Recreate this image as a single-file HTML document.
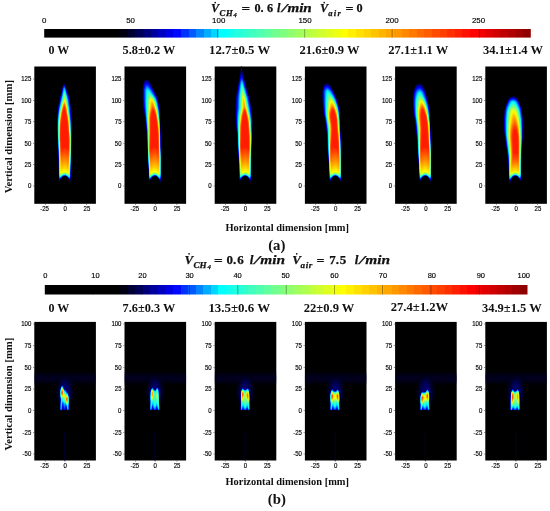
<!DOCTYPE html>
<html><head><meta charset="utf-8"><title>Flame figure</title>
<style>
html,body{margin:0;padding:0;background:#fff;}
body{width:550px;height:511px;overflow:hidden;}
svg{display:block;}
.tk{font-family:"Liberation Sans",sans-serif;fill:#000;stroke:#000;stroke-width:0.15px;}
.lb{font-family:"Liberation Serif",serif;font-weight:bold;fill:#111;}
.ti{font-family:"Liberation Serif",serif;font-weight:bold;font-style:italic;fill:#111;stroke:#111;stroke-width:0.25px;}
.tb{font-family:"Liberation Serif",serif;font-weight:bold;fill:#111;stroke:#111;stroke-width:0.25px;}
.cp{font-family:"Liberation Serif",serif;font-weight:bold;fill:#111;}
</style></head><body>
<svg width="550" height="511" viewBox="0 0 550 511">
<defs><filter id="bl" x="-5%" y="-5%" width="110%" height="110%"><feGaussianBlur stdDeviation="0.35"/></filter><filter id="bl2" x="-10%" y="-10%" width="120%" height="120%"><feGaussianBlur stdDeviation="0.3"/></filter>
<linearGradient id="cb" x1="0" x2="1" y1="0" y2="0"><stop offset="0.0000" stop-color="#000000"/><stop offset="0.0156" stop-color="#000000"/><stop offset="0.0156" stop-color="#000000"/><stop offset="0.0312" stop-color="#000000"/><stop offset="0.0312" stop-color="#000000"/><stop offset="0.0469" stop-color="#000000"/><stop offset="0.0469" stop-color="#000000"/><stop offset="0.0625" stop-color="#000000"/><stop offset="0.0625" stop-color="#000000"/><stop offset="0.0781" stop-color="#000000"/><stop offset="0.0781" stop-color="#000000"/><stop offset="0.0938" stop-color="#000000"/><stop offset="0.0938" stop-color="#000000"/><stop offset="0.1094" stop-color="#000000"/><stop offset="0.1094" stop-color="#000000"/><stop offset="0.1250" stop-color="#000000"/><stop offset="0.1250" stop-color="#000000"/><stop offset="0.1406" stop-color="#000000"/><stop offset="0.1406" stop-color="#000000"/><stop offset="0.1562" stop-color="#000000"/><stop offset="0.1562" stop-color="#000012"/><stop offset="0.1719" stop-color="#000012"/><stop offset="0.1719" stop-color="#000035"/><stop offset="0.1875" stop-color="#000035"/><stop offset="0.1875" stop-color="#000058"/><stop offset="0.2031" stop-color="#000058"/><stop offset="0.2031" stop-color="#00007b"/><stop offset="0.2188" stop-color="#00007b"/><stop offset="0.2188" stop-color="#00009e"/><stop offset="0.2344" stop-color="#00009e"/><stop offset="0.2344" stop-color="#0000c1"/><stop offset="0.2500" stop-color="#0000c1"/><stop offset="0.2500" stop-color="#0000e4"/><stop offset="0.2656" stop-color="#0000e4"/><stop offset="0.2656" stop-color="#0009ff"/><stop offset="0.2812" stop-color="#0009ff"/><stop offset="0.2812" stop-color="#0032ff"/><stop offset="0.2969" stop-color="#0032ff"/><stop offset="0.2969" stop-color="#005bff"/><stop offset="0.3125" stop-color="#005bff"/><stop offset="0.3125" stop-color="#0084ff"/><stop offset="0.3281" stop-color="#0084ff"/><stop offset="0.3281" stop-color="#00adff"/><stop offset="0.3438" stop-color="#00adff"/><stop offset="0.3438" stop-color="#00d6ff"/><stop offset="0.3594" stop-color="#00d6ff"/><stop offset="0.3594" stop-color="#00ffff"/><stop offset="0.3750" stop-color="#00ffff"/><stop offset="0.3750" stop-color="#10ffef"/><stop offset="0.3906" stop-color="#10ffef"/><stop offset="0.3906" stop-color="#20ffdf"/><stop offset="0.4062" stop-color="#20ffdf"/><stop offset="0.4062" stop-color="#30ffcf"/><stop offset="0.4219" stop-color="#30ffcf"/><stop offset="0.4219" stop-color="#40ffbf"/><stop offset="0.4375" stop-color="#40ffbf"/><stop offset="0.4375" stop-color="#50ffaf"/><stop offset="0.4531" stop-color="#50ffaf"/><stop offset="0.4531" stop-color="#60ff9f"/><stop offset="0.4688" stop-color="#60ff9f"/><stop offset="0.4688" stop-color="#70ff8f"/><stop offset="0.4844" stop-color="#70ff8f"/><stop offset="0.4844" stop-color="#80ff7f"/><stop offset="0.5000" stop-color="#80ff7f"/><stop offset="0.5000" stop-color="#90ff6f"/><stop offset="0.5156" stop-color="#90ff6f"/><stop offset="0.5156" stop-color="#a0ff5f"/><stop offset="0.5312" stop-color="#a0ff5f"/><stop offset="0.5312" stop-color="#b0ff4f"/><stop offset="0.5469" stop-color="#b0ff4f"/><stop offset="0.5469" stop-color="#bfff40"/><stop offset="0.5625" stop-color="#bfff40"/><stop offset="0.5625" stop-color="#cfff30"/><stop offset="0.5781" stop-color="#cfff30"/><stop offset="0.5781" stop-color="#dfff20"/><stop offset="0.5938" stop-color="#dfff20"/><stop offset="0.5938" stop-color="#efff10"/><stop offset="0.6094" stop-color="#efff10"/><stop offset="0.6094" stop-color="#ffff00"/><stop offset="0.6250" stop-color="#ffff00"/><stop offset="0.6250" stop-color="#fff000"/><stop offset="0.6406" stop-color="#fff000"/><stop offset="0.6406" stop-color="#ffe100"/><stop offset="0.6562" stop-color="#ffe100"/><stop offset="0.6562" stop-color="#ffd200"/><stop offset="0.6719" stop-color="#ffd200"/><stop offset="0.6719" stop-color="#ffc300"/><stop offset="0.6875" stop-color="#ffc300"/><stop offset="0.6875" stop-color="#ffb400"/><stop offset="0.7031" stop-color="#ffb400"/><stop offset="0.7031" stop-color="#ffa600"/><stop offset="0.7188" stop-color="#ffa600"/><stop offset="0.7188" stop-color="#ff9700"/><stop offset="0.7344" stop-color="#ff9700"/><stop offset="0.7344" stop-color="#ff8800"/><stop offset="0.7500" stop-color="#ff8800"/><stop offset="0.7500" stop-color="#ff7900"/><stop offset="0.7656" stop-color="#ff7900"/><stop offset="0.7656" stop-color="#ff6a00"/><stop offset="0.7812" stop-color="#ff6a00"/><stop offset="0.7812" stop-color="#ff5b00"/><stop offset="0.7969" stop-color="#ff5b00"/><stop offset="0.7969" stop-color="#ff4c00"/><stop offset="0.8125" stop-color="#ff4c00"/><stop offset="0.8125" stop-color="#ff3e00"/><stop offset="0.8281" stop-color="#ff3e00"/><stop offset="0.8281" stop-color="#ff2f00"/><stop offset="0.8438" stop-color="#ff2f00"/><stop offset="0.8438" stop-color="#ff2000"/><stop offset="0.8594" stop-color="#ff2000"/><stop offset="0.8594" stop-color="#ff1100"/><stop offset="0.8750" stop-color="#ff1100"/><stop offset="0.8750" stop-color="#ff0200"/><stop offset="0.8906" stop-color="#ff0200"/><stop offset="0.8906" stop-color="#f10000"/><stop offset="0.9062" stop-color="#f10000"/><stop offset="0.9062" stop-color="#e10000"/><stop offset="0.9219" stop-color="#e10000"/><stop offset="0.9219" stop-color="#d00000"/><stop offset="0.9375" stop-color="#d00000"/><stop offset="0.9375" stop-color="#c00000"/><stop offset="0.9531" stop-color="#c00000"/><stop offset="0.9531" stop-color="#b00000"/><stop offset="0.9688" stop-color="#b00000"/><stop offset="0.9688" stop-color="#a00000"/><stop offset="0.9844" stop-color="#a00000"/><stop offset="0.9844" stop-color="#8f0000"/><stop offset="1.0000" stop-color="#8f0000"/></linearGradient></defs>
<text x="211.0" y="12.2" class="ti" font-size="12.20" text-anchor="start" >V</text>
<circle cx="215.2" cy="2.6" r="0.85" fill="#111"/>
<text x="219.6" y="15.6" class="ti" font-size="8.60" text-anchor="start" textLength="13.0" lengthAdjust="spacing">CH</text>
<text x="233.6" y="15.6" class="ti" font-size="8.60" text-anchor="start" ><tspan font-size="6.4" dy="1.3">4</tspan></text>
<text x="241.4" y="13.4" class="tb" font-size="12.20" text-anchor="start" textLength="8.6" lengthAdjust="spacingAndGlyphs">=</text>
<text x="254.4" y="12.2" class="tb" font-size="12.20" text-anchor="start" >0.</text>
<text x="266.9" y="12.2" class="tb" font-size="12.20" text-anchor="start" >6</text>
<text x="277.0" y="12.2" class="ti" font-size="12.20" text-anchor="start" >l</text>
<text x="281.7" y="12.2" class="ti" font-size="12.20" text-anchor="start" textLength="5.6" lengthAdjust="spacingAndGlyphs">/</text>
<text x="287.4" y="12.2" class="ti" font-size="12.20" text-anchor="start" textLength="24.4" lengthAdjust="spacingAndGlyphs">min</text>
<text x="320.0" y="12.2" class="ti" font-size="12.20" text-anchor="start" >V</text>
<circle cx="324.2" cy="2.6" r="0.85" fill="#111"/>
<text x="328.2" y="15.6" class="ti" font-size="8.60" text-anchor="start" textLength="12.6" lengthAdjust="spacing">air</text>
<text x="345.6" y="13.4" class="tb" font-size="12.20" text-anchor="start" textLength="8.0" lengthAdjust="spacingAndGlyphs">=</text>
<text x="356.6" y="12.2" class="tb" font-size="12.20" text-anchor="start" >0</text>
<text x="184.6" y="264.0" class="ti" font-size="13.00" text-anchor="start" >V</text>
<circle cx="189.1" cy="253.8" r="0.85" fill="#111"/>
<text x="193.4" y="267.6" class="ti" font-size="9.10" text-anchor="start" textLength="13.2" lengthAdjust="spacing">CH</text>
<text x="207.4" y="267.6" class="ti" font-size="9.10" text-anchor="start" ><tspan font-size="6.8" dy="1.4">4</tspan></text>
<text x="214.0" y="265.2" class="tb" font-size="13.00" text-anchor="start" textLength="8.8" lengthAdjust="spacingAndGlyphs">=</text>
<text x="226.6" y="264.0" class="tb" font-size="13.00" text-anchor="start" >0.</text>
<text x="237.3" y="264.0" class="tb" font-size="13.00" text-anchor="start" >6</text>
<text x="249.7" y="264.0" class="ti" font-size="13.00" text-anchor="start" >l</text>
<text x="254.2" y="264.0" class="ti" font-size="13.00" text-anchor="start" textLength="5.8" lengthAdjust="spacingAndGlyphs">/</text>
<text x="260.3" y="264.0" class="ti" font-size="13.00" text-anchor="start" textLength="24.8" lengthAdjust="spacingAndGlyphs">min</text>
<text x="292.2" y="264.0" class="ti" font-size="13.00" text-anchor="start" >V</text>
<circle cx="296.7" cy="253.8" r="0.85" fill="#111"/>
<text x="300.6" y="267.6" class="ti" font-size="9.10" text-anchor="start" textLength="11.6" lengthAdjust="spacing">air</text>
<text x="316.6" y="265.2" class="tb" font-size="13.00" text-anchor="start" textLength="8.0" lengthAdjust="spacingAndGlyphs">=</text>
<text x="329.2" y="264.0" class="tb" font-size="13.00" text-anchor="start" >7.</text>
<text x="339.8" y="264.0" class="tb" font-size="13.00" text-anchor="start" >5</text>
<text x="354.7" y="264.0" class="ti" font-size="13.00" text-anchor="start" >l</text>
<text x="359.2" y="264.0" class="ti" font-size="13.00" text-anchor="start" textLength="5.8" lengthAdjust="spacingAndGlyphs">/</text>
<text x="365.3" y="264.0" class="ti" font-size="13.00" text-anchor="start" textLength="24.8" lengthAdjust="spacingAndGlyphs">min</text>
<rect x="44.2" y="29.0" width="486.6" height="8.6" fill="url(#cb)"/>
<text x="44.3" y="23.4" class="tk" font-size="7.90" text-anchor="middle" >0</text>
<text x="130.6" y="23.4" class="tk" font-size="7.90" text-anchor="middle" >50</text>
<rect x="129.90" y="29.0" width="0.6" height="8.6" fill="#000" fill-opacity="0.55"/>
<text x="218.7" y="23.4" class="tk" font-size="7.90" text-anchor="middle" >100</text>
<rect x="217.20" y="29.0" width="0.6" height="8.6" fill="#000" fill-opacity="0.55"/>
<text x="305.0" y="23.4" class="tk" font-size="7.90" text-anchor="middle" >150</text>
<rect x="304.50" y="29.0" width="0.6" height="8.6" fill="#000" fill-opacity="0.55"/>
<text x="392.0" y="23.4" class="tk" font-size="7.90" text-anchor="middle" >200</text>
<rect x="391.80" y="29.0" width="0.6" height="8.6" fill="#000" fill-opacity="0.55"/>
<text x="478.5" y="23.4" class="tk" font-size="7.90" text-anchor="middle" >250</text>
<rect x="479.10" y="29.0" width="0.6" height="8.6" fill="#000" fill-opacity="0.55"/>
<rect x="44.8" y="285.0" width="482.7" height="9.5" fill="url(#cb)"/>
<text x="45.3" y="278.3" class="tk" font-size="7.50" text-anchor="middle" >0</text>
<text x="95.5" y="278.3" class="tk" font-size="7.50" text-anchor="middle" >10</text>
<rect x="92.77" y="285.0" width="0.6" height="9.5" fill="#000" fill-opacity="0.55"/>
<text x="142.4" y="278.3" class="tk" font-size="7.50" text-anchor="middle" >20</text>
<rect x="141.04" y="285.0" width="0.6" height="9.5" fill="#000" fill-opacity="0.55"/>
<text x="189.6" y="278.3" class="tk" font-size="7.50" text-anchor="middle" >30</text>
<rect x="189.31" y="285.0" width="0.6" height="9.5" fill="#000" fill-opacity="0.55"/>
<text x="237.6" y="278.3" class="tk" font-size="7.50" text-anchor="middle" >40</text>
<rect x="237.58" y="285.0" width="0.6" height="9.5" fill="#000" fill-opacity="0.55"/>
<text x="285.6" y="278.3" class="tk" font-size="7.50" text-anchor="middle" >50</text>
<rect x="285.85" y="285.0" width="0.6" height="9.5" fill="#000" fill-opacity="0.55"/>
<text x="334.5" y="278.3" class="tk" font-size="7.50" text-anchor="middle" >60</text>
<rect x="334.12" y="285.0" width="0.6" height="9.5" fill="#000" fill-opacity="0.55"/>
<text x="383.0" y="278.3" class="tk" font-size="7.50" text-anchor="middle" >70</text>
<rect x="382.39" y="285.0" width="0.6" height="9.5" fill="#000" fill-opacity="0.55"/>
<text x="431.8" y="278.3" class="tk" font-size="7.50" text-anchor="middle" >80</text>
<rect x="430.66" y="285.0" width="0.6" height="9.5" fill="#000" fill-opacity="0.55"/>
<text x="480.8" y="278.3" class="tk" font-size="7.50" text-anchor="middle" >90</text>
<rect x="478.93" y="285.0" width="0.6" height="9.5" fill="#000" fill-opacity="0.55"/>
<text x="523.8" y="278.3" class="tk" font-size="7.50" text-anchor="middle" >100</text>
<text x="48.5" y="54.3" class="lb" font-size="12.70" text-anchor="start" textLength="20.8" lengthAdjust="spacingAndGlyphs">0 W</text>
<text x="122.5" y="54.3" class="lb" font-size="12.70" text-anchor="start" textLength="52.8" lengthAdjust="spacingAndGlyphs">5.8±0.2 W</text>
<text x="209.0" y="54.3" class="lb" font-size="12.70" text-anchor="start" textLength="61.2" lengthAdjust="spacingAndGlyphs">12.7±0.5 W</text>
<text x="299.5" y="54.3" class="lb" font-size="12.70" text-anchor="start" textLength="60.0" lengthAdjust="spacingAndGlyphs">21.6±0.9 W</text>
<text x="388.3" y="54.3" class="lb" font-size="12.70" text-anchor="start" textLength="60.1" lengthAdjust="spacingAndGlyphs">27.1±1.1 W</text>
<text x="483.0" y="54.3" class="lb" font-size="12.70" text-anchor="start" textLength="60.0" lengthAdjust="spacingAndGlyphs">34.1±1.4 W</text>
<text x="48.5" y="311.6" class="lb" font-size="12.70" text-anchor="start" textLength="20.8" lengthAdjust="spacingAndGlyphs">0 W</text>
<text x="122.5" y="311.6" class="lb" font-size="12.70" text-anchor="start" textLength="52.8" lengthAdjust="spacingAndGlyphs">7.6±0.3 W</text>
<text x="208.4" y="311.6" class="lb" font-size="12.70" text-anchor="start" textLength="61.8" lengthAdjust="spacingAndGlyphs">13.5±0.6 W</text>
<text x="303.8" y="311.6" class="lb" font-size="12.70" text-anchor="start" textLength="50.6" lengthAdjust="spacingAndGlyphs">22±0.9 W</text>
<text x="390.7" y="311.0" class="lb" font-size="12.70" text-anchor="start" textLength="57.5" lengthAdjust="spacingAndGlyphs">27.4±1.2W</text>
<text x="482.0" y="311.6" class="lb" font-size="12.70" text-anchor="start" textLength="59.7" lengthAdjust="spacingAndGlyphs">34.9±1.5 W</text>
<text x="225.5" y="231.3" class="lb" font-size="10.50" text-anchor="start" textLength="123.5" lengthAdjust="spacingAndGlyphs">Horizontal dimension [mm]</text>
<text x="225.5" y="485.3" class="lb" font-size="10.50" text-anchor="start" textLength="123.5" lengthAdjust="spacingAndGlyphs">Horizontal dimension [mm]</text>
<text transform="translate(12.3,193.2) rotate(-90)" class="lb" font-size="10.7" textLength="113.2" lengthAdjust="spacingAndGlyphs">Vertical dimension [mm]</text>
<text transform="translate(12.3,450.4) rotate(-90)" class="lb" font-size="10.7" textLength="112.7" lengthAdjust="spacingAndGlyphs">Vertical dimension [mm]</text>
<text x="276.8" y="250.0" class="cp" font-size="14.80" text-anchor="middle" >(a)</text>
<text x="276.8" y="504.1" class="cp" font-size="14.80" text-anchor="middle" >(b)</text>
<rect x="34.3" y="66.5" width="61.6" height="137.3" fill="#000"/>
<rect x="34.3" y="321.9" width="61.6" height="138.6" fill="#000"/>
<rect x="124.5" y="66.5" width="61.6" height="137.3" fill="#000"/>
<rect x="124.5" y="321.9" width="61.6" height="138.6" fill="#000"/>
<rect x="214.7" y="66.5" width="61.6" height="137.3" fill="#000"/>
<rect x="214.7" y="321.9" width="61.6" height="138.6" fill="#000"/>
<rect x="304.9" y="66.5" width="61.6" height="137.3" fill="#000"/>
<rect x="304.9" y="321.9" width="61.6" height="138.6" fill="#000"/>
<rect x="395.1" y="66.5" width="61.6" height="137.3" fill="#000"/>
<rect x="395.1" y="321.9" width="61.6" height="138.6" fill="#000"/>
<rect x="485.3" y="66.5" width="61.6" height="137.3" fill="#000"/>
<rect x="485.3" y="321.9" width="61.6" height="138.6" fill="#000"/>
<g filter="url(#bl)">
<path fill="#00002a" fill-rule="evenodd" d="M64.1,83.4L64.6,83.8L65.1,84.9L69.7,98.8L70.6,105.3L71.5,118.1L71.6,122.8L71.8,143.1L70.8,165.8L70.6,179.8L70.4,182.3L70.1,183.4L69.2,180.6L68.2,178.5L67.0,177.1L65.6,176.3L64.6,176.2L63.5,176.4L62.6,176.9L61.9,177.6L60.5,179.6L59.4,183.2L59.2,183.1L58.9,180.4L58.4,156.6L58.0,144.6L57.4,136.8L56.9,127.4L57.0,119.1L57.7,109.2L59.0,101.2L63.0,85.4L63.5,84.0Z"/>
<path fill="#000057" fill-rule="evenodd" d="M64.1,83.8L64.6,84.2L65.1,85.3L69.1,96.8L69.6,98.9L70.4,105.2L71.3,118.1L71.5,122.9L71.7,143.1L70.8,165.8L70.5,179.1L70.4,180.9L70.1,181.9L68.8,179.1L67.9,177.7L66.7,176.6L65.4,176.1L63.7,176.1L62.0,177.2L60.8,178.8L59.4,181.8L59.1,181.1L58.9,179.6L58.5,156.6L58.1,144.6L57.5,136.8L57.0,127.4L57.1,119.1L57.8,109.2L59.2,101.0L63.0,85.9L63.5,84.5Z"/>
<path fill="#000084" fill-rule="evenodd" d="M64.1,84.3L64.4,84.4L64.9,85.3L68.9,96.7L69.5,98.9L70.3,105.2L71.2,118.1L71.6,133.9L71.6,142.9L70.7,165.8L70.4,178.6L70.3,180.2L70.1,181.0L69.7,180.7L68.5,178.4L67.7,177.2L66.6,176.4L65.2,175.9L63.5,176.0L62.1,176.9L61.0,178.2L59.4,181.0L59.0,179.2L58.8,162.4L58.3,147.6L57.1,127.2L57.2,119.1L58.0,109.4L59.2,101.8L63.0,86.4L63.5,84.9Z"/>
<path fill="#0000b1" fill-rule="evenodd" d="M64.1,84.8L64.6,85.1L65.1,86.2L68.7,96.8L69.3,98.9L70.1,105.2L71.1,118.1L71.5,134.9L71.5,142.9L70.6,165.8L70.4,178.1L70.2,179.8L69.9,180.4L68.5,178.1L67.6,177.0L66.4,176.1L65.2,175.7L63.7,175.8L62.2,176.6L61.0,177.9L59.5,180.3L59.4,180.3L59.2,179.9L59.1,178.6L58.8,162.4L58.4,147.6L57.7,136.8L57.3,127.2L57.3,119.1L58.1,109.4L59.4,101.9L63.0,87.0L63.5,85.4Z"/>
<path fill="#0000dd" fill-rule="evenodd" d="M64.1,85.3L64.6,85.6L65.1,86.8L69.1,98.8L69.9,105.3L70.9,118.2L71.4,134.6L71.4,142.2L70.5,165.8L70.2,179.1L69.9,179.8L67.5,176.8L66.4,176.0L65.2,175.6L63.7,175.7L62.3,176.4L61.2,177.5L59.5,179.8L59.3,179.4L59.2,178.2L58.5,147.6L57.8,136.8L57.4,127.4L57.5,119.2L58.3,109.8L59.2,103.9L60.2,99.1L63.0,87.5L63.5,86.0Z"/>
<path fill="#000dff" fill-rule="evenodd" d="M64.1,86.0L64.6,86.2L65.1,87.3L68.7,98.8L69.6,105.6L70.8,118.4L71.3,134.2L71.3,142.1L70.4,165.6L70.2,176.9L70.1,178.8L69.7,179.3L67.5,176.6L66.6,175.9L65.4,175.5L63.9,175.5L62.4,176.2L61.2,177.2L59.7,179.3L59.4,178.9L59.2,177.4L58.8,156.2L57.5,127.6L57.7,119.4L58.4,110.8L59.2,105.3L63.0,88.2L63.5,86.6Z"/>
<path fill="#0042ff" fill-rule="evenodd" d="M64.2,86.6L64.6,86.8L65.1,87.9L68.4,99.1L69.5,107.6L70.6,119.4L71.2,134.6L71.2,141.4L70.0,178.1L69.7,178.8L67.4,176.3L66.4,175.7L65.4,175.3L63.9,175.4L62.5,175.9L61.5,176.8L59.7,178.8L59.5,178.4L59.3,177.1L58.8,152.2L57.7,130.4L57.8,119.9L58.6,111.4L59.4,106.1L62.3,93.2L63.3,88.2L63.7,87.0Z"/>
<path fill="#0076ff" fill-rule="evenodd" d="M64.2,87.2L64.6,87.6L65.0,88.6L68.1,99.2L69.4,108.8L70.5,121.2L71.1,135.4L71.1,141.9L70.1,176.1L69.9,177.9L69.6,178.3L67.2,176.0L65.4,175.2L64.1,175.2L62.7,175.6L61.5,176.5L59.9,178.3L59.5,178.0L59.4,176.6L59.0,156.2L57.9,130.8L58.0,120.8L58.6,113.6L59.5,107.4L62.5,93.8L63.5,88.4L63.8,87.6Z"/>
<path fill="#00abff" fill-rule="evenodd" d="M64.2,87.9L64.6,88.2L65.1,89.6L67.8,99.4L69.3,110.8L70.4,121.4L71.0,135.1L71.0,141.1L69.9,177.1L69.6,177.9L69.2,177.8L67.9,176.4L66.9,175.6L65.9,175.1L64.7,175.0L63.5,175.1L62.5,175.6L59.9,177.9L59.6,177.2L59.4,175.8L59.1,156.2L58.0,130.9L58.1,121.6L58.7,115.1L59.6,108.2L62.7,94.4L63.9,88.2Z"/>
<path fill="#00dfff" fill-rule="evenodd" d="M64.2,89.1L64.6,89.4L65.2,91.2L67.4,99.4L69.3,112.8L70.2,121.8L70.8,134.9L70.9,141.1L69.9,174.9L69.7,177.0L69.4,177.5L66.9,175.4L65.9,175.0L64.7,174.8L63.5,175.0L62.5,175.4L60.0,177.5L59.7,177.1L59.5,175.1L59.2,156.2L58.2,134.1L58.1,127.4L58.3,122.1L58.8,115.8L59.8,108.8L62.9,95.0L63.7,90.4Z"/>
<path fill="#08fff7" fill-rule="evenodd" d="M64.4,90.3L64.7,90.7L65.2,92.1L67.2,99.6L69.3,114.2L70.1,122.9L70.8,135.8L70.8,141.6L69.8,174.6L69.6,176.6L69.4,177.1L69.2,177.1L66.9,175.2L65.9,174.8L64.7,174.6L63.7,174.7L62.7,175.1L60.4,177.1L60.0,177.1L59.7,176.4L59.5,174.7L59.3,156.1L58.4,134.6L58.3,127.6L58.4,122.2L59.0,115.9L60.0,108.9L64.1,90.6Z"/>
<path fill="#1dffe2" fill-rule="evenodd" d="M64.4,91.4L64.7,91.7L65.1,92.5L66.5,97.6L68.0,106.1L69.6,118.8L70.3,129.6L70.8,139.4L70.6,148.9L69.8,174.2L69.6,176.2L69.2,176.8L66.7,174.9L65.7,174.6L64.7,174.4L63.7,174.6L62.7,174.9L60.2,176.8L59.8,176.2L59.6,174.4L59.3,156.1L58.5,135.6L58.4,127.9L58.6,122.4L59.1,116.1L60.1,109.2L63.9,92.6Z"/>
<path fill="#31ffce" fill-rule="evenodd" d="M64.4,92.4L64.7,92.6L65.1,93.3L66.4,98.2L68.1,108.4L69.6,119.9L70.4,133.1L70.7,139.9L70.5,149.8L69.7,174.1L69.5,175.9L69.1,176.4L66.7,174.8L65.7,174.4L64.7,174.3L63.7,174.4L62.7,174.7L60.7,176.3L60.2,176.4L59.9,175.8L59.7,174.2L59.4,153.9L58.6,135.9L58.5,128.2L58.7,122.9L59.3,116.2L60.3,109.4L63.9,93.7Z"/>
<path fill="#45ffba" fill-rule="evenodd" d="M64.6,93.3L65.2,94.5L66.3,98.8L68.4,111.8L69.5,120.4L70.3,133.4L70.6,139.9L70.4,149.8L69.6,173.8L69.4,175.6L69.1,176.1L66.6,174.5L64.7,174.1L63.7,174.2L62.7,174.5L60.4,176.1L60.0,175.6L59.8,173.9L59.4,153.2L58.7,135.9L58.6,128.2L58.8,122.9L59.4,116.1L60.5,109.2L64.2,93.6Z"/>
<path fill="#5affa5" fill-rule="evenodd" d="M64.6,94.1L64.9,94.4L65.2,95.2L66.2,98.8L68.5,112.9L69.5,121.2L70.3,134.6L70.5,140.1L70.4,148.2L69.6,173.2L69.4,175.1L69.2,175.6L68.9,175.8L66.6,174.3L64.7,173.9L62.9,174.3L60.7,175.7L60.4,175.8L60.0,175.2L59.9,173.8L59.5,153.9L58.8,136.1L58.7,128.4L58.9,123.1L59.6,115.9L60.6,109.2L64.2,94.5Z"/>
<path fill="#6eff91" fill-rule="evenodd" d="M64.6,94.8L64.9,95.1L65.2,95.9L66.0,98.9L68.5,113.9L69.3,121.2L70.3,135.2L70.4,140.1L70.3,148.4L69.5,172.9L69.3,174.8L68.9,175.5L66.6,174.1L64.7,173.7L62.9,174.0L60.5,175.5L60.2,175.1L59.9,173.6L59.6,153.1L58.9,136.2L59.0,123.4L59.6,116.8L60.7,109.8L64.2,95.3Z"/>
<path fill="#83ff7c" fill-rule="evenodd" d="M64.6,95.6L64.9,95.8L65.2,96.5L65.9,99.1L68.4,114.6L69.3,121.8L70.2,135.4L70.4,140.2L70.2,148.8L69.4,172.9L69.2,174.6L69.1,175.0L68.7,175.1L66.6,173.8L64.7,173.5L62.9,173.8L60.5,175.1L60.2,174.7L60.0,173.4L59.5,147.2L58.9,136.4L59.1,123.6L59.8,116.6L60.8,109.8L63.9,97.2Z"/>
<path fill="#97ff68" fill-rule="evenodd" d="M64.6,96.3L65.1,96.8L65.8,99.2L68.3,114.6L69.2,121.6L70.1,135.6L70.3,140.2L70.1,148.8L69.3,172.6L69.1,174.2L68.7,174.8L66.4,173.6L64.7,173.2L62.9,173.6L60.7,174.8L60.3,174.4L60.1,173.1L59.5,147.2L59.0,136.6L59.2,123.8L59.8,117.1L61.0,109.8L63.9,97.9Z"/>
<path fill="#abff54" fill-rule="evenodd" d="M64.7,97.0L65.2,97.9L65.7,99.9L68.3,115.4L69.1,121.9L70.0,134.6L70.2,140.1L70.1,148.2L69.2,172.8L69.1,174.1L68.7,174.5L66.4,173.3L64.7,173.0L63.0,173.3L60.7,174.5L60.4,174.1L60.2,172.9L59.6,146.9L59.1,138.1L59.2,124.4L59.9,117.1L61.1,109.8L63.9,98.7L64.4,97.2Z"/>
<path fill="#c0ff3f" fill-rule="evenodd" d="M64.7,97.7L65.2,98.6L65.6,100.4L68.3,116.2L69.0,122.1L70.0,136.2L70.1,140.4L70.0,149.1L69.0,173.4L68.9,174.0L68.6,174.2L66.4,173.1L64.7,172.8L63.0,173.1L61.0,174.2L60.7,174.2L60.4,173.8L60.3,172.8L59.7,146.9L59.2,136.9L59.4,124.1L60.0,117.2L61.2,109.9L63.9,99.3L64.4,97.9Z"/>
<path fill="#d4ff2b" fill-rule="evenodd" d="M64.7,98.4L65.1,99.1L65.6,100.8L68.2,116.4L68.9,122.2L69.9,135.2L70.1,140.2L69.9,148.9L69.1,171.8L68.9,173.4L68.6,173.9L66.4,172.9L64.7,172.6L63.0,172.8L60.9,173.9L60.5,173.6L60.4,172.1L59.7,146.6L59.3,138.8L59.4,125.1L60.0,118.1L61.3,110.1L63.9,100.0L64.4,98.6Z"/>
<path fill="#e9ff16" fill-rule="evenodd" d="M64.7,99.1L65.1,99.6L65.5,101.4L68.2,117.1L68.8,122.4L69.9,136.8L70.0,140.9L69.7,152.4L68.9,172.1L68.7,173.3L68.4,173.6L66.4,172.6L64.7,172.3L63.2,172.5L60.9,173.5L60.6,172.9L59.8,146.4L59.3,137.4L59.5,124.4L60.2,117.4L61.4,109.9L63.9,100.6L64.4,99.3Z"/>
<path fill="#fdff02" fill-rule="evenodd" d="M64.6,99.8L64.9,100.1L65.4,101.6L68.0,116.2L68.7,122.4L69.8,136.4L69.9,140.6L69.7,151.2L68.9,170.3L68.7,172.4L68.4,173.1L66.4,172.2L64.7,171.8L63.0,172.2L61.0,173.1L60.7,172.4L60.5,170.2L59.8,146.2L59.4,137.6L59.6,124.8L60.3,117.8L61.4,110.4L63.7,101.7L64.2,100.3Z"/>
<path fill="#ffee00" fill-rule="evenodd" d="M64.6,100.4L64.9,100.6L65.4,102.2L66.8,109.4L68.0,116.8L68.6,122.4L69.7,136.8L69.9,140.9L69.6,152.9L68.8,169.1L68.6,171.6L68.2,172.4L67.7,172.3L65.9,170.9L64.7,170.5L63.5,170.9L61.2,172.5L60.9,171.7L60.6,168.4L59.5,137.8L59.7,124.8L60.3,117.9L61.5,110.6L63.8,102.1Z"/>
<path fill="#ffdb00" fill-rule="evenodd" d="M64.6,101.1L65.1,101.8L65.8,105.2L67.9,117.1L68.6,122.6L69.7,137.1L69.7,143.8L69.4,155.7L68.7,168.3L68.4,170.6L68.1,171.0L66.2,169.3L65.6,168.9L64.7,168.7L63.4,169.2L61.5,170.9L61.2,170.9L60.9,169.8L60.7,167.2L59.6,138.1L59.7,125.1L60.4,118.2L61.6,110.8L63.0,105.1L64.1,101.8Z"/>
<path fill="#ffc800" fill-rule="evenodd" d="M64.6,101.7L65.1,102.5L65.8,105.6L67.8,117.2L68.5,122.8L69.6,136.9L69.7,141.8L69.4,154.1L68.7,166.0L68.4,168.8L68.1,169.4L66.2,167.7L65.6,167.3L64.7,167.2L63.4,167.6L61.4,169.4L61.0,168.7L60.7,165.2L59.6,138.1L59.9,124.8L60.5,117.9L61.7,110.8L63.2,104.9L64.1,102.4Z"/>
<path fill="#ffb500" fill-rule="evenodd" d="M64.6,102.3L65.1,103.2L65.7,105.8L67.7,117.2L68.4,122.6L69.5,137.1L69.6,141.1L69.4,152.4L68.7,163.9L68.4,166.7L68.1,167.5L67.7,167.4L66.1,165.9L64.7,165.5L63.4,165.9L61.7,167.4L61.4,167.5L61.0,166.5L60.7,162.6L59.7,137.9L59.9,124.8L60.7,117.8L61.9,110.6L63.4,104.8L64.1,102.9Z"/>
<path fill="#ffa200" fill-rule="evenodd" d="M64.6,102.9L65.2,104.4L66.2,109.0L67.4,115.6L68.2,121.9L69.5,139.2L69.3,151.8L68.7,161.8L68.2,165.2L67.9,165.5L66.2,163.9L65.6,163.6L64.7,163.5L63.4,163.9L61.5,165.5L61.2,165.0L60.9,162.6L59.9,139.9L59.9,126.6L60.5,119.4L61.8,111.4L63.4,105.3L64.1,103.5Z"/>
<path fill="#ff8f00" fill-rule="evenodd" d="M64.6,103.4L65.2,104.9L66.4,110.5L67.6,117.4L68.2,122.9L69.5,139.2L69.2,152.3L68.6,161.4L68.1,163.3L67.7,163.3L66.1,161.8L64.7,161.4L63.4,161.9L61.5,163.4L61.2,162.8L60.9,160.0L59.9,139.8L60.0,126.4L60.7,119.0L61.9,111.7L63.5,105.2L64.1,103.9Z"/>
<path fill="#ff7c00" fill-rule="evenodd" d="M64.4,104.0L64.9,104.4L65.4,106.2L67.4,117.0L68.1,122.2L69.2,136.1L69.4,140.6L69.2,150.6L68.6,159.3L68.2,161.0L67.9,161.3L66.2,159.8L64.7,159.4L63.4,159.8L61.5,161.3L61.2,160.5L60.7,154.9L60.0,137.6L60.0,129.8L60.3,124.4L60.9,118.5L62.0,111.5L63.4,106.2L63.9,104.7Z"/>
<path fill="#ff6900" fill-rule="evenodd" d="M64.4,104.4L64.8,104.8L65.2,106.1L67.2,116.7L67.9,121.9L69.1,135.2L69.3,140.4L69.1,150.2L68.6,157.2L68.2,158.7L67.9,158.9L66.2,157.5L64.9,157.1L63.5,157.4L61.9,158.8L61.5,158.9L61.0,156.9L60.7,152.6L60.1,137.2L60.4,124.3L61.0,118.2L62.2,111.3L63.5,106.1L64.1,104.8Z"/>
<path fill="#ff5600" fill-rule="evenodd" d="M64.4,104.9L64.8,105.2L65.2,106.8L67.2,117.6L67.9,123.0L68.9,134.4L69.2,140.2L69.1,149.2L68.6,155.1L68.1,156.6L66.2,155.2L64.9,154.8L63.5,155.1L61.9,156.5L61.5,156.5L61.2,155.7L60.9,152.8L60.2,137.6L60.2,129.9L60.5,124.1L61.2,118.0L62.2,112.0L63.5,106.6L64.1,105.3Z"/>
<path fill="#ff4300" fill-rule="evenodd" d="M64.4,105.5L64.7,105.8L65.2,107.6L67.1,117.6L67.7,122.8L68.7,133.9L69.1,139.9L68.9,148.6L68.4,153.7L68.1,154.2L66.2,152.8L64.9,152.5L63.5,152.8L61.9,154.1L61.5,154.2L61.2,153.3L60.9,150.5L60.3,136.9L60.4,129.7L60.7,123.6L61.4,117.9L62.4,112.0L63.5,107.2L64.1,105.8Z"/>
<path fill="#ff3000" fill-rule="evenodd" d="M64.4,106.2L64.7,106.6L66.9,117.8L67.6,123.0L68.6,134.0L68.9,139.9L68.8,147.9L68.4,151.4L68.1,151.9L66.2,150.5L64.9,150.1L63.5,150.5L61.9,151.8L61.5,151.8L61.2,151.0L61.0,149.2L60.5,136.8L60.6,129.9L60.9,123.8L61.5,118.1L62.5,112.3L63.7,107.5L64.1,106.5Z"/>
<path fill="#ff1d00" fill-rule="evenodd" d="M64.4,107.2L65.1,109.4L66.6,117.6L68.1,131.3L68.6,140.6L68.5,147.8L68.4,149.0L68.1,149.5L66.6,148.3L65.4,147.9L64.6,147.8L63.7,148.0L61.7,149.5L61.4,149.1L61.2,148.3L60.7,137.2L61.0,125.4L61.5,120.3L62.5,113.9L64.1,107.6Z"/>
<path fill="#00002a" fill-rule="evenodd" d="M146.1,79.5L147.1,79.6L148.0,79.9L148.8,80.4L149.6,81.5L156.1,94.8L157.1,97.2L157.9,100.0L159.4,107.9L160.2,119.2L160.6,137.1L160.6,148.1L160.9,158.1L160.9,178.4L160.7,181.6L160.2,184.5L159.4,180.9L158.2,178.4L156.7,176.8L155.8,176.3L154.8,176.2L153.8,176.4L152.9,176.8L151.4,178.3L150.2,180.7L149.7,182.9L149.4,184.8L149.2,184.6L148.9,179.9L148.6,168.2L147.4,148.4L146.5,130.4L145.6,121.9L143.2,106.6L142.6,98.6L142.6,90.2L143.2,83.7L143.6,82.1L144.2,80.7L145.0,79.9Z"/>
<path fill="#000057" fill-rule="evenodd" d="M146.1,80.0L146.9,80.0L147.9,80.4L148.9,81.2L149.6,82.0L155.9,94.8L156.9,97.1L157.8,99.8L159.3,107.9L160.1,119.2L160.6,137.1L160.5,148.1L160.9,157.8L160.8,177.6L160.6,181.4L160.2,182.5L158.9,179.2L158.1,177.9L156.8,176.6L155.2,176.0L153.8,176.2L152.4,176.9L150.9,178.8L149.4,182.2L149.1,181.2L148.6,168.1L147.4,148.4L146.6,130.4L145.7,121.8L143.4,106.8L142.8,98.6L142.8,90.2L143.4,83.8L143.8,82.2L144.4,81.1L145.1,80.4Z"/>
<path fill="#000084" fill-rule="evenodd" d="M146.2,80.7L147.1,80.8L148.1,81.3L148.9,81.9L149.6,82.7L155.8,94.8L156.8,97.1L157.6,99.7L159.2,108.1L160.0,119.2L160.5,137.1L160.5,148.1L160.8,157.6L160.8,176.9L160.6,180.4L160.2,181.6L158.8,178.8L157.9,177.4L156.7,176.4L155.2,175.9L153.6,176.1L152.1,177.0L150.9,178.5L149.6,181.2L149.4,181.3L149.1,180.2L148.7,168.2L147.5,148.4L146.8,130.4L145.8,121.9L143.4,105.4L143.0,98.6L142.9,90.4L143.6,84.3L143.9,82.9L144.4,81.9L145.2,81.1Z"/>
<path fill="#0000b1" fill-rule="evenodd" d="M146.2,81.5L147.1,81.6L148.1,82.0L149.4,83.3L153.1,89.9L156.6,97.2L157.4,99.7L159.1,108.1L159.9,119.4L160.4,137.1L160.4,148.1L160.7,157.2L160.7,176.1L160.6,179.4L160.2,180.9L159.9,180.6L158.8,178.4L157.8,177.1L156.4,176.1L155.1,175.7L153.6,175.9L152.1,176.8L151.0,178.1L149.6,180.6L149.4,180.6L149.2,179.8L148.8,168.1L147.6,148.4L146.9,130.4L146.0,122.1L143.8,106.5L143.2,98.8L143.1,90.4L143.7,85.1L144.1,83.8L144.6,82.6L145.3,81.9Z"/>
<path fill="#0000dd" fill-rule="evenodd" d="M146.4,82.5L147.1,82.6L147.9,83.0L149.6,84.7L152.6,89.7L156.4,97.4L157.2,99.9L158.9,108.0L159.8,119.8L160.3,137.1L160.3,148.1L160.7,157.4L160.6,176.2L160.4,179.6L160.1,180.3L158.6,177.9L157.8,176.9L156.4,175.9L155.1,175.6L153.6,175.8L152.2,176.5L151.2,177.6L149.6,180.0L149.2,179.3L148.8,168.1L147.7,148.4L147.0,130.4L146.2,122.4L143.9,105.6L143.5,98.9L143.4,90.6L143.9,86.6L144.4,84.8L144.9,83.6L145.6,82.8Z"/>
<path fill="#000dff" fill-rule="evenodd" d="M146.6,83.7L147.2,83.8L148.2,84.4L150.1,86.6L152.1,89.8L155.8,96.6L156.6,98.6L157.2,100.8L158.8,108.2L159.7,119.1L160.2,136.9L160.3,147.9L160.6,158.2L160.6,172.4L160.5,178.1L160.1,179.8L157.6,176.6L156.4,175.8L155.2,175.4L153.8,175.6L152.4,176.2L151.2,177.4L149.8,179.5L149.6,179.5L149.3,178.6L148.9,168.1L147.8,148.4L147.1,130.4L146.4,122.6L144.3,105.4L143.9,99.4L143.8,91.1L144.1,88.6L144.6,86.4L145.1,85.1L145.8,84.1Z"/>
<path fill="#0042ff" fill-rule="evenodd" d="M146.8,84.9L147.4,85.1L148.2,85.7L150.4,88.2L151.7,90.2L155.6,97.1L156.4,99.0L157.1,101.2L158.6,108.6L159.6,119.1L160.2,136.9L160.2,147.9L160.6,158.2L160.6,173.1L160.4,177.9L160.2,178.9L159.9,179.3L157.6,176.4L156.4,175.6L155.2,175.3L153.8,175.4L152.4,176.1L151.4,177.0L149.8,179.1L149.5,178.9L149.4,178.2L147.9,148.4L147.3,130.4L144.7,105.6L144.4,100.1L144.3,91.6L144.4,89.6L145.4,86.3L146.1,85.3Z"/>
<path fill="#0076ff" fill-rule="evenodd" d="M146.9,86.2L147.6,86.3L148.2,86.8L150.4,89.2L155.6,97.9L156.3,99.6L157.1,102.4L158.4,109.1L159.4,119.2L160.1,136.9L160.2,147.9L160.5,158.2L160.5,172.2L160.4,177.2L160.2,178.4L159.9,178.9L157.4,176.1L156.4,175.5L155.2,175.1L153.9,175.2L152.6,175.8L151.4,176.8L149.9,178.6L149.6,178.4L149.4,177.7L147.9,148.4L147.4,130.2L145.9,114.1L145.0,102.2L144.9,90.1L145.8,87.4L146.3,86.6Z"/>
<path fill="#00abff" fill-rule="evenodd" d="M147.1,87.5L147.6,87.5L148.2,87.9L149.9,89.7L155.4,98.4L156.9,102.9L158.3,110.1L159.3,119.8L160.0,136.9L160.1,147.9L160.4,158.2L160.4,171.2L160.3,176.6L159.9,178.4L159.6,178.3L157.4,175.9L156.4,175.3L155.2,175.0L153.9,175.1L152.6,175.6L151.6,176.4L149.9,178.2L149.6,177.9L149.4,177.1L148.0,148.6L147.6,130.2L146.3,115.2L145.5,102.8L145.5,90.6L146.1,88.5L146.6,87.8Z"/>
<path fill="#00dfff" fill-rule="evenodd" d="M147.4,88.8L148.2,89.1L149.4,90.2L155.2,98.8L156.7,103.2L158.2,110.8L159.2,120.1L159.9,136.9L160.0,147.9L160.4,158.2L160.4,171.9L160.2,176.6L160.1,177.6L159.8,178.1L157.4,175.7L156.4,175.1L155.2,174.8L153.9,174.9L152.8,175.3L151.7,176.1L150.1,177.8L149.8,177.7L149.5,176.8L148.2,150.4L147.7,130.2L146.6,116.1L146.0,103.1L146.1,91.1L146.6,89.4L146.9,89.0Z"/>
<path fill="#08fff7" fill-rule="evenodd" d="M147.6,90.1L148.4,90.3L149.6,91.6L153.9,97.2L155.0,99.1L156.0,101.8L156.9,105.1L157.7,108.9L158.4,113.4L159.1,119.9L159.7,131.9L160.3,157.1L160.3,174.2L160.1,176.9L159.8,177.7L159.4,177.5L157.2,175.4L156.2,174.9L155.2,174.6L153.9,174.7L152.8,175.2L151.8,175.9L150.1,177.5L149.8,177.2L149.6,176.5L148.3,150.4L147.9,130.2L146.9,116.1L146.4,103.2L146.7,92.2L147.0,90.8Z"/>
<path fill="#1dffe2" fill-rule="evenodd" d="M147.9,91.2L148.8,91.5L150.2,93.1L153.8,97.5L154.9,99.4L156.0,102.6L156.8,105.9L158.3,114.4L159.0,120.8L159.6,132.1L160.3,157.4L160.2,174.2L160.0,176.6L159.9,177.1L159.6,177.3L157.3,175.2L155.4,174.5L154.1,174.5L152.9,174.9L151.8,175.6L150.2,177.1L149.9,177.0L149.6,175.9L148.3,150.8L148.0,130.6L147.1,116.8L146.7,103.4L147.2,92.9L147.4,91.8Z"/>
<path fill="#31ffce" fill-rule="evenodd" d="M148.2,92.2L149.1,92.6L150.4,93.9L153.6,97.7L154.7,99.6L155.8,102.6L156.7,106.1L157.5,109.9L158.3,115.4L158.9,120.9L159.6,132.2L160.2,157.4L160.2,173.9L159.9,176.2L159.6,177.0L157.2,175.0L155.4,174.3L154.1,174.3L152.9,174.7L151.9,175.3L150.2,176.8L149.9,176.6L149.7,175.6L148.4,150.4L148.2,130.6L147.3,116.8L147.0,103.4L147.1,99.2L147.6,93.6L147.8,92.6Z"/>
<path fill="#45ffba" fill-rule="evenodd" d="M148.6,93.1L149.1,93.3L149.8,93.8L152.6,96.9L153.8,98.4L154.6,99.9L155.7,103.1L156.9,107.8L158.3,116.2L158.8,121.4L159.5,132.6L160.1,157.6L160.1,173.9L159.9,175.9L159.7,176.4L159.4,176.6L157.2,174.8L155.4,174.1L154.1,174.1L152.9,174.5L150.2,176.4L149.9,176.1L149.7,175.2L148.5,150.8L148.3,130.4L147.4,114.6L147.3,103.1L147.4,99.6L148.0,94.1L148.2,93.4Z"/>
<path fill="#5affa5" fill-rule="evenodd" d="M148.9,94.1L149.9,94.6L152.4,97.0L153.7,98.6L154.5,100.1L155.6,103.2L156.8,108.1L158.2,116.4L158.7,121.4L159.4,132.6L160.1,157.4L160.0,173.8L159.8,175.6L159.4,176.3L157.2,174.6L155.6,173.9L154.2,173.9L153.1,174.2L152.1,174.8L150.4,176.1L150.0,175.9L149.8,174.7L148.6,150.6L148.4,130.6L147.6,114.9L147.6,103.1L147.7,99.6L148.6,94.4Z"/>
<path fill="#6eff91" fill-rule="evenodd" d="M149.4,95.0L150.6,95.7L152.8,97.7L153.8,99.1L154.5,100.8L155.5,103.8L156.8,108.8L158.2,117.4L159.4,132.8L160.0,157.4L160.0,173.6L159.8,175.4L159.4,175.9L159.1,175.8L157.1,174.3L155.4,173.7L154.2,173.7L153.1,174.0L150.4,175.8L150.1,175.6L149.8,174.4L148.6,150.6L148.5,130.4L147.8,115.2L147.8,103.1L148.0,99.6L148.6,96.2L149.0,95.2Z"/>
<path fill="#83ff7c" fill-rule="evenodd" d="M149.6,95.8L150.1,95.9L150.8,96.2L152.6,97.9L153.6,99.2L154.5,101.1L155.4,104.0L156.7,108.9L158.2,117.9L159.3,132.9L160.0,157.6L159.9,173.4L159.7,175.1L159.2,175.6L157.1,174.1L155.4,173.5L154.2,173.5L153.1,173.8L150.4,175.5L150.1,175.1L149.9,174.2L148.7,150.6L148.6,130.4L147.9,115.8L148.2,107.4L148.1,103.1L148.3,99.9L148.8,96.9L149.2,96.1Z"/>
<path fill="#97ff68" fill-rule="evenodd" d="M149.9,96.4L151.1,96.9L152.8,98.4L153.6,99.8L154.6,102.0L156.7,109.6L158.2,118.6L159.3,133.1L159.9,157.5L159.8,173.2L159.6,174.8L159.2,175.3L157.1,173.8L155.4,173.3L154.2,173.3L153.1,173.6L150.6,175.2L150.2,174.9L149.9,173.9L148.8,150.6L148.7,130.6L148.1,116.1L148.4,107.4L148.4,103.1L148.6,100.1L149.2,97.2L149.6,96.6Z"/>
<path fill="#abff54" fill-rule="evenodd" d="M150.2,97.0L151.4,97.5L152.8,98.8L153.6,100.1L154.6,102.6L156.6,110.1L158.1,119.2L159.2,133.1L159.9,157.4L159.7,172.8L159.6,174.4L159.2,175.0L156.9,173.5L155.4,173.1L154.2,173.1L153.1,173.4L150.6,174.9L150.2,174.6L150.0,173.8L148.8,150.4L148.8,130.6L148.3,116.2L148.8,101.7L149.3,98.2L149.8,97.3Z"/>
<path fill="#c0ff3f" fill-rule="evenodd" d="M150.4,97.6L151.4,97.9L152.7,99.1L153.6,100.6L154.6,103.1L156.5,110.4L158.1,119.8L159.1,133.1L159.8,157.4L159.6,172.9L159.5,174.2L159.1,174.7L157.1,173.4L155.4,172.8L154.2,172.8L153.2,173.1L150.6,174.5L150.2,174.2L150.1,173.4L148.9,150.4L148.9,130.6L148.4,116.8L149.0,102.2L149.5,98.9L149.9,97.9Z"/>
<path fill="#d4ff2b" fill-rule="evenodd" d="M150.8,98.1L151.6,98.4L152.6,99.4L153.6,101.1L154.5,103.4L156.4,110.6L157.4,115.8L158.1,120.2L159.1,133.2L159.7,157.4L159.6,172.2L159.4,173.9L159.1,174.3L156.9,173.0L155.4,172.6L154.4,172.6L153.2,172.8L150.8,174.2L150.4,174.1L150.2,173.2L148.9,150.4L149.0,130.6L148.6,116.9L149.3,102.4L149.9,99.1L150.2,98.4Z"/>
<path fill="#e9ff16" fill-rule="evenodd" d="M150.9,98.7L151.8,98.9L152.6,99.8L153.6,101.7L154.5,103.9L156.4,110.9L157.4,115.9L158.0,120.6L159.0,133.2L159.7,157.1L159.4,173.2L159.1,174.0L158.8,173.9L156.9,172.7L155.4,172.3L154.2,172.3L153.2,172.5L150.8,173.9L150.4,173.6L150.3,172.8L149.4,160.1L149.0,150.4L149.1,130.6L148.7,117.2L149.4,107.2L149.6,102.8L150.2,99.6L150.5,98.9Z"/>
<path fill="#fdff02" fill-rule="evenodd" d="M151.2,99.3L152.1,99.7L152.9,100.9L153.9,102.9L156.0,109.8L156.9,113.8L158.0,121.2L158.9,133.2L159.6,157.1L159.4,170.7L159.2,173.0L158.9,173.6L156.9,172.4L155.2,171.9L154.2,171.9L153.1,172.2L150.9,173.4L150.6,173.3L150.4,172.6L149.5,160.1L149.1,150.4L149.2,130.6L148.8,117.4L149.9,102.8L150.6,99.9L150.9,99.4Z"/>
<path fill="#ffee00" fill-rule="evenodd" d="M151.4,100.0L152.1,100.3L153.1,101.7L153.9,103.4L155.9,109.9L156.8,114.1L157.9,121.6L158.9,133.6L159.5,157.4L159.3,170.2L159.1,172.5L158.8,173.0L156.1,170.9L154.8,170.5L153.4,170.9L150.9,172.8L150.6,172.2L149.6,160.2L149.1,150.2L149.3,130.6L149.0,117.6L150.2,102.9L150.8,100.8L151.1,100.2Z"/>
<path fill="#ffdb00" fill-rule="evenodd" d="M151.6,100.8L151.9,100.8L152.4,101.2L153.4,102.9L155.4,108.9L157.0,115.6L157.9,122.2L158.8,133.4L159.5,157.2L159.2,168.4L159.0,171.1L158.8,171.7L158.6,171.8L156.4,169.4L155.6,168.9L154.8,168.7L153.9,168.9L153.1,169.4L151.1,171.6L150.8,171.2L150.4,169.3L149.6,159.9L149.2,150.2L149.4,130.6L149.1,117.8L149.3,114.1L150.2,107.2L150.5,103.2L150.9,101.6Z"/>
<path fill="#ffc800" fill-rule="evenodd" d="M151.8,101.5L152.1,101.6L152.6,102.0L153.4,103.5L155.7,110.6L157.3,117.8L158.3,127.1L158.8,134.8L159.4,157.9L159.1,168.1L158.9,169.5L158.6,170.1L156.4,167.8L155.6,167.3L154.8,167.2L153.9,167.3L153.2,167.7L152.4,168.4L151.2,169.8L150.9,169.9L150.6,168.8L149.7,159.6L149.3,149.8L149.5,130.6L149.2,117.8L149.5,113.9L150.5,107.2L150.8,103.4L151.2,102.0Z"/>
<path fill="#ffb500" fill-rule="evenodd" d="M151.9,102.3L152.6,102.6L153.4,104.1L155.6,110.8L157.2,118.2L158.2,127.2L158.8,135.2L159.3,157.2L159.1,165.6L158.9,167.2L158.6,168.3L158.2,168.1L156.4,166.1L155.6,165.7L154.8,165.5L153.2,166.0L152.4,166.7L151.2,168.1L150.9,168.1L150.6,167.0L150.1,163.1L149.3,149.6L149.6,130.6L149.4,117.8L149.7,113.8L150.8,107.2L151.1,103.9L151.4,102.8Z"/>
<path fill="#ffa200" fill-rule="evenodd" d="M152.1,103.1L152.8,103.5L153.8,105.6L155.1,109.4L156.1,113.1L157.2,119.0L158.2,127.4L158.7,135.2L159.2,157.1L159.0,164.1L158.8,165.8L158.4,166.2L156.4,164.1L155.6,163.6L154.8,163.5L153.9,163.6L153.1,164.0L151.2,166.0L150.9,166.1L150.4,164.4L150.1,161.8L149.4,149.4L149.7,130.6L149.5,117.9L149.8,114.6L150.4,110.2L151.5,104.1L151.8,103.4Z"/>
<path fill="#ff8f00" fill-rule="evenodd" d="M152.4,104.1L153.1,104.8L153.8,106.3L155.1,109.9L156.1,113.6L157.2,119.7L158.1,127.2L158.6,134.8L159.1,156.2L158.9,162.4L158.8,163.6L158.4,164.1L156.4,162.1L155.6,161.6L154.8,161.4L153.9,161.5L153.1,162.0L150.9,164.1L150.6,163.5L150.1,160.4L149.5,149.1L149.8,130.8L149.7,117.8L149.9,114.6L150.6,110.2L151.8,104.9L152.1,104.3Z"/>
<path fill="#ff7c00" fill-rule="evenodd" d="M152.6,105.2L153.2,105.9L154.4,108.5L156.1,114.1L157.1,119.3L158.0,127.4L158.5,135.8L159.0,155.4L158.9,159.6L158.8,161.1L158.4,162.0L156.2,159.9L155.4,159.5L154.6,159.4L153.8,159.5L152.9,160.0L150.9,162.0L150.6,161.6L150.1,158.6L149.6,148.9L149.9,130.6L149.8,117.9L150.1,114.6L150.9,110.2L152.1,105.9Z"/>
<path fill="#ff6900" fill-rule="evenodd" d="M152.8,106.4L153.4,107.0L154.4,109.1L155.9,114.0L156.9,119.0L157.9,127.4L158.4,135.0L158.9,153.9L158.8,158.3L158.6,159.3L158.2,159.7L156.2,157.7L155.4,157.2L154.6,157.1L153.8,157.3L152.9,157.7L150.8,159.8L150.4,159.0L150.1,156.6L149.7,148.4L150.0,130.8L150.0,117.9L150.3,114.6L151.1,110.4L152.2,107.0Z"/>
<path fill="#ff5600" fill-rule="evenodd" d="M152.9,107.4L153.6,108.0L154.4,109.6L155.9,114.6L156.9,119.8L157.8,126.9L158.3,133.8L158.7,150.2L158.6,155.8L158.5,156.8L158.2,157.3L156.2,155.4L155.4,154.9L154.6,154.8L153.8,154.9L152.9,155.3L150.8,157.4L150.4,156.8L150.1,154.5L149.8,147.9L150.2,130.8L150.1,117.9L150.5,114.2L151.4,110.2L152.2,108.1Z"/>
<path fill="#ff4300" fill-rule="evenodd" d="M152.9,108.3L153.6,108.7L154.2,109.9L155.8,114.7L156.8,119.7L157.6,127.1L158.1,133.9L158.6,149.6L158.5,153.8L158.2,154.7L158.1,154.8L156.1,153.0L154.6,152.5L153.8,152.6L152.9,153.0L150.8,154.9L150.4,154.4L150.1,152.3L149.9,146.9L150.3,130.9L150.3,117.9L150.8,114.4L151.6,110.8L152.2,109.0Z"/>
<path fill="#ff3000" fill-rule="evenodd" d="M153.1,109.1L153.6,109.4L154.1,110.2L155.6,114.9L156.6,119.9L157.4,126.8L158.0,133.6L158.4,148.4L158.2,151.7L157.9,152.4L155.9,150.5L154.4,150.1L152.8,150.7L150.8,152.5L150.4,152.0L150.2,150.6L150.1,146.2L150.5,131.1L150.6,117.8L151.1,114.1L151.9,111.0L152.4,109.7Z"/>
<path fill="#ff1d00" fill-rule="evenodd" d="M153.1,110.1L153.5,110.2L153.9,110.9L155.4,115.6L156.2,119.7L157.2,127.6L157.8,134.7L158.1,149.0L157.8,149.9L156.1,148.3L154.8,147.8L153.9,147.9L152.9,148.3L150.9,150.0L150.6,149.9L150.4,149.2L150.4,144.8L150.8,130.6L150.9,118.1L151.2,115.4L151.8,113.2L152.6,110.8Z"/>
<path fill="#00002a" fill-rule="evenodd" d="M241.2,66.1L241.7,66.1L242.5,71.6L243.6,76.2L246.9,89.6L249.8,99.1L251.1,107.2L252.2,117.9L252.4,122.2L252.3,137.6L251.2,159.4L251.0,179.8L250.8,182.4L250.4,183.5L249.6,180.6L248.8,178.7L247.6,177.2L246.1,176.3L245.3,176.2L244.3,176.3L242.6,177.2L241.3,179.0L239.9,182.0L239.8,182.0L239.4,180.1L239.0,164.1L237.1,134.9L236.1,125.4L235.6,119.1L235.5,114.9L235.5,106.1L235.9,98.6L236.3,94.9L237.4,87.7L239.7,77.1Z"/>
<path fill="#000057" fill-rule="evenodd" d="M241.4,67.9L241.8,68.7L243.3,76.1L246.7,89.4L249.6,99.1L250.9,107.0L252.0,117.9L252.2,122.2L252.2,137.6L251.2,159.4L250.9,179.1L250.8,181.0L250.4,181.9L249.2,179.2L248.4,177.9L247.3,176.8L246.1,176.2L244.4,176.1L242.7,176.9L241.4,178.4L239.9,181.1L239.6,180.6L239.4,178.2L239.1,164.1L238.0,149.6L237.2,134.9L236.2,125.4L235.8,119.2L235.6,114.8L235.7,106.1L236.0,98.4L236.6,93.7L237.6,87.7L239.7,77.8L241.1,69.1Z"/>
<path fill="#000084" fill-rule="evenodd" d="M241.4,70.5L241.9,71.4L244.9,82.6L246.6,89.4L249.4,99.0L250.8,106.9L251.9,117.9L252.1,122.2L252.1,137.4L251.1,159.4L250.8,178.6L250.7,180.2L250.4,181.1L248.2,177.4L247.1,176.5L245.9,175.9L244.3,175.9L242.8,176.7L241.6,177.9L239.9,180.5L239.7,179.9L239.4,178.1L239.2,164.1L238.1,149.4L237.3,134.9L236.1,121.4L235.8,115.8L236.1,100.9L236.6,95.0L237.9,86.9L240.9,72.0Z"/>
<path fill="#0000b1" fill-rule="evenodd" d="M241.6,72.5L242.3,74.0L244.4,81.5L246.4,89.6L249.3,99.2L250.8,108.5L251.8,118.1L252.0,122.4L252.0,137.6L251.0,159.2L250.8,178.1L250.6,179.9L250.4,180.4L250.3,180.4L248.1,177.1L246.9,176.2L245.8,175.8L244.3,175.8L242.8,176.5L241.6,177.7L240.1,179.9L239.9,179.9L239.8,179.6L239.5,178.1L239.2,164.1L238.2,149.4L237.4,134.8L236.2,121.4L236.0,111.9L236.4,98.9L236.9,94.3L239.1,82.2L240.9,73.8L241.3,72.8Z"/>
<path fill="#0000dd" fill-rule="evenodd" d="M241.6,74.7L242.1,75.3L244.1,81.4L246.2,89.8L248.9,98.9L250.6,109.0L251.6,118.2L251.8,122.6L251.9,137.6L250.9,159.2L250.7,177.4L250.6,179.1L250.3,179.8L247.9,176.8L246.9,176.0L245.8,175.6L244.3,175.6L242.9,176.2L241.8,177.2L240.1,179.5L239.8,178.9L239.6,177.8L239.3,164.1L238.3,149.4L237.6,134.8L236.6,123.4L236.3,113.4L236.8,99.2L237.3,94.4L239.4,81.9L241.1,75.4Z"/>
<path fill="#000dff" fill-rule="evenodd" d="M241.6,76.9L241.9,77.0L242.4,77.9L243.8,81.5L245.8,89.6L248.6,98.9L250.4,110.0L251.4,118.6L251.6,122.8L251.7,137.6L250.9,159.2L250.6,176.9L250.4,178.9L250.1,179.3L247.9,176.6L246.9,175.9L245.8,175.5L244.3,175.5L242.9,176.1L241.8,177.1L240.3,179.0L239.9,178.8L239.7,177.6L239.4,164.1L238.4,149.4L237.7,134.8L236.8,123.8L236.6,115.1L237.3,99.2L237.8,94.0L239.8,82.1L240.8,78.4L241.3,77.2Z"/>
<path fill="#0042ff" fill-rule="evenodd" d="M241.6,78.4L241.9,78.4L242.4,79.2L243.5,81.9L245.3,89.1L248.2,98.9L250.3,111.2L251.3,119.4L251.6,137.8L250.8,159.2L250.6,176.2L250.4,178.1L250.1,178.8L247.7,176.2L246.8,175.7L245.6,175.3L244.3,175.4L242.9,175.9L241.9,176.7L240.3,178.6L239.9,178.2L239.8,177.2L239.5,164.2L238.5,149.2L237.9,134.8L237.2,125.4L237.0,116.8L237.6,107.6L237.8,99.2L238.3,94.2L240.1,82.4L240.9,79.4Z"/>
<path fill="#0076ff" fill-rule="evenodd" d="M241.8,79.6L242.4,80.4L243.2,82.2L244.8,88.6L247.8,99.1L250.1,112.1L251.1,120.1L251.5,137.9L250.7,159.2L250.5,175.8L250.3,177.9L249.9,178.4L247.7,176.1L246.8,175.5L245.8,175.2L244.4,175.2L243.1,175.6L242.1,176.4L240.4,178.1L240.1,178.0L239.9,176.8L239.6,164.4L238.5,146.8L238.0,134.9L237.5,125.6L237.4,118.6L237.6,113.4L238.2,107.6L238.3,99.1L238.8,94.2L240.5,82.6L241.1,80.5L241.4,79.8Z"/>
<path fill="#00abff" fill-rule="evenodd" d="M241.8,80.9L242.3,81.3L242.8,82.5L247.4,99.1L249.9,112.9L250.9,120.4L251.4,138.1L250.6,159.1L250.4,175.1L250.3,177.1L249.9,177.9L249.6,177.8L247.6,175.8L245.8,175.0L244.4,175.0L243.3,175.4L242.3,176.0L240.4,177.8L240.1,177.3L240.0,176.2L239.7,164.2L238.7,149.1L237.8,127.1L237.7,119.9L238.0,113.9L238.7,107.6L238.9,99.6L239.3,94.2L240.8,83.2L241.3,81.5Z"/>
<path fill="#00dfff" fill-rule="evenodd" d="M241.8,82.3L242.1,82.5L242.6,83.6L247.0,99.1L249.7,113.6L250.7,120.9L251.2,132.4L251.2,139.8L250.5,159.1L250.3,174.8L250.2,176.9L249.8,177.5L247.4,175.5L245.8,174.9L244.4,174.8L243.3,175.2L242.3,175.9L240.6,177.4L240.3,177.1L240.0,175.8L239.7,164.2L238.7,146.4L238.0,126.6L238.0,120.8L238.4,114.4L239.2,107.6L239.4,99.6L239.7,94.2L241.0,84.8L241.4,82.9Z"/>
<path fill="#08fff7" fill-rule="evenodd" d="M241.9,83.9L242.3,84.2L242.9,85.8L245.4,93.9L246.7,99.1L248.2,107.6L249.5,114.1L250.5,121.4L251.1,133.1L251.1,140.2L250.5,158.9L250.3,174.4L250.1,176.6L249.8,177.1L249.6,177.2L247.4,175.3L245.8,174.7L244.6,174.6L243.4,175.0L240.6,177.0L240.3,176.6L240.1,175.4L239.8,164.2L238.8,146.4L238.2,122.8L238.7,114.9L239.7,107.6L239.8,99.6L240.2,93.9L241.2,85.8L241.6,84.2Z"/>
<path fill="#1dffe2" fill-rule="evenodd" d="M241.9,85.2L242.4,85.7L245.1,93.8L246.4,98.8L247.9,107.6L249.4,114.4L250.4,121.6L250.9,132.6L251.0,140.2L250.4,158.9L250.2,173.9L250.0,176.1L249.6,176.8L247.1,174.9L246.1,174.6L245.1,174.4L243.3,174.9L241.1,176.5L240.6,176.6L240.3,176.1L240.2,174.9L239.9,164.2L238.9,146.4L238.4,123.8L238.9,115.4L240.0,107.6L240.1,99.6L240.5,93.9L241.4,86.8L241.6,85.7Z"/>
<path fill="#31ffce" fill-rule="evenodd" d="M242.1,86.3L242.8,87.4L244.5,92.8L246.2,99.1L247.7,107.6L249.3,115.1L250.2,121.8L250.8,133.8L250.9,140.8L250.3,158.8L250.1,173.8L249.9,175.8L249.8,176.2L249.4,176.5L247.1,174.8L246.1,174.4L245.1,174.3L243.3,174.7L240.8,176.3L240.4,175.9L240.2,174.6L240.0,164.1L239.0,146.4L238.6,124.2L239.1,115.9L240.3,107.6L240.4,99.6L240.7,93.9L241.5,87.6L241.8,86.6Z"/>
<path fill="#45ffba" fill-rule="evenodd" d="M242.1,87.4L242.6,87.9L244.7,94.1L246.0,99.1L247.5,107.6L249.2,115.2L250.1,122.2L250.7,133.4L250.8,140.6L250.3,158.4L250.1,173.4L249.9,175.4L249.4,176.1L246.9,174.5L245.1,174.1L243.3,174.5L241.3,175.8L240.8,176.0L240.5,175.4L240.3,174.2L240.1,164.2L239.1,146.4L238.8,124.8L239.3,116.1L240.6,107.6L240.6,99.6L241.0,93.9L241.6,88.8Z"/>
<path fill="#5affa5" fill-rule="evenodd" d="M242.3,88.3L242.9,89.3L244.1,92.8L245.8,99.2L247.3,107.6L249.0,115.2L250.0,122.4L250.7,134.6L250.7,141.2L250.2,158.2L250.0,173.4L249.6,175.6L249.3,175.8L246.9,174.3L245.1,173.9L243.3,174.3L240.9,175.7L240.6,175.3L240.4,173.9L240.1,164.1L239.1,146.4L238.9,125.1L239.5,115.9L240.8,107.6L240.9,99.6L241.2,93.8L242.0,88.8Z"/>
<path fill="#6eff91" fill-rule="evenodd" d="M242.4,89.3L243.1,90.4L244.1,93.1L245.6,99.2L247.1,107.6L249.0,115.8L249.9,122.6L250.6,134.2L250.6,141.2L250.1,158.1L249.9,173.2L249.7,174.9L249.3,175.5L246.9,174.1L245.1,173.7L243.4,174.0L241.3,175.3L240.9,175.3L240.6,174.8L240.5,173.8L240.2,164.2L239.2,146.4L239.0,125.4L239.6,116.1L241.0,107.6L241.1,99.6L241.5,93.8L242.1,89.5Z"/>
<path fill="#83ff7c" fill-rule="evenodd" d="M242.4,90.2L242.9,90.7L243.9,93.1L245.5,99.2L246.9,107.6L248.9,115.9L249.9,123.1L250.5,135.2L250.6,142.2L250.0,158.1L249.8,173.2L249.6,174.6L249.4,175.0L249.1,175.2L246.9,173.8L245.1,173.5L243.4,173.8L241.1,175.0L240.8,174.7L240.5,173.4L240.3,164.2L239.3,146.4L239.2,125.8L239.8,116.2L241.3,107.6L241.3,99.6L241.7,93.8L242.1,90.9Z"/>
<path fill="#97ff68" fill-rule="evenodd" d="M242.6,91.0L243.1,91.6L243.8,93.4L245.3,99.4L246.8,107.6L247.9,111.8L248.8,116.2L249.8,123.2L250.4,134.9L250.5,142.1L249.7,172.9L249.5,174.4L249.1,174.9L246.9,173.6L245.1,173.2L243.4,173.5L241.1,174.7L240.8,174.3L240.6,173.2L240.4,164.2L239.4,146.4L239.3,126.1L240.0,116.4L241.5,107.6L241.5,99.8L241.8,94.4L242.2,91.9Z"/>
<path fill="#abff54" fill-rule="evenodd" d="M242.6,91.9L243.1,92.3L243.6,93.5L245.1,99.4L246.6,107.6L247.7,111.8L248.7,116.2L249.7,123.4L250.3,135.1L250.4,142.1L249.6,172.8L249.5,174.1L249.1,174.5L246.8,173.3L245.1,173.0L243.4,173.3L241.3,174.4L240.9,174.2L240.7,173.1L240.4,164.2L239.5,146.4L239.4,126.4L240.1,116.6L241.7,107.6L241.9,96.9L242.2,93.4Z"/>
<path fill="#c0ff3f" fill-rule="evenodd" d="M242.8,92.8L243.1,93.0L243.6,94.1L245.0,99.6L246.4,107.6L247.6,111.8L248.6,116.2L249.6,123.8L250.3,136.2L250.3,145.9L249.5,172.6L249.3,173.9L248.9,174.2L246.8,173.1L245.1,172.8L243.4,173.1L241.3,174.1L240.9,173.7L240.8,172.8L239.5,146.4L239.5,126.8L240.3,116.8L242.0,107.6L242.1,97.6L242.4,93.9Z"/>
<path fill="#d4ff2b" fill-rule="evenodd" d="M242.9,93.7L243.6,94.9L244.6,98.7L246.3,107.6L248.1,114.4L249.0,119.8L249.5,124.2L250.2,136.2L250.2,145.9L249.4,171.9L249.3,173.5L248.9,173.9L246.8,172.9L245.1,172.6L243.4,172.8L241.4,173.8L241.1,173.6L240.9,172.6L239.6,146.4L239.6,126.9L239.9,121.4L240.4,116.8L242.2,107.6L242.3,98.1L242.6,94.4Z"/>
<path fill="#e9ff16" fill-rule="evenodd" d="M243.1,94.8L243.6,95.8L244.5,98.9L246.1,107.6L248.2,115.8L249.1,120.8L249.6,126.4L250.2,136.8L250.2,146.2L249.4,171.1L249.2,173.1L248.8,173.6L246.8,172.6L245.1,172.3L243.6,172.5L241.4,173.5L241.1,173.1L239.7,146.4L239.7,127.2L240.0,121.8L240.6,116.9L241.2,113.1L242.4,107.6L242.5,98.6L242.8,95.6Z"/>
<path fill="#fdff02" fill-rule="evenodd" d="M243.3,96.1L243.8,97.1L244.4,99.5L245.9,107.6L247.2,111.9L248.2,116.2L249.0,121.2L249.5,127.1L250.1,136.9L250.1,146.2L249.3,169.9L249.1,172.4L248.8,173.1L246.8,172.2L245.1,171.8L243.4,172.2L241.6,173.1L241.3,172.7L241.1,171.4L239.7,146.6L239.8,127.4L240.2,121.8L240.7,116.9L241.4,113.1L242.6,107.6L242.7,99.1L242.9,96.5Z"/>
<path fill="#ffee00" fill-rule="evenodd" d="M243.3,97.4L243.8,98.0L244.3,99.6L245.8,107.6L247.0,111.8L248.0,116.1L248.9,121.2L249.5,127.6L250.0,137.1L250.0,146.4L249.2,168.4L248.9,171.7L248.6,172.5L246.3,170.8L245.1,170.5L244.1,170.8L242.1,172.3L241.6,172.4L241.3,171.1L239.8,146.4L239.9,127.6L240.3,122.2L240.8,117.1L241.5,113.2L242.8,107.6L242.9,99.8L243.0,98.1Z"/>
<path fill="#ffdb00" fill-rule="evenodd" d="M243.4,98.6L243.8,98.9L244.1,99.9L245.6,107.6L247.0,112.1L248.1,116.8L248.9,121.9L249.5,128.6L249.9,137.6L249.9,146.8L249.1,168.0L248.8,170.6L248.4,171.0L246.6,169.3L245.9,168.9L245.1,168.7L243.8,169.2L241.8,171.0L241.4,170.2L241.1,167.0L239.9,146.4L240.0,127.6L240.4,122.2L241.0,117.1L241.7,113.2L243.0,107.6L243.1,100.1Z"/>
<path fill="#ffc800" fill-rule="evenodd" d="M243.6,99.9L244.1,100.9L245.5,107.6L246.9,112.1L248.0,117.1L248.8,122.1L249.4,128.9L249.9,137.6L249.9,146.8L249.1,165.4L248.8,168.7L248.4,169.3L246.6,167.7L245.9,167.3L245.1,167.2L243.8,167.6L242.1,169.2L241.8,169.3L241.4,167.8L240.8,160.5L240.0,146.1L240.2,126.8L240.6,121.2L241.2,116.8L241.9,113.1L243.2,107.6L243.3,101.2Z"/>
<path fill="#ffb500" fill-rule="evenodd" d="M243.8,101.8L244.3,102.8L245.3,107.6L246.7,112.1L247.9,117.2L248.7,122.2L249.3,129.1L249.8,137.8L249.8,147.5L248.9,165.2L248.6,167.2L248.3,167.5L246.6,166.0L245.9,165.6L245.1,165.5L243.9,165.8L242.1,167.5L241.8,167.4L241.3,164.9L240.8,159.1L240.0,146.1L240.3,126.6L240.8,121.1L241.4,116.6L242.1,112.9L243.4,107.8L243.6,102.9Z"/>
<path fill="#ffa200" fill-rule="evenodd" d="M244.1,103.8L246.6,112.2L247.9,117.9L248.7,122.6L249.3,129.7L249.7,138.2L249.7,147.8L248.9,162.7L248.6,165.0L248.3,165.5L246.4,163.9L245.1,163.5L243.9,163.8L242.1,165.4L241.8,165.4L241.4,164.2L241.1,161.6L240.4,152.9L240.1,145.2L240.5,125.1L241.5,116.6L242.3,112.8L243.6,107.9L243.9,103.8Z"/>
<path fill="#ff8f00" fill-rule="evenodd" d="M244.3,105.7L246.3,111.4L247.6,116.8L248.5,122.1L249.2,129.2L249.6,137.8L249.6,147.4L248.9,160.8L248.6,162.9L248.3,163.4L246.4,161.8L245.1,161.4L243.8,161.8L242.1,163.3L241.8,163.3L241.4,162.3L241.1,159.9L240.4,151.6L240.2,142.2L240.4,129.2L240.7,124.4L241.2,119.8L241.9,115.4Z"/>
<path fill="#ff7c00" fill-rule="evenodd" d="M244.4,107.5L245.1,108.6L245.9,110.8L247.6,117.4L248.4,122.5L249.1,130.1L249.5,138.2L249.5,147.2L248.6,160.5L248.3,161.2L246.4,159.8L245.1,159.4L243.8,159.8L242.1,161.2L241.8,161.2L241.4,160.4L241.1,158.1L240.5,150.2L240.3,140.8L240.6,128.9L240.9,123.8L241.4,118.9L242.3,114.2L243.6,109.2L244.1,107.8Z"/>
<path fill="#ff6900" fill-rule="evenodd" d="M244.4,108.2L244.8,108.4L245.3,109.4L246.3,112.5L247.4,117.3L248.3,122.2L249.4,136.6L249.4,149.4L248.8,156.9L248.3,158.9L247.9,158.8L246.4,157.5L245.1,157.1L243.6,157.6L241.9,159.0L241.6,158.8L241.3,157.5L240.4,148.3L240.4,141.6L240.7,127.6L241.3,121.3L242.1,115.9L243.6,109.8L244.1,108.5Z"/>
<path fill="#ff5600" fill-rule="evenodd" d="M244.4,108.8L244.8,108.9L245.3,109.8L246.4,113.7L247.6,118.8L248.3,123.2L249.3,136.8L249.3,149.2L248.8,154.8L248.3,156.5L247.9,156.4L246.4,155.1L245.1,154.8L243.6,155.2L241.8,156.7L241.4,156.2L241.1,154.4L240.5,146.6L240.9,127.2L241.4,121.2L242.3,115.9L243.6,110.5L244.1,109.1Z"/>
<path fill="#ff4300" fill-rule="evenodd" d="M244.6,109.3L245.3,110.4L246.4,114.3L247.4,118.8L248.1,123.1L249.1,136.6L249.2,145.8L249.1,149.6L248.8,152.7L248.3,154.2L246.4,152.8L245.1,152.5L243.6,152.9L241.8,154.3L241.4,154.0L241.1,152.5L240.6,146.4L241.1,126.8L241.6,121.4L242.4,116.1L243.9,110.2L244.3,109.5Z"/>
<path fill="#ff3000" fill-rule="evenodd" d="M244.6,110.0L245.3,111.1L246.4,115.2L247.4,119.9L247.9,123.3L248.9,136.2L249.1,145.6L249.0,149.1L248.6,151.3L248.3,151.8L246.4,150.4L245.1,150.1L243.6,150.5L241.6,151.9L241.3,151.3L241.0,149.8L240.8,146.1L241.3,126.8L241.8,121.8L242.6,116.5L243.9,111.1L244.3,110.3Z"/>
<path fill="#ff1d00" fill-rule="evenodd" d="M244.6,111.0L245.1,111.7L246.1,115.2L247.1,119.8L247.6,123.1L248.6,135.6L248.8,147.8L248.6,148.9L248.3,149.4L246.4,148.1L245.1,147.8L243.6,148.2L241.6,149.6L241.2,148.6L241.1,145.8L241.6,126.6L242.3,120.6L242.9,116.7L243.9,112.5Z"/>
<path fill="#00002a" fill-rule="evenodd" d="M326.6,83.2L327.8,83.3L329.0,83.9L330.0,85.0L331.0,86.6L334.0,92.4L335.6,96.2L337.0,100.0L338.6,105.8L339.4,109.6L340.0,115.4L340.4,132.1L340.9,139.8L341.2,173.6L341.1,179.2L340.8,181.9L340.6,182.3L340.5,182.3L339.1,179.0L337.8,177.2L336.5,176.4L334.8,176.2L333.2,176.9L331.8,178.4L330.8,180.5L330.0,183.5L329.8,183.5L329.4,180.2L328.8,163.9L327.2,142.1L326.7,131.9L325.7,124.2L323.8,113.7L323.2,108.9L322.5,102.1L322.4,97.9L322.4,91.8L323.1,86.7L323.6,85.4L324.5,84.2L325.6,83.4Z"/>
<path fill="#000057" fill-rule="evenodd" d="M326.5,83.6L327.3,83.6L328.2,83.9L329.8,85.2L330.8,86.7L333.6,92.0L335.5,96.2L336.8,99.8L338.5,105.6L339.3,109.6L340.0,118.8L340.3,131.6L340.8,139.6L341.0,150.9L341.1,176.9L340.9,180.2L340.7,181.1L340.5,181.4L339.1,178.7L338.1,177.3L336.8,176.4L335.3,176.0L334.0,176.3L332.7,177.1L331.4,178.8L330.0,182.0L329.8,181.9L329.6,181.1L329.3,176.8L328.9,163.9L327.3,142.1L326.8,131.9L325.7,123.9L324.0,114.0L323.3,109.2L322.7,102.1L322.5,97.9L322.5,91.9L323.2,87.2L323.6,86.0L324.5,84.7L325.5,83.9Z"/>
<path fill="#000084" fill-rule="evenodd" d="M326.5,84.3L327.3,84.3L328.1,84.6L329.1,85.2L330.0,85.9L330.8,87.1L333.3,91.7L335.1,95.8L336.6,99.8L338.3,105.4L339.1,109.4L339.9,118.9L340.2,131.6L340.7,139.6L340.9,150.9L341.0,176.2L340.8,179.8L340.5,180.7L339.0,178.2L338.1,177.1L336.8,176.2L335.5,175.8L334.0,176.1L332.5,177.1L331.5,178.4L330.0,181.2L329.6,180.3L329.0,163.9L327.4,142.1L326.9,131.9L325.9,124.1L323.8,111.6L323.0,104.2L322.7,98.1L322.7,91.9L323.3,87.6L323.8,86.3L324.3,85.5L325.3,84.7Z"/>
<path fill="#0000b1" fill-rule="evenodd" d="M326.5,85.0L328.1,85.3L329.8,86.4L330.8,87.7L333.0,91.5L335.0,95.8L336.3,99.3L338.1,105.4L339.0,109.2L339.8,118.6L340.1,131.8L340.6,140.2L341.0,173.8L340.8,178.8L340.5,180.2L340.1,179.9L338.8,177.8L338.0,176.8L336.8,176.0L335.5,175.7L334.0,175.9L332.6,176.8L331.5,178.1L330.1,180.5L330.0,180.5L329.7,179.6L329.0,163.9L327.6,144.2L327.0,131.9L326.1,124.1L324.0,111.9L323.0,101.4L322.9,92.4L323.3,88.9L323.8,87.1L324.3,86.3L325.3,85.5Z"/>
<path fill="#0000dd" fill-rule="evenodd" d="M326.5,85.8L328.0,86.0L329.5,86.8L330.8,88.5L332.6,91.5L334.8,96.0L336.3,99.8L338.0,105.3L338.9,109.6L339.7,118.9L340.8,150.9L340.9,175.4L340.7,178.8L340.6,179.4L340.3,179.6L338.9,177.6L338.0,176.6L336.8,175.9L335.5,175.6L334.0,175.8L332.7,176.6L331.6,177.7L330.1,180.0L330.0,179.9L329.8,179.2L329.5,176.6L329.1,163.9L327.8,144.2L327.2,131.9L326.2,124.2L324.1,111.6L323.3,101.6L323.1,92.9L323.4,90.2L323.9,88.2L324.5,87.1L325.3,86.3Z"/>
<path fill="#000dff" fill-rule="evenodd" d="M326.6,86.6L328.0,86.8L329.5,87.8L331.5,90.3L333.0,92.9L335.0,97.1L336.3,100.5L338.0,106.1L338.8,110.2L339.6,119.1L339.9,130.2L340.4,139.6L340.7,150.8L340.8,174.8L340.7,178.2L340.3,179.2L337.8,176.3L336.6,175.7L335.5,175.4L334.1,175.6L332.8,176.3L331.7,177.4L330.3,179.4L330.0,179.3L329.8,178.6L329.2,164.1L327.9,144.2L327.3,131.8L326.4,124.1L324.5,112.2L323.7,101.6L323.5,93.1L323.7,90.9L324.3,89.1L324.9,87.8L325.6,87.0Z"/>
<path fill="#0042ff" fill-rule="evenodd" d="M326.8,87.4L327.5,87.4L328.3,87.8L330.1,89.4L331.5,91.2L333.6,95.1L335.3,98.7L336.6,102.3L338.0,106.9L338.6,110.4L339.5,119.1L340.6,150.8L340.8,174.1L340.6,177.4L340.3,178.8L340.0,178.6L338.8,177.1L337.8,176.2L336.8,175.6L335.6,175.3L334.3,175.4L333.0,176.0L332.0,176.9L330.3,179.0L330.0,178.7L329.8,177.8L329.2,164.1L328.0,144.1L327.5,131.8L326.7,124.6L324.9,113.2L324.2,102.1L324.0,93.1L324.2,91.2L324.6,89.8L325.3,88.6L326.0,87.8Z"/>
<path fill="#0076ff" fill-rule="evenodd" d="M327.0,88.4L327.6,88.4L328.5,88.8L330.3,90.5L331.3,91.9L333.8,96.3L335.3,99.6L336.6,103.2L337.8,107.3L338.5,110.7L339.4,119.6L339.7,130.1L340.2,139.6L340.5,150.8L340.7,174.1L340.5,177.4L340.3,178.2L340.1,178.4L337.8,176.0L336.8,175.4L335.6,175.1L334.3,175.2L333.0,175.8L332.0,176.7L330.3,178.6L330.0,178.2L329.9,177.4L328.2,144.2L327.7,131.1L327.0,124.6L325.3,113.9L324.7,103.2L324.7,91.6L325.0,90.6L325.6,89.4L326.3,88.7Z"/>
<path fill="#00abff" fill-rule="evenodd" d="M327.1,89.4L327.8,89.4L328.5,89.7L330.0,91.1L332.3,94.6L334.1,97.8L335.4,100.8L336.7,104.4L337.7,107.9L338.4,111.2L339.3,119.9L339.5,130.1L340.2,139.6L340.5,150.6L340.6,173.8L340.5,177.0L340.1,178.0L339.8,177.9L337.6,175.7L336.6,175.2L335.6,175.0L334.3,175.1L333.0,175.7L332.0,176.5L330.5,178.2L330.1,178.0L329.9,177.1L328.4,146.2L327.9,130.6L327.3,124.6L325.7,114.8L325.3,108.6L325.2,101.6L325.3,92.2L325.4,91.2L325.8,90.5L326.5,89.7Z"/>
<path fill="#00dfff" fill-rule="evenodd" d="M327.5,90.3L328.6,90.7L329.8,91.9L332.4,95.6L334.5,99.4L335.8,102.4L337.1,106.4L337.9,109.6L338.5,113.2L339.2,120.4L339.4,129.9L340.1,139.6L340.4,150.8L340.6,173.8L340.4,176.8L340.2,177.4L340.0,177.6L337.6,175.5L336.6,175.0L335.6,174.8L334.3,174.9L333.1,175.4L330.5,177.8L330.1,177.4L330.0,176.6L328.6,148.4L328.1,130.6L327.5,124.2L326.1,115.2L325.8,110.2L325.7,101.8L325.9,92.8L326.4,91.1L326.8,90.6Z"/>
<path fill="#08fff7" fill-rule="evenodd" d="M327.6,91.3L328.1,91.4L328.8,91.8L330.6,93.9L332.8,96.9L334.5,100.1L335.9,103.4L337.0,107.1L337.8,110.1L338.4,114.1L339.1,120.6L339.3,129.9L340.0,139.4L340.3,150.6L340.5,173.4L340.3,176.4L340.0,177.3L339.6,177.1L337.6,175.3L336.6,174.8L335.6,174.6L334.3,174.7L333.1,175.2L330.6,177.4L330.3,177.3L330.1,176.4L328.8,149.9L328.3,130.2L327.7,124.4L326.4,115.8L326.1,111.2L326.1,101.8L326.5,93.9L326.9,92.1L327.2,91.6Z"/>
<path fill="#1dffe2" fill-rule="evenodd" d="M328.0,92.3L328.5,92.4L329.1,92.9L331.1,95.1L333.0,97.9L334.6,100.8L335.9,104.2L337.1,107.9L338.4,115.1L339.0,120.8L339.2,129.9L339.9,139.4L340.3,150.8L340.5,173.4L340.1,176.6L339.8,176.9L337.5,175.0L335.6,174.5L334.5,174.5L333.3,174.9L330.6,177.1L330.3,176.8L330.1,176.1L328.9,150.1L328.5,130.1L328.0,124.6L326.7,116.2L326.4,112.8L326.5,102.8L326.7,97.6L327.2,93.4L327.5,92.6Z"/>
<path fill="#31ffce" fill-rule="evenodd" d="M328.3,93.2L329.5,93.9L331.1,95.7L333.0,98.4L334.5,101.2L335.9,104.8L336.9,108.1L338.3,115.8L338.9,121.1L339.1,129.9L339.8,139.2L340.2,150.8L340.4,173.2L340.2,175.8L339.8,176.6L337.5,174.8L335.8,174.3L334.5,174.3L333.3,174.7L330.8,176.7L330.4,176.6L330.1,175.4L329.0,150.1L328.7,130.1L328.1,124.4L326.9,116.2L326.6,112.9L326.8,103.1L327.1,98.2L327.6,94.2L327.8,93.5Z"/>
<path fill="#45ffba" fill-rule="evenodd" d="M328.6,94.1L329.8,94.7L331.5,96.6L333.2,99.1L334.5,101.8L335.9,105.2L336.9,108.6L338.3,116.2L338.7,121.1L339.0,129.8L339.7,139.4L340.1,150.8L340.3,173.2L340.1,175.5L340.0,176.0L339.6,176.3L337.5,174.6L335.8,174.1L334.6,174.1L333.5,174.5L330.8,176.4L330.5,176.2L330.2,175.1L329.1,150.2L328.9,130.1L328.3,124.3L327.1,116.2L326.8,113.1L327.0,103.2L327.3,98.9L328.0,94.9L328.3,94.2Z"/>
<path fill="#5affa5" fill-rule="evenodd" d="M329.0,94.9L330.1,95.6L331.8,97.5L333.3,99.8L334.5,102.2L335.8,105.4L336.8,108.8L338.2,116.8L338.6,120.6L338.9,130.1L339.6,139.2L340.1,150.8L340.3,173.1L340.1,175.2L339.6,175.9L337.5,174.4L335.8,173.9L334.6,173.9L333.5,174.3L330.8,176.1L330.5,175.8L330.3,174.8L329.3,154.2L329.0,130.1L328.6,124.9L327.3,116.8L327.0,113.2L327.5,100.2L328.2,96.1L328.5,95.2Z"/>
<path fill="#6eff91" fill-rule="evenodd" d="M329.3,95.8L330.5,96.4L332.1,98.4L333.5,100.5L334.7,103.1L335.9,106.2L336.8,109.4L338.2,117.2L338.6,121.4L338.9,130.2L339.6,139.4L340.0,150.8L340.2,160.9L340.2,172.8L340.0,174.9L339.6,175.6L339.3,175.5L337.3,174.1L335.8,173.7L334.6,173.7L333.5,174.0L331.0,175.8L330.6,175.6L330.3,174.5L329.3,154.6L329.2,130.1L328.7,124.9L327.5,116.9L327.2,113.4L327.8,100.6L328.5,96.9L328.8,96.1Z"/>
<path fill="#83ff7c" fill-rule="evenodd" d="M329.6,96.6L330.8,97.3L332.3,99.0L333.6,101.1L334.8,103.9L336.8,109.9L338.1,117.6L338.5,121.4L338.8,130.2L339.5,139.4L339.9,150.8L340.2,160.9L340.1,172.8L339.8,175.1L339.5,175.3L337.5,174.0L335.8,173.5L334.6,173.5L333.5,173.8L331.0,175.5L330.6,175.2L330.4,174.1L329.4,154.6L329.3,130.1L328.9,124.9L327.6,116.9L327.4,113.4L327.5,109.4L328.1,100.9L328.8,97.6L329.1,96.9Z"/>
<path fill="#97ff68" fill-rule="evenodd" d="M329.8,97.4L330.8,97.8L332.3,99.5L333.5,101.4L334.8,104.3L336.7,110.1L338.1,117.8L338.4,121.6L338.7,130.2L339.4,139.4L339.9,150.8L340.1,160.9L340.0,172.4L339.9,174.2L339.5,175.0L337.3,173.7L335.8,173.3L334.6,173.3L333.6,173.5L331.0,175.1L330.6,174.8L330.4,173.9L329.5,154.8L329.4,129.9L329.0,124.9L327.8,117.1L327.6,113.6L327.7,109.6L328.4,101.4L329.0,98.4L329.4,97.8Z"/>
<path fill="#abff54" fill-rule="evenodd" d="M330.1,98.1L331.1,98.6L332.5,100.1L333.5,101.8L334.8,104.8L336.6,110.4L338.0,118.1L338.3,121.8L338.6,130.2L339.3,139.4L339.8,150.6L340.0,160.4L339.9,173.8L339.5,174.7L339.1,174.6L337.0,173.3L335.1,173.0L333.3,173.5L331.0,174.8L330.6,174.4L330.5,173.6L329.6,154.8L329.4,145.1L329.6,129.9L329.2,124.9L328.0,117.1L327.8,113.8L327.9,109.6L328.7,101.6L329.3,99.1L329.7,98.4Z"/>
<path fill="#c0ff3f" fill-rule="evenodd" d="M330.5,98.9L331.5,99.4L332.6,100.8L333.8,103.0L335.0,105.7L336.5,110.8L337.9,118.4L338.5,130.1L339.3,139.4L339.8,150.8L340.0,160.6L339.8,173.6L339.6,174.1L339.3,174.4L337.3,173.2L335.8,172.8L334.6,172.8L333.6,173.1L331.1,174.5L330.8,174.3L330.6,173.4L329.6,154.9L329.5,145.2L329.7,129.8L329.3,124.9L328.2,117.2L327.9,113.9L328.1,109.6L329.0,102.1L329.6,99.7L330.0,99.1Z"/>
<path fill="#d4ff2b" fill-rule="evenodd" d="M330.6,99.6L331.5,100.0L332.6,101.3L333.8,103.4L334.9,105.9L336.4,110.9L337.9,118.6L338.4,130.2L339.2,139.6L339.7,150.6L339.9,168.8L339.7,173.1L339.6,173.8L339.3,174.1L337.3,173.0L335.8,172.6L334.6,172.6L333.6,172.8L331.1,174.2L330.8,173.8L330.7,173.1L329.8,159.9L329.6,145.2L329.8,129.8L329.5,124.9L328.3,117.2L328.1,114.1L328.4,109.8L329.2,102.8L329.8,100.6L330.2,99.9Z"/>
<path fill="#e9ff16" fill-rule="evenodd" d="M331.0,100.4L331.8,100.8L332.8,102.1L334.0,104.3L335.0,106.7L336.0,109.7L336.7,112.8L337.8,118.9L338.4,130.1L339.1,139.6L339.6,150.9L339.8,160.2L339.8,168.4L339.6,172.9L339.5,173.5L339.1,173.7L337.3,172.7L335.8,172.3L334.6,172.3L333.6,172.5L331.3,173.9L331.0,173.7L330.8,172.9L329.9,160.1L329.7,145.2L330.0,134.9L330.0,129.6L329.6,124.9L328.5,117.2L328.3,114.1L328.6,109.9L329.5,103.4L330.1,101.1L330.5,100.6Z"/>
<path fill="#fdff02" fill-rule="evenodd" d="M331.1,101.1L332.0,101.5L332.8,102.6L334.0,104.7L335.0,107.2L336.7,113.2L337.7,119.1L338.3,130.1L339.1,139.6L339.6,150.6L339.7,166.1L339.5,172.4L339.1,173.3L337.0,172.2L335.1,171.8L333.5,172.2L331.3,173.4L331.0,172.9L330.0,160.0L329.8,145.2L330.1,134.8L330.1,129.4L329.8,124.8L328.7,117.4L328.5,114.2L328.8,110.1L329.7,104.2L330.4,101.9L330.8,101.3Z"/>
<path fill="#ffee00" fill-rule="evenodd" d="M331.3,101.9L332.0,102.1L333.0,103.4L334.0,105.2L335.0,107.7L336.7,113.6L337.7,119.2L338.2,130.1L339.0,139.6L339.5,150.8L339.6,166.2L339.4,171.4L339.2,172.4L339.0,172.8L336.5,170.9L335.1,170.5L333.8,171.0L331.5,172.8L331.1,172.4L330.9,170.6L330.1,160.1L329.9,154.6L329.9,145.2L330.3,134.9L330.3,129.4L329.9,124.8L328.8,117.4L328.6,114.4L329.0,110.1L329.9,105.1L330.6,102.8L331.0,102.1Z"/>
<path fill="#ffdb00" fill-rule="evenodd" d="M331.5,102.6L332.1,102.8L333.1,104.1L334.1,106.0L335.1,108.6L336.7,114.1L337.6,119.4L338.1,130.1L338.9,139.8L339.5,150.9L339.6,165.8L339.3,170.1L339.1,171.1L338.8,171.6L337.0,169.5L335.6,168.8L334.8,168.8L333.8,169.2L333.0,169.9L331.6,171.5L331.3,171.3L331.0,169.8L330.1,160.2L330.0,154.4L330.0,145.2L330.4,134.8L330.4,129.2L330.1,124.8L329.0,117.4L328.8,114.4L329.2,110.2L330.1,105.8L330.8,103.4Z"/>
<path fill="#ffc800" fill-rule="evenodd" d="M331.6,103.3L332.3,103.6L333.1,104.6L335.1,108.9L336.6,114.5L337.5,119.4L338.0,130.1L338.9,139.6L339.4,150.4L339.5,164.4L339.2,168.8L338.8,169.9L337.0,168.0L335.6,167.2L334.8,167.2L333.8,167.6L333.0,168.3L331.6,169.8L331.3,169.6L331.0,167.9L330.2,160.1L330.1,153.9L330.1,145.2L330.5,134.8L330.5,129.1L330.2,124.8L329.1,117.6L329.0,114.6L329.4,110.4L330.2,106.4L331.0,104.1Z"/>
<path fill="#ffb500" fill-rule="evenodd" d="M331.8,104.0L332.5,104.3L333.3,105.4L335.1,109.2L336.6,114.6L337.4,119.6L337.9,130.1L338.8,139.8L339.3,150.6L339.4,164.1L339.0,167.7L338.6,168.1L336.8,166.1L336.0,165.6L335.1,165.5L333.6,166.0L331.8,167.9L331.5,168.0L331.1,167.1L330.3,159.2L330.1,149.8L330.7,129.4L330.4,124.8L329.3,117.6L329.1,114.6L329.5,111.1L330.0,108.6L331.0,105.1L331.4,104.4Z"/>
<path fill="#ffa200" fill-rule="evenodd" d="M332.0,104.7L332.6,105.0L333.3,105.9L335.0,109.5L336.5,114.8L337.3,119.5L337.9,130.1L338.7,139.6L339.2,150.1L339.3,161.4L339.0,165.5L338.6,166.1L336.6,164.0L336.0,163.6L335.1,163.5L333.6,164.0L331.8,165.9L331.5,166.0L331.0,164.5L330.5,160.6L330.2,148.1L330.8,129.4L330.5,124.8L329.5,117.6L329.3,114.6L329.7,111.2L330.2,108.9L331.1,105.8L331.6,105.1Z"/>
<path fill="#ff8f00" fill-rule="evenodd" d="M332.1,105.5L332.6,105.6L333.3,106.4L335.0,110.0L336.5,115.3L337.2,119.6L337.8,130.1L338.6,139.9L339.1,149.9L339.2,160.4L339.0,163.1L338.6,164.0L336.6,162.0L336.0,161.6L335.1,161.4L334.3,161.6L333.5,162.0L331.5,164.0L331.1,163.5L330.6,160.8L330.4,155.6L330.3,148.2L331.0,129.2L330.7,124.8L329.6,117.6L329.5,114.8L329.6,112.7L330.4,109.1L331.3,106.4L331.7,105.8Z"/>
<path fill="#ff7c00" fill-rule="evenodd" d="M332.3,106.2L332.8,106.3L333.5,107.2L335.0,110.5L336.3,115.1L337.1,119.9L337.6,129.6L338.5,139.1L339.0,149.4L339.0,159.4L338.8,161.3L338.5,161.8L336.5,159.8L335.8,159.5L335.0,159.4L333.5,159.9L331.6,161.8L331.3,161.9L331.0,161.1L330.7,159.8L330.5,155.5L330.4,148.1L331.1,129.1L330.9,124.8L329.8,117.6L329.6,114.8L329.8,112.8L330.6,109.2L331.6,106.9Z"/>
<path fill="#ff6900" fill-rule="evenodd" d="M332.5,106.9L333.0,107.1L333.5,107.7L334.8,110.5L336.1,115.0L337.0,119.5L337.5,129.9L338.4,139.2L338.9,148.8L338.9,156.6L338.8,158.4L338.5,159.5L336.6,157.7L335.5,157.2L334.5,157.2L333.5,157.6L331.3,159.6L331.0,159.0L330.8,157.9L330.5,147.9L331.2,134.1L331.3,128.9L331.0,124.8L330.0,117.7L329.8,114.9L330.0,112.9L330.8,109.5L331.6,107.6L332.1,107.0Z"/>
<path fill="#ff5600" fill-rule="evenodd" d="M332.5,107.6L333.0,107.7L333.5,108.3L334.6,110.6L336.0,114.9L336.8,119.2L337.4,129.9L338.3,139.5L338.8,148.8L338.6,156.2L338.3,157.0L336.6,155.4L335.5,154.8L334.5,154.8L333.5,155.2L331.5,157.0L331.1,156.9L330.9,155.6L330.6,147.2L331.4,133.9L331.5,128.8L331.2,124.6L330.2,117.6L330.0,114.9L330.3,112.9L331.0,110.0L331.8,108.2Z"/>
<path fill="#ff4300" fill-rule="evenodd" d="M332.6,108.3L333.1,108.5L333.6,109.1L334.6,111.3L336.0,115.6L336.7,119.4L337.3,129.8L338.1,139.0L338.6,147.8L338.6,152.6L338.5,153.9L338.1,154.5L336.6,153.1L335.5,152.5L334.6,152.5L333.6,152.8L331.5,154.5L331.1,154.1L331.0,153.1L330.8,146.2L331.5,134.2L331.7,128.9L331.4,124.6L330.4,117.8L330.3,115.1L330.5,113.2L331.2,110.4L332.0,108.8Z"/>
<path fill="#ff3000" fill-rule="evenodd" d="M332.8,109.1L333.6,109.8L334.6,112.0L335.8,115.8L336.5,119.3L337.1,129.8L338.0,139.1L338.5,147.7L338.3,151.6L338.0,152.0L336.5,150.7L335.3,150.2L334.5,150.2L333.6,150.4L331.6,151.9L331.3,151.6L331.1,150.8L331.0,146.2L331.7,134.6L331.9,128.6L331.7,124.6L330.6,117.6L330.6,115.1L330.8,113.1L331.5,110.8L332.1,109.6Z"/>
<path fill="#ff1d00" fill-rule="evenodd" d="M332.8,110.1L333.3,110.2L333.6,110.7L334.6,113.1L335.5,115.8L336.1,119.1L336.8,130.2L337.6,138.4L338.1,146.3L338.2,148.9L337.8,149.5L336.3,148.2L335.3,147.8L334.5,147.8L333.6,148.1L331.8,149.3L331.5,149.1L331.3,148.4L331.3,145.1L332.1,134.8L332.3,128.6L332.1,124.4L331.1,117.8L331.0,115.2L331.2,113.6L331.8,111.5L332.3,110.5Z"/>
<path fill="#00002a" fill-rule="evenodd" d="M418.7,83.2L420.4,83.4L421.7,84.1L423.2,86.3L424.2,88.4L425.5,92.2L427.0,97.8L428.7,105.2L429.4,109.4L430.2,119.8L430.3,128.6L430.9,140.9L431.3,154.2L431.2,178.1L430.9,181.6L430.7,182.9L430.5,183.0L429.5,180.1L428.7,178.4L427.5,177.1L426.0,176.3L425.0,176.2L424.2,176.3L422.5,177.4L421.3,179.1L420.0,182.3L419.9,182.3L419.3,179.8L418.7,163.6L416.8,137.9L415.7,126.8L413.5,111.9L412.8,101.6L412.9,97.6L413.2,93.9L413.7,91.1L414.5,88.0L415.4,85.9L416.4,84.4L417.2,83.8Z"/>
<path fill="#000057" fill-rule="evenodd" d="M418.9,83.8L420.2,84.0L421.5,84.7L423.0,86.5L424.0,88.4L425.4,92.2L426.9,97.7L428.7,105.8L429.3,109.6L430.1,119.8L430.2,128.6L430.8,140.9L431.2,154.2L431.1,177.2L430.9,180.8L430.5,181.9L429.2,179.0L428.4,177.7L427.2,176.6L425.9,176.1L424.2,176.2L422.6,177.1L421.5,178.4L420.0,181.4L419.7,181.0L419.4,179.6L418.7,163.6L416.9,137.9L415.8,126.6L413.6,111.9L413.2,106.2L413.0,101.2L413.0,97.4L413.5,93.0L414.7,88.1L415.4,86.5L416.4,85.1L417.5,84.2Z"/>
<path fill="#000084" fill-rule="evenodd" d="M418.9,84.7L420.2,84.9L422.0,86.0L423.0,87.1L424.0,89.0L425.4,92.8L426.9,98.3L428.5,105.6L429.2,109.5L430.0,119.9L430.1,128.6L430.8,140.9L431.1,154.2L431.0,176.6L430.9,180.1L430.5,181.1L429.0,178.4L428.2,177.3L427.0,176.3L425.7,175.9L424.2,176.0L422.7,176.8L421.5,178.2L420.0,180.8L419.7,180.3L419.5,179.4L418.8,163.6L416.9,136.1L415.9,126.6L413.9,112.5L413.3,106.2L413.1,101.4L413.2,97.7L413.5,94.4L414.0,91.2L414.7,88.9L415.4,87.2L416.0,86.2L417.5,85.2Z"/>
<path fill="#0000b1" fill-rule="evenodd" d="M418.9,85.6L420.4,85.8L422.0,86.7L423.0,87.9L424.0,89.8L425.2,93.0L426.7,98.4L428.4,105.5L429.0,109.4L429.9,119.9L431.1,154.1L431.0,175.8L430.8,179.1L430.5,180.5L430.2,180.2L429.0,178.1L428.0,176.9L426.9,176.1L425.7,175.7L424.2,175.8L422.7,176.7L421.7,177.8L420.0,180.3L419.8,179.9L419.6,179.1L418.9,163.6L417.0,136.2L416.1,126.6L414.0,112.5L413.5,106.4L413.3,101.6L413.6,95.4L414.0,92.5L414.7,89.9L415.4,88.2L416.2,87.0L417.4,86.1Z"/>
<path fill="#0000dd" fill-rule="evenodd" d="M418.9,86.5L420.4,86.7L421.9,87.5L423.0,88.9L424.2,91.2L425.2,94.0L426.9,99.9L428.2,105.5L428.9,109.6L429.8,119.9L431.0,154.1L430.9,175.8L430.7,179.1L430.5,179.9L430.4,179.9L428.9,177.8L428.0,176.7L426.9,175.9L425.5,175.6L424.0,175.8L422.7,176.5L421.6,177.6L420.2,179.7L419.9,179.6L419.7,178.9L419.0,163.6L417.1,135.9L416.1,125.6L414.2,112.2L413.6,101.8L413.9,96.1L414.4,92.6L414.9,90.8L415.7,88.9L416.5,87.8L417.6,86.9Z"/>
<path fill="#000dff" fill-rule="evenodd" d="M419.0,87.4L420.4,87.6L421.7,88.5L423.0,90.1L424.1,92.2L427.2,102.2L428.4,107.3L428.9,110.6L429.7,120.1L430.8,149.6L431.0,160.2L430.9,174.2L430.7,178.4L430.4,179.5L428.0,176.6L426.9,175.8L425.7,175.4L424.2,175.6L422.9,176.2L421.7,177.2L420.2,179.3L419.9,179.1L419.7,178.2L419.2,166.1L417.3,135.9L416.3,125.4L414.5,113.0L414.1,108.1L413.9,102.1L414.2,97.1L415.1,91.9L415.9,90.1L416.9,88.7L417.9,87.8Z"/>
<path fill="#0042ff" fill-rule="evenodd" d="M419.2,88.4L420.4,88.6L421.5,89.4L422.7,90.8L423.7,92.6L426.9,102.1L428.0,106.8L428.7,110.8L429.6,120.2L430.7,149.4L430.9,160.1L430.8,173.8L430.7,177.5L430.4,179.0L430.0,178.9L428.7,177.1L427.7,176.1L426.7,175.6L425.5,175.3L424.2,175.4L422.9,176.0L421.9,176.9L420.4,178.8L420.0,178.8L419.8,177.9L417.4,134.4L416.5,125.1L414.9,113.3L414.4,102.9L414.6,97.8L415.5,92.4L416.2,90.9L417.2,89.6L418.2,88.7Z"/>
<path fill="#0076ff" fill-rule="evenodd" d="M419.2,89.4L420.4,89.6L421.5,90.5L422.7,91.9L423.5,93.7L425.9,100.2L427.2,104.5L428.1,108.6L428.8,113.6L429.5,121.7L430.8,154.1L430.7,174.6L430.5,177.8L430.2,178.6L427.9,176.1L426.9,175.5L425.7,175.1L424.4,175.2L423.0,175.8L422.0,176.6L420.4,178.5L420.0,178.2L419.9,177.4L417.6,134.1L416.8,125.2L415.2,113.6L414.8,104.6L415.0,98.4L416.0,93.1L416.5,91.8L417.4,90.6L418.3,89.8Z"/>
<path fill="#00abff" fill-rule="evenodd" d="M419.4,90.4L420.0,90.5L420.7,90.8L422.2,92.3L425.2,99.3L426.4,102.9L427.6,107.2L428.8,114.6L429.4,121.9L430.6,150.1L430.8,160.2L430.7,173.8L430.5,177.1L430.2,178.2L429.9,178.1L427.7,175.8L426.7,175.2L425.7,175.0L424.4,175.1L423.0,175.6L420.4,178.1L420.1,177.8L419.9,176.8L417.6,131.1L417.0,124.6L415.6,114.4L415.3,107.4L415.4,99.9L416.2,95.1L416.8,92.9L417.3,91.9L418.4,90.9Z"/>
<path fill="#00dfff" fill-rule="evenodd" d="M419.5,91.4L420.7,91.8L421.8,93.1L425.4,100.9L427.5,107.9L428.8,116.1L429.4,122.9L430.6,154.1L430.6,174.1L430.4,176.9L430.3,177.6L430.0,177.8L427.7,175.6L426.7,175.1L425.7,174.8L424.4,174.9L423.2,175.3L422.2,176.0L420.5,177.7L420.2,177.5L419.9,176.4L418.9,158.1L417.8,130.9L417.2,124.3L416.0,114.8L415.7,108.1L415.8,101.2L416.4,96.8L417.1,94.4L417.8,92.8L418.5,91.9Z"/>
<path fill="#08fff7" fill-rule="evenodd" d="M419.5,92.5L420.5,92.8L421.6,94.1L425.1,101.1L427.2,107.9L428.6,116.2L429.3,122.9L430.5,150.4L430.7,160.2L430.6,173.4L430.4,176.4L430.0,177.5L429.7,177.3L427.5,175.3L425.7,174.6L424.4,174.7L423.2,175.1L420.5,177.4L420.2,177.0L420.0,176.1L419.0,158.1L418.0,130.8L417.4,123.7L416.3,115.1L416.0,109.1L416.2,101.8L416.7,97.9L417.3,95.8L418.0,94.0L418.7,92.9Z"/>
<path fill="#1dffe2" fill-rule="evenodd" d="M419.7,93.3L420.5,93.7L421.7,95.1L423.9,99.1L425.1,101.8L427.1,108.2L428.6,117.2L429.2,123.4L430.5,154.1L430.5,173.8L430.2,176.8L429.9,177.1L427.7,175.2L425.9,174.5L424.5,174.5L423.4,174.9L422.4,175.5L420.7,177.0L420.3,176.8L420.0,175.4L419.1,158.1L418.2,130.8L417.7,124.8L416.5,115.1L416.3,109.6L416.5,102.1L417.0,98.4L417.6,96.4L418.3,94.8L419.0,93.7Z"/>
<path fill="#31ffce" fill-rule="evenodd" d="M419.7,94.1L420.5,94.4L421.7,95.8L423.9,99.6L425.1,102.4L427.0,108.8L428.6,117.8L429.1,123.8L430.4,153.9L430.4,173.6L430.2,176.1L429.9,176.8L427.5,174.9L425.9,174.3L424.5,174.3L423.4,174.7L420.7,176.7L420.4,176.4L420.1,175.1L419.1,158.1L418.3,130.6L417.9,124.6L416.7,115.4L416.5,110.1L416.8,102.8L417.3,98.9L418.4,95.6L419.0,94.6Z"/>
<path fill="#45ffba" fill-rule="evenodd" d="M419.9,94.9L420.4,95.0L420.9,95.4L422.2,97.3L423.9,100.2L425.1,103.1L426.9,109.1L428.5,117.9L429.0,123.6L430.3,150.8L430.5,160.2L430.4,172.9L430.2,175.4L429.9,176.4L429.5,176.4L427.5,174.7L425.9,174.1L424.5,174.1L423.4,174.5L420.9,176.3L420.4,176.1L420.1,174.9L419.2,158.4L418.5,130.4L418.0,124.5L416.9,115.4L416.7,110.2L417.0,103.1L417.5,99.3L418.0,97.6L418.6,96.1L419.2,95.3Z"/>
<path fill="#5affa5" fill-rule="evenodd" d="M419.9,95.7L420.4,95.8L420.9,96.1L422.5,98.3L423.9,100.8L425.1,103.6L426.9,109.6L428.4,118.6L429.1,126.2L430.3,153.9L430.3,173.2L430.1,175.4L429.7,176.1L427.5,174.5L426.0,173.9L424.7,173.9L423.5,174.2L420.9,176.0L420.5,175.8L420.2,174.5L419.3,158.4L418.6,130.2L418.2,124.4L417.1,115.4L416.9,110.6L417.2,103.9L417.7,100.0L418.6,97.1L419.2,96.2Z"/>
<path fill="#6eff91" fill-rule="evenodd" d="M420.0,96.4L421.0,96.9L422.7,99.1L423.9,101.2L425.2,104.2L426.8,109.9L428.4,119.1L429.0,126.2L430.2,153.8L430.3,173.1L430.1,175.1L429.7,175.8L427.5,174.3L425.9,173.7L424.7,173.7L423.5,174.0L420.9,175.7L420.5,175.4L420.2,174.2L419.4,159.2L418.8,130.2L418.3,124.4L417.3,115.6L417.1,110.8L417.4,104.9L417.9,100.6L418.8,97.8L419.4,96.8Z"/>
<path fill="#83ff7c" fill-rule="evenodd" d="M420.0,97.2L420.5,97.2L421.0,97.5L422.5,99.3L423.7,101.2L425.0,104.4L426.7,110.1L428.3,119.2L428.9,126.4L430.2,153.9L430.2,173.0L430.0,174.8L429.9,175.3L429.5,175.5L427.5,174.1L425.9,173.5L424.7,173.5L423.5,173.8L421.0,175.4L420.6,175.1L420.3,174.1L419.4,159.2L418.9,130.1L418.5,124.2L417.5,115.6L417.3,111.1L417.5,106.5L418.1,101.1L418.9,98.4L419.4,97.6Z"/>
<path fill="#97ff68" fill-rule="evenodd" d="M420.2,97.8L421.2,98.2L422.7,100.0L423.8,101.9L425.1,105.1L426.6,110.4L427.6,115.4L428.3,119.8L428.8,125.9L429.6,139.8L430.1,153.8L430.2,160.6L430.1,172.8L429.9,174.6L429.5,175.2L427.4,173.8L425.9,173.3L424.7,173.3L423.5,173.6L421.0,175.1L420.6,174.8L420.4,173.8L419.5,159.1L419.0,130.1L418.6,124.2L417.7,116.1L417.5,112.8L417.7,107.8L418.3,101.6L419.2,98.8L419.7,98.1Z"/>
<path fill="#abff54" fill-rule="evenodd" d="M420.4,98.5L421.4,98.9L422.7,100.5L423.9,102.6L425.1,105.6L426.6,110.8L427.6,115.8L428.2,120.1L428.8,126.4L430.0,151.8L430.2,160.2L429.9,173.9L429.5,174.8L427.4,173.5L425.9,173.1L424.7,173.1L423.5,173.3L421.0,174.8L420.7,174.5L420.5,173.6L419.6,159.1L419.2,129.9L418.8,124.1L417.8,116.1L417.7,113.1L417.9,108.1L418.5,102.1L419.4,99.5L419.9,98.8Z"/>
<path fill="#c0ff3f" fill-rule="evenodd" d="M420.5,99.2L421.5,99.6L422.7,101.0L423.9,103.1L425.1,106.2L426.1,109.4L427.1,113.9L428.2,120.8L429.4,139.9L430.0,153.9L430.1,160.4L429.9,173.8L429.7,174.3L429.4,174.5L427.4,173.3L425.9,172.8L424.7,172.8L423.7,173.0L421.2,174.5L420.8,174.2L420.5,173.2L419.6,159.1L419.3,129.9L417.9,113.2L418.1,108.2L418.8,102.6L419.5,100.1L420.0,99.4Z"/>
<path fill="#d4ff2b" fill-rule="evenodd" d="M420.7,99.8L421.7,100.3L422.7,101.5L424.0,104.0L425.1,106.6L426.0,109.7L427.0,114.1L428.1,120.8L428.6,126.6L429.9,152.1L430.1,160.2L429.9,170.2L429.7,173.9L429.4,174.2L427.4,173.0L425.9,172.6L424.9,172.6L423.7,172.8L421.2,174.2L420.9,174.0L420.6,173.1L419.7,159.1L419.4,129.8L418.1,113.4L418.3,108.4L419.0,103.2L419.7,100.8L420.2,100.1Z"/>
<path fill="#e9ff16" fill-rule="evenodd" d="M420.9,100.5L421.7,100.8L422.7,102.0L423.9,104.1L425.0,106.9L425.9,109.9L427.0,114.4L428.1,121.1L428.5,126.6L429.8,151.8L430.0,160.2L429.9,169.2L429.7,173.1L429.4,173.9L427.0,172.6L425.2,172.3L423.4,172.6L421.2,173.8L420.9,173.4L419.8,159.1L419.6,129.6L418.3,113.6L418.5,108.8L419.2,103.9L419.9,101.4L420.4,100.7Z"/>
<path fill="#fdff02" fill-rule="evenodd" d="M421.0,101.1L421.9,101.5L422.9,102.8L424.0,104.9L425.1,107.6L427.0,114.9L428.1,121.6L429.2,139.8L429.8,153.2L429.9,160.2L429.8,169.2L429.6,172.8L429.2,173.5L427.2,172.3L425.7,171.9L424.7,171.9L423.5,172.2L421.4,173.4L421.0,173.2L420.8,172.4L419.8,159.1L419.7,129.4L418.4,113.8L418.7,109.1L419.3,104.8L420.1,102.1L420.5,101.4Z"/>
<path fill="#ffee00" fill-rule="evenodd" d="M421.2,101.8L422.0,102.2L423.0,103.5L424.0,105.4L425.0,107.9L427.0,115.2L428.0,121.9L429.2,140.4L429.7,153.6L429.9,160.2L429.7,168.5L429.4,172.1L429.2,172.8L429.0,172.9L426.5,171.0L425.2,170.5L423.9,170.9L421.8,172.6L421.4,172.8L421.1,172.2L420.9,171.0L419.9,158.8L419.8,129.2L418.6,113.9L418.8,109.4L419.5,105.4L420.3,102.8L420.7,102.1Z"/>
<path fill="#ffdb00" fill-rule="evenodd" d="M421.4,102.5L422.0,102.8L423.0,104.0L424.0,105.9L425.0,108.4L426.9,115.3L427.9,121.9L429.1,139.4L429.7,152.1L429.7,165.0L429.4,169.9L429.0,171.7L428.7,171.6L427.0,169.6L425.7,168.8L424.7,168.8L423.7,169.2L421.5,171.5L421.2,171.1L420.9,169.4L420.0,158.2L419.9,129.2L418.8,114.1L419.0,109.8L419.6,106.1L420.5,103.3L420.9,102.7Z"/>
<path fill="#ffc800" fill-rule="evenodd" d="M421.5,103.1L422.2,103.4L423.2,104.8L424.2,106.7L425.0,108.9L426.9,115.8L427.9,122.1L429.0,139.9L429.6,151.9L429.7,160.1L429.5,165.8L429.1,169.8L428.9,170.1L426.9,167.9L426.0,167.4L425.2,167.2L424.4,167.3L423.5,167.8L421.7,169.8L421.4,169.8L420.9,167.7L420.1,160.4L420.0,156.8L420.1,129.1L419.0,114.1L419.2,109.9L419.8,106.6L420.7,103.9L421.0,103.4Z"/>
<path fill="#ffb500" fill-rule="evenodd" d="M421.5,103.8L422.2,104.0L423.0,105.0L424.0,106.8L424.9,108.9L426.7,115.5L427.8,122.1L428.2,126.9L429.5,151.4L429.5,163.1L429.2,167.4L428.9,168.2L426.7,166.0L425.2,165.5L423.7,165.9L422.9,166.6L421.7,168.0L421.4,168.0L421.0,167.0L420.2,159.6L420.0,153.4L420.2,129.4L419.1,114.1L419.4,110.2L419.9,107.4L420.7,104.8L421.1,104.1Z"/>
<path fill="#ffa200" fill-rule="evenodd" d="M421.7,104.4L422.4,104.7L423.2,105.7L424.9,109.4L426.7,116.0L427.7,122.1L428.1,126.8L429.4,151.1L429.4,162.2L429.0,165.8L428.7,166.1L426.9,164.2L426.0,163.7L425.2,163.5L424.4,163.6L423.5,164.0L421.7,165.9L421.4,166.0L420.9,164.3L420.4,160.4L420.1,150.2L420.4,129.6L420.2,124.8L419.4,117.1L419.3,114.1L419.6,110.2L420.1,107.8L420.9,105.4L421.2,104.8Z"/>
<path fill="#ff8f00" fill-rule="evenodd" d="M421.9,105.1L422.5,105.4L423.2,106.2L424.9,110.0L426.5,115.8L427.6,122.2L428.0,126.9L429.3,150.8L429.4,160.4L429.1,163.4L428.7,164.1L426.7,162.0L425.9,161.6L425.0,161.4L424.2,161.6L423.4,162.0L421.4,164.0L421.0,163.5L420.5,160.6L420.2,150.2L420.5,129.4L420.3,124.6L419.6,117.1L419.5,114.2L419.8,110.4L420.3,108.1L421.0,105.9L421.5,105.2Z"/>
<path fill="#ff7c00" fill-rule="evenodd" d="M422.0,105.7L422.7,106.1L423.4,107.0L424.9,110.5L426.5,116.4L427.5,122.3L429.2,149.8L429.2,159.8L429.0,161.2L428.7,161.9L426.9,160.1L425.5,159.4L424.5,159.4L423.5,159.8L421.4,161.9L421.0,161.6L420.7,160.1L420.3,150.2L420.7,129.2L420.5,124.6L419.8,117.2L419.7,114.4L420.0,110.6L420.5,108.4L421.2,106.5L421.6,105.9Z"/>
<path fill="#ff6900" fill-rule="evenodd" d="M422.0,106.4L422.5,106.5L423.2,107.2L424.7,110.6L426.4,116.2L427.4,121.8L427.8,126.9L429.1,149.2L429.1,156.8L428.9,158.8L428.7,159.6L428.4,159.5L426.7,157.7L425.4,157.1L424.4,157.2L423.4,157.7L421.4,159.6L421.0,159.5L420.8,158.2L420.4,149.8L420.8,128.9L419.9,114.6L420.6,109.1L421.3,107.1Z"/>
<path fill="#ff5600" fill-rule="evenodd" d="M422.2,107.0L422.7,107.2L423.2,107.8L424.5,110.7L426.2,116.1L427.2,121.6L427.7,126.5L429.0,149.1L428.9,154.9L428.8,156.4L428.5,157.1L426.7,155.4L425.4,154.8L424.5,154.8L423.5,155.2L421.4,157.1L421.0,156.8L420.9,156.0L420.6,149.2L421.0,128.8L420.1,114.8L420.9,109.3L421.5,107.6Z"/>
<path fill="#ff4300" fill-rule="evenodd" d="M422.4,107.8L423.0,108.3L423.7,109.3L425.4,113.8L426.4,117.6L427.2,122.6L428.9,148.7L428.8,153.1L428.6,154.1L428.4,154.6L426.7,153.1L425.5,152.5L424.7,152.5L423.7,152.7L421.4,154.5L421.0,153.9L420.7,148.4L421.2,128.6L420.4,114.9L421.1,109.9L421.7,108.4Z"/>
<path fill="#ff3000" fill-rule="evenodd" d="M422.5,108.8L423.0,109.0L423.7,110.0L425.2,114.0L426.2,117.8L427.0,122.7L428.7,148.4L428.5,151.4L428.2,152.1L426.5,150.6L425.4,150.2L424.5,150.2L423.5,150.5L421.5,151.9L421.2,151.6L421.0,150.7L420.9,147.6L421.4,128.8L421.3,124.2L420.7,117.2L420.7,114.9L421.4,110.4L421.9,109.2Z"/>
<path fill="#ff1d00" fill-rule="evenodd" d="M422.5,109.8L423.0,109.9L423.4,110.4L424.9,114.1L425.9,117.7L426.7,122.4L427.1,127.1L428.4,147.1L428.4,148.9L428.0,149.6L426.5,148.3L425.4,147.8L423.7,148.0L421.7,149.3L421.4,149.1L421.3,148.6L421.8,128.6L421.7,124.6L421.1,115.2L421.7,111.4L422.0,110.4Z"/>
<path fill="#00002a" fill-rule="evenodd" d="M513.2,96.1L514.4,96.4L515.5,97.0L516.4,97.7L517.2,98.9L519.6,103.1L521.6,108.8L522.4,114.2L522.8,118.8L522.7,136.8L521.2,163.2L521.0,178.4L520.7,181.5L520.5,181.8L520.4,181.8L518.9,178.6L517.5,177.0L515.9,176.2L514.2,176.4L512.6,177.4L511.4,179.2L510.5,181.9L510.2,184.9L509.7,185.3L509.4,185.1L508.5,165.2L507.8,157.1L504.4,133.9L503.9,126.1L503.9,117.4L504.7,108.9L505.4,106.6L507.4,101.4L508.7,99.0L509.9,97.6L511.4,96.6Z"/>
<path fill="#000057" fill-rule="evenodd" d="M513.2,96.4L515.0,96.9L516.2,97.8L517.7,99.9L519.2,102.6L520.4,105.5L521.4,108.6L522.5,116.1L522.7,121.9L522.6,136.4L521.1,163.2L520.9,178.6L520.7,180.6L520.4,181.0L518.7,178.0L517.2,176.6L516.4,176.2L515.4,176.0L514.5,176.1L513.5,176.5L512.2,177.6L511.0,179.5L510.3,181.8L509.9,184.8L509.7,185.0L509.5,184.6L509.0,178.1L508.6,165.2L507.9,157.1L504.5,133.9L504.0,126.1L504.0,117.4L504.8,108.9L505.5,106.5L507.4,101.8L508.5,99.6L509.9,97.9L511.5,96.8Z"/>
<path fill="#000084" fill-rule="evenodd" d="M513.2,96.8L514.7,97.1L516.0,98.0L517.5,100.0L519.0,102.6L520.5,106.4L521.4,109.1L522.3,116.2L522.6,122.1L522.5,136.4L521.0,163.2L520.9,178.1L520.7,179.8L520.4,180.4L518.7,177.8L517.4,176.5L515.7,175.9L514.0,176.1L512.7,176.9L511.6,178.2L510.8,179.8L509.7,182.7L509.4,181.4L509.1,178.1L508.6,165.2L508.0,156.8L504.6,133.9L504.1,126.1L504.2,117.4L504.9,109.1L505.7,106.5L507.5,101.8L508.7,99.6L510.0,98.1L511.5,97.1Z"/>
<path fill="#0000b1" fill-rule="evenodd" d="M513.4,97.3L515.0,97.7L516.2,98.5L517.9,100.8L519.0,103.0L520.5,106.9L521.2,109.2L522.2,116.4L522.5,122.2L522.4,136.2L521.0,163.2L520.8,177.8L520.7,179.2L520.4,179.9L518.6,177.4L517.4,176.3L515.7,175.7L514.0,175.9L512.9,176.6L511.9,177.6L509.7,181.6L509.4,180.6L509.2,177.9L508.7,165.2L508.1,156.8L504.8,133.8L504.3,125.9L504.3,117.4L504.7,112.4L505.2,108.9L505.9,106.6L507.7,101.9L508.9,99.8L510.2,98.3L511.7,97.5Z"/>
<path fill="#0000dd" fill-rule="evenodd" d="M513.4,97.9L514.9,98.2L516.0,98.9L517.5,100.8L518.7,102.9L520.9,108.8L522.0,116.6L522.3,122.4L522.2,136.4L520.9,163.2L520.7,177.2L520.5,179.1L520.2,179.4L518.5,177.2L517.2,176.1L515.7,175.6L514.0,175.8L512.9,176.4L511.9,177.4L509.9,180.9L509.7,180.9L509.5,180.4L509.3,177.9L508.8,165.1L508.2,155.9L505.0,133.9L504.5,126.1L504.6,117.6L505.4,109.1L506.0,106.8L507.9,102.1L509.0,100.1L510.3,98.8L511.7,98.1Z"/>
<path fill="#000dff" fill-rule="evenodd" d="M513.4,98.4L514.8,98.8L516.0,99.6L517.5,101.3L518.5,103.2L519.9,106.6L520.7,109.3L521.9,117.6L522.1,123.1L522.1,136.4L520.8,163.2L520.7,176.8L520.5,178.4L520.2,179.0L518.4,176.8L517.2,175.9L515.7,175.4L514.0,175.6L512.9,176.2L512.0,177.1L509.9,180.3L509.5,179.6L509.3,177.8L508.9,165.1L508.3,155.9L505.2,134.0L504.8,126.1L504.9,117.6L505.3,112.4L505.7,109.1L506.4,106.8L508.2,102.2L509.2,100.6L510.5,99.3L511.9,98.6Z"/>
<path fill="#0042ff" fill-rule="evenodd" d="M513.4,99.1L514.9,99.5L516.2,100.4L517.3,101.8L518.2,103.5L519.5,106.8L520.4,109.4L521.0,113.1L521.6,117.9L521.9,123.2L521.9,136.4L520.7,163.2L520.6,176.2L520.4,178.2L520.0,178.6L518.4,176.6L517.0,175.7L515.5,175.3L514.0,175.5L513.0,176.0L512.1,176.8L510.2,179.6L509.9,179.8L509.5,178.8L509.4,177.3L509.0,163.1L508.5,155.9L505.5,134.2L505.2,126.6L505.2,117.9L505.7,112.2L506.1,109.4L506.7,107.1L508.5,102.6L509.4,101.1L510.5,100.0L511.9,99.3Z"/>
<path fill="#0076ff" fill-rule="evenodd" d="M513.4,99.7L514.9,100.2L516.4,101.3L517.2,102.5L518.4,105.0L519.5,108.0L520.2,110.5L521.4,118.4L521.6,123.6L521.8,136.4L520.6,163.2L520.5,175.8L520.4,177.7L520.0,178.2L518.2,176.3L517.0,175.5L515.5,175.1L514.0,175.3L513.0,175.8L512.1,176.6L510.0,179.3L509.7,178.9L509.4,176.9L509.1,162.9L508.7,155.8L505.9,134.4L505.6,127.1L505.7,118.1L506.4,110.1L507.0,107.8L509.4,102.1L510.2,101.0L511.7,100.0Z"/>
<path fill="#00abff" fill-rule="evenodd" d="M513.4,100.4L514.9,100.8L516.2,101.9L517.0,103.4L518.5,106.7L520.0,111.2L521.1,119.2L521.5,127.1L521.6,136.6L520.6,163.2L520.5,175.4L520.3,177.1L520.0,177.8L519.7,177.7L518.0,176.0L516.9,175.3L515.5,175.0L514.0,175.2L512.2,176.3L510.0,178.9L509.7,178.3L509.5,176.4L509.2,162.6L508.8,155.8L506.2,134.4L506.0,127.4L506.1,118.2L506.7,110.9L507.2,108.8L508.0,106.4L509.5,103.0L510.3,101.8L511.7,100.7Z"/>
<path fill="#00dfff" fill-rule="evenodd" d="M513.4,101.1L514.7,101.5L515.7,102.3L517.0,104.7L518.5,107.8L519.7,111.8L520.8,119.8L521.3,127.8L521.4,136.9L520.5,163.2L520.4,175.1L520.2,177.0L519.9,177.5L517.2,175.3L516.0,174.9L514.9,174.8L513.7,175.1L512.5,175.8L510.4,178.3L510.0,178.5L509.7,177.6L509.5,175.6L509.3,161.4L509.0,155.8L506.5,134.4L506.3,127.8L506.5,118.4L507.1,111.2L508.2,107.4L509.7,104.1L510.9,102.1L512.0,101.3Z"/>
<path fill="#08fff7" fill-rule="evenodd" d="M513.4,101.8L514.5,102.2L515.5,103.3L516.9,105.6L518.3,108.6L519.4,112.4L520.6,120.4L521.1,128.8L521.2,137.1L520.4,163.2L520.4,174.6L520.2,176.4L519.9,177.1L517.2,175.1L516.0,174.7L514.9,174.6L513.7,174.9L512.7,175.5L510.2,178.1L510.0,177.9L509.8,177.2L509.6,174.8L509.5,161.2L509.2,155.6L506.8,134.4L506.7,127.9L506.9,118.6L507.5,111.6L508.4,108.1L509.8,105.2L511.2,103.0L512.2,102.1Z"/>
<path fill="#1dffe2" fill-rule="evenodd" d="M513.4,102.6L514.5,103.1L515.7,104.5L517.1,106.8L518.3,109.4L518.9,111.4L519.5,114.1L520.4,120.9L520.9,129.2L521.1,137.2L520.3,163.2L520.3,174.2L520.1,176.1L519.8,176.8L519.4,176.6L518.1,175.4L517.0,174.8L516.0,174.5L514.9,174.5L513.7,174.8L512.7,175.3L510.2,177.7L509.9,176.9L509.6,174.4L509.6,161.1L509.4,155.6L507.1,134.6L507.0,128.2L507.2,118.9L507.8,111.8L508.7,108.6L509.8,106.1L511.2,104.0L512.4,102.9Z"/>
<path fill="#31ffce" fill-rule="evenodd" d="M513.4,103.4L514.4,103.8L515.5,105.0L516.9,107.1L518.1,109.8L518.6,111.4L519.3,114.8L520.2,121.2L520.7,129.6L520.9,137.4L520.2,163.2L520.2,174.1L520.0,175.9L519.7,176.4L517.0,174.6L516.0,174.3L514.9,174.3L513.7,174.6L512.7,175.1L510.4,177.3L510.1,177.1L509.7,174.3L509.7,160.8L509.5,155.4L507.3,134.6L507.2,128.4L507.5,119.2L508.1,111.9L508.9,109.1L509.9,106.8L511.2,104.8L512.4,103.6Z"/>
<path fill="#45ffba" fill-rule="evenodd" d="M513.4,104.1L514.4,104.5L515.5,105.7L516.9,107.8L517.9,110.1L519.1,115.1L520.0,121.4L520.6,129.8L520.8,137.6L520.2,163.1L520.2,173.8L520.0,175.3L519.7,176.1L519.4,176.1L517.0,174.4L516.0,174.1L514.9,174.1L513.9,174.3L512.9,174.8L510.4,176.9L510.0,176.2L509.8,174.1L509.8,160.8L509.7,155.4L507.5,134.6L507.4,128.4L507.7,119.6L508.4,112.2L509.0,109.5L510.0,107.3L511.2,105.5L512.4,104.4Z"/>
<path fill="#5affa5" fill-rule="evenodd" d="M513.4,104.9L514.4,105.2L515.5,106.4L516.7,108.2L517.8,110.4L519.0,115.8L519.9,121.8L520.4,129.8L520.7,137.6L520.1,163.1L520.1,173.6L519.9,175.2L519.5,175.8L517.0,174.2L516.0,173.9L514.9,173.9L512.9,174.6L510.7,176.5L510.4,176.6L510.0,175.9L509.9,173.9L510.0,160.6L509.8,155.4L507.7,134.6L507.6,128.6L508.0,119.9L508.5,113.1L509.2,109.9L510.0,108.0L511.2,106.2L512.4,105.2Z"/>
<path fill="#6eff91" fill-rule="evenodd" d="M513.4,105.6L514.4,106.0L515.4,106.9L516.5,108.6L517.6,110.8L518.9,116.1L519.7,122.1L520.3,129.9L520.6,137.8L520.0,163.1L520.0,173.4L519.9,174.9L519.5,175.5L519.2,175.4L516.9,174.0L514.9,173.7L512.9,174.3L510.5,176.2L510.1,175.6L509.9,173.8L510.1,160.6L510.0,155.8L508.0,136.1L507.9,127.2L508.4,117.1L509.2,111.1L509.9,109.1L511.0,107.2L512.2,106.0Z"/>
<path fill="#83ff7c" fill-rule="evenodd" d="M513.4,106.4L514.4,106.7L515.4,107.6L516.5,109.2L517.4,111.0L518.7,116.2L519.6,122.4L520.1,130.1L520.4,137.9L520.0,162.9L520.0,173.2L519.8,174.8L519.4,175.2L516.9,173.7L514.9,173.5L513.0,174.0L510.5,175.9L510.2,175.4L510.0,173.6L510.1,155.8L508.2,136.2L508.1,127.6L508.7,117.1L509.5,111.2L510.2,109.3L511.2,107.8L512.4,106.7Z"/>
<path fill="#97ff68" fill-rule="evenodd" d="M513.4,107.1L514.2,107.3L515.2,108.1L516.2,109.4L517.1,111.1L518.4,116.2L519.4,122.8L520.0,130.1L520.3,138.1L519.9,162.9L519.9,173.1L519.7,174.4L519.4,174.9L516.9,173.5L514.9,173.3L513.0,173.8L510.7,175.5L510.3,175.1L510.1,173.4L510.2,155.6L508.4,136.2L508.3,128.1L509.0,117.1L509.8,111.4L510.4,109.9L511.4,108.3L512.4,107.4Z"/>
<path fill="#abff54" fill-rule="evenodd" d="M513.5,107.9L514.4,108.2L515.2,108.8L516.2,110.1L516.9,111.4L518.2,116.5L519.3,123.2L519.8,130.2L520.2,138.2L519.8,172.9L519.7,173.9L519.4,174.5L519.0,174.5L516.9,173.3L514.9,173.1L513.0,173.6L510.7,175.2L510.4,174.8L510.2,173.1L510.4,155.6L508.6,136.4L508.5,128.4L509.2,117.2L510.1,111.6L510.6,110.2L511.5,108.9L512.5,108.1Z"/>
<path fill="#c0ff3f" fill-rule="evenodd" d="M513.5,108.6L514.4,108.9L515.4,109.7L516.2,110.8L516.7,112.0L517.7,115.5L518.4,118.7L519.4,126.5L520.1,138.9L519.7,172.8L519.5,173.9L519.2,174.3L516.9,173.1L515.0,172.8L513.0,173.4L510.9,174.8L510.5,174.4L510.3,172.9L510.5,155.4L508.8,136.6L508.7,129.1L509.6,117.2L510.4,111.9L510.9,110.7L511.7,109.5L512.5,108.9Z"/>
<path fill="#d4ff2b" fill-rule="evenodd" d="M513.5,109.4L514.5,109.7L515.5,110.6L516.2,111.6L517.6,116.2L518.4,120.1L519.3,127.6L520.0,139.2L519.6,172.2L519.5,173.4L519.2,173.9L516.9,172.8L515.0,172.6L513.2,173.0L510.9,174.5L510.5,173.9L510.4,171.6L510.6,155.4L509.0,136.6L509.0,129.4L509.9,117.4L510.7,112.6L511.1,111.2L511.7,110.3L512.5,109.6Z"/>
<path fill="#e9ff16" fill-rule="evenodd" d="M513.5,110.1L514.5,110.4L515.4,111.2L516.9,114.9L518.3,121.1L519.2,128.4L519.7,135.1L519.9,139.6L519.5,171.9L519.4,173.2L519.0,173.6L516.9,172.6L515.0,172.3L513.2,172.8L511.0,174.1L510.7,173.9L510.5,171.2L510.7,155.2L509.2,136.8L509.2,129.9L510.1,118.2L510.7,114.6L511.7,111.2L512.5,110.4Z"/>
<path fill="#fdff02" fill-rule="evenodd" d="M513.7,110.9L514.5,111.2L515.2,112.0L516.0,113.7L516.9,116.1L518.2,121.9L519.1,129.2L519.8,139.6L519.5,169.9L519.4,172.4L519.0,173.2L516.9,172.3L515.0,172.0L513.2,172.5L511.0,173.7L510.7,172.9L510.6,169.4L510.9,155.2L509.4,136.8L509.4,130.1L510.4,119.1L510.9,115.8L511.5,113.4L512.2,111.8L512.9,111.1Z"/>
<path fill="#ffee00" fill-rule="evenodd" d="M513.7,111.9L514.4,112.2L515.2,113.2L516.7,116.7L518.0,122.2L519.0,129.9L519.6,139.9L519.4,169.6L519.2,172.0L518.9,172.8L516.7,171.8L515.0,171.6L513.4,172.0L511.2,173.1L510.9,172.2L510.7,168.9L511.0,154.9L509.6,136.9L509.6,130.6L509.9,127.1L511.2,116.4L512.4,113.0L513.0,112.2Z"/>
<path fill="#ffdb00" fill-rule="evenodd" d="M513.7,113.2L514.5,113.5L515.5,114.9L516.4,116.8L517.2,119.7L518.5,127.1L519.3,134.6L519.5,141.6L519.3,168.8L519.0,171.2L518.7,171.9L516.7,171.0L515.2,170.7L513.7,171.0L511.7,172.0L511.4,172.0L511.1,171.4L511.0,170.2L510.9,166.8L511.2,155.4L509.8,136.9L509.9,130.6L510.2,127.1L511.5,117.0L512.5,114.2L513.0,113.6Z"/>
<path fill="#ffc800" fill-rule="evenodd" d="M513.9,114.5L514.7,114.8L515.5,116.0L517.1,120.6L518.4,127.4L519.2,134.9L519.4,142.1L519.0,169.4L518.9,170.1L518.5,170.5L516.7,169.5L515.2,169.2L513.7,169.4L511.5,170.4L511.2,169.8L511.1,168.6L511.3,155.2L510.0,137.1L510.1,130.8L510.4,127.1L511.9,117.7L512.7,115.4L513.2,114.8Z"/>
<path fill="#ffb500" fill-rule="evenodd" d="M514.0,115.7L514.9,116.2L515.5,117.2L517.0,121.5L518.3,127.9L519.1,135.1L519.3,141.4L519.2,159.2L519.0,167.2L518.8,168.4L518.5,168.9L516.5,167.9L515.2,167.6L513.7,167.9L511.7,168.8L511.4,168.3L511.2,167.2L511.4,154.9L510.2,137.1L510.3,130.9L510.7,127.1L512.2,118.6L513.0,116.4L513.5,115.9Z"/>
<path fill="#ffa200" fill-rule="evenodd" d="M514.0,117.2L514.7,117.4L515.4,118.2L516.2,120.0L516.9,122.1L518.1,128.2L518.9,135.2L519.2,141.6L519.1,159.4L518.9,165.3L518.7,166.7L518.4,167.3L516.5,166.4L515.4,166.2L513.9,166.4L511.9,167.2L511.5,166.7L511.4,165.9L511.6,154.6L510.5,137.2L510.6,131.4L511.0,127.2L512.4,120.3L513.2,117.9Z"/>
<path fill="#ff8f00" fill-rule="evenodd" d="M514.2,118.8L514.7,118.9L515.4,119.6L516.0,120.9L516.7,122.8L518.0,128.8L518.8,135.8L519.1,141.8L519.0,159.1L518.7,164.4L518.5,165.3L518.2,165.7L516.5,164.9L515.4,164.7L514.0,164.9L512.0,165.6L511.8,165.2L511.7,164.4L511.7,154.4L510.7,137.4L510.8,131.8L511.3,127.4L512.5,121.9L513.4,119.6Z"/>
<path fill="#ff7c00" fill-rule="evenodd" d="M514.5,120.4L515.2,120.8L515.9,121.9L517.0,125.5L517.9,129.8L518.7,136.1L518.9,141.9L518.9,158.4L518.5,163.3L518.4,163.9L518.0,164.2L516.5,163.5L515.4,163.3L514.0,163.4L512.4,163.9L512.0,163.6L511.9,162.6L511.9,152.9L510.9,136.9L511.0,132.0L511.6,127.8L512.8,123.2L513.7,121.1L514.0,120.6Z"/>
<path fill="#ff6900" fill-rule="evenodd" d="M514.7,122.1L515.4,122.5L515.9,123.3L517.0,126.7L517.9,130.6L518.6,136.6L518.8,142.4L518.7,158.2L518.4,161.9L518.2,162.3L517.9,162.4L516.5,161.9L515.5,161.7L514.4,161.7L512.5,162.1L512.3,161.8L512.2,160.9L512.0,152.1L511.2,137.4L511.2,133.8L511.6,129.9L512.2,126.6L513.6,123.1L514.2,122.3Z"/>
<path fill="#ff5600" fill-rule="evenodd" d="M514.7,123.7L515.2,123.9L515.7,124.5L516.9,127.3L517.6,130.6L518.4,136.4L518.7,142.1L518.6,155.8L518.4,159.8L518.2,160.4L517.9,160.7L515.5,160.0L512.9,160.3L512.5,160.0L512.4,158.9L512.2,151.2L511.5,137.8L511.5,134.1L511.9,130.2L512.5,127.2L513.5,124.9L514.2,124.0Z"/>
<path fill="#ff4300" fill-rule="evenodd" d="M514.9,125.4L515.4,125.5L515.9,126.1L516.7,128.1L517.4,130.9L518.2,136.8L518.5,141.9L518.5,153.8L518.2,158.1L518.0,158.6L517.7,158.9L515.5,158.3L513.2,158.5L512.9,158.2L512.7,157.2L511.8,138.2L511.9,134.6L512.3,130.6L512.9,128.0L513.9,126.0L514.4,125.5Z"/>
<path fill="#ff3000" fill-rule="evenodd" d="M515.0,127.1L515.5,127.3L515.9,127.7L516.7,129.7L517.7,134.6L518.0,137.5L518.3,142.1L518.3,153.1L518.0,155.8L517.9,156.3L517.5,156.6L515.7,156.1L513.5,156.2L513.1,155.6L512.9,153.9L512.2,138.4L512.3,134.9L512.7,131.6L513.2,129.5L514.0,127.8L514.5,127.3Z"/>
<path fill="#ff1d00" fill-rule="evenodd" d="M515.2,129.0L515.9,129.4L516.5,131.0L517.4,135.0L517.7,137.9L518.0,152.2L517.8,153.6L517.4,154.2L515.7,153.8L513.9,153.8L513.5,153.4L513.3,152.2L512.8,138.6L512.9,135.4L513.7,131.1L514.4,129.7Z"/>
</g>
<defs><filter id="bl3" x="-30%" y="-30%" width="160%" height="160%"><feGaussianBlur stdDeviation="2.2"/></filter><filter id="bl4" x="-5%" y="-40%" width="110%" height="180%"><feGaussianBlur stdDeviation="0 2.2"/></filter><clipPath id="cpb0"><rect x="34.3" y="321.9" width="61.6" height="138.6"/></clipPath><clipPath id="cpb1"><rect x="124.5" y="321.9" width="61.6" height="138.6"/></clipPath><clipPath id="cpb2"><rect x="214.7" y="321.9" width="61.6" height="138.6"/></clipPath><clipPath id="cpb3"><rect x="304.9" y="321.9" width="61.6" height="138.6"/></clipPath><clipPath id="cpb4"><rect x="395.1" y="321.9" width="61.6" height="138.6"/></clipPath><clipPath id="cpb5"><rect x="485.3" y="321.9" width="61.6" height="138.6"/></clipPath></defs>
<g clip-path="url(#cpb0)"><rect x="31.3" y="374.0" width="67.6" height="8.5" fill="#000030" fill-opacity="0.62" filter="url(#bl4)"/><ellipse cx="64.9" cy="392" rx="6.5" ry="12" fill="#000066" filter="url(#bl3)"/><rect x="64.0" y="432" width="1.2" height="29" fill="#000026" filter="url(#bl)"/></g>
<g clip-path="url(#cpb1)"><rect x="121.5" y="374.0" width="67.6" height="8.5" fill="#000030" fill-opacity="0.62" filter="url(#bl4)"/><ellipse cx="155.1" cy="392" rx="6.5" ry="12" fill="#000066" filter="url(#bl3)"/><rect x="154.2" y="432" width="1.2" height="29" fill="#000026" filter="url(#bl)"/></g>
<g clip-path="url(#cpb2)"><rect x="211.7" y="374.0" width="67.6" height="8.5" fill="#000030" fill-opacity="0.62" filter="url(#bl4)"/><ellipse cx="245.3" cy="392" rx="6.5" ry="12" fill="#000066" filter="url(#bl3)"/><rect x="244.4" y="432" width="1.2" height="29" fill="#000026" filter="url(#bl)"/></g>
<g clip-path="url(#cpb3)"><rect x="301.9" y="374.0" width="67.6" height="8.5" fill="#000030" fill-opacity="0.62" filter="url(#bl4)"/><ellipse cx="335.5" cy="392" rx="6.5" ry="12" fill="#000066" filter="url(#bl3)"/><rect x="334.6" y="432" width="1.2" height="29" fill="#000026" filter="url(#bl)"/></g>
<g clip-path="url(#cpb4)"><rect x="392.1" y="374.0" width="67.6" height="8.5" fill="#000030" fill-opacity="0.62" filter="url(#bl4)"/><ellipse cx="425.7" cy="392" rx="6.5" ry="12" fill="#000066" filter="url(#bl3)"/><rect x="424.8" y="432" width="1.2" height="29" fill="#000026" filter="url(#bl)"/></g>
<g clip-path="url(#cpb5)"><rect x="482.3" y="374.0" width="67.6" height="8.5" fill="#000030" fill-opacity="0.62" filter="url(#bl4)"/><ellipse cx="515.9" cy="392" rx="6.5" ry="12" fill="#000066" filter="url(#bl3)"/><rect x="515.0" y="432" width="1.2" height="29" fill="#000026" filter="url(#bl)"/></g>
<g filter="url(#bl2)">
<path fill="#000030" fill-rule="evenodd" d="M62.0,384.4L62.5,384.5L63.0,385.1L63.3,385.8L63.7,387.3L64.1,387.9L64.5,388.2L65.7,388.6L66.5,389.3L68.0,391.8L68.4,392.8L68.6,394.1L68.8,396.9L68.9,402.3L68.8,405.4L68.9,409.2L68.8,409.9L68.6,410.2L68.2,410.4L67.6,410.3L66.5,409.9L64.5,410.2L62.5,410.0L61.5,410.3L60.9,410.4L60.4,410.2L60.1,409.7L60.3,399.2L60.1,394.8L60.2,390.4L60.4,388.2L60.9,385.9L61.4,384.9L61.6,384.6Z"/>
<path fill="#000068" fill-rule="evenodd" d="M62.0,384.7L62.5,384.9L62.9,385.3L63.1,385.9L63.7,387.6L64.0,388.1L64.4,388.4L65.6,388.9L66.3,389.6L67.1,391.1L67.9,392.2L68.3,393.1L68.5,394.2L68.8,397.1L68.8,402.3L68.7,405.6L68.9,409.2L68.7,409.9L68.2,410.3L67.6,410.2L66.5,409.7L65.4,410.0L64.5,410.1L63.7,410.0L62.5,409.7L61.6,410.2L61.0,410.3L60.5,410.2L60.2,409.7L60.1,408.7L60.4,399.2L60.2,394.9L60.3,390.4L60.5,388.3L61.0,386.2L61.4,385.2L61.7,384.9Z"/>
<path fill="#0000a0" fill-rule="evenodd" d="M62.0,385.1L62.2,385.1L62.5,385.2L62.8,385.7L63.6,387.8L64.0,388.5L64.4,388.8L65.5,389.2L66.1,389.8L67.0,391.4L67.9,392.5L68.2,393.4L68.7,397.1L68.8,402.3L68.7,405.6L68.8,409.1L68.7,409.8L68.5,410.0L68.2,410.2L67.9,410.2L67.4,410.1L67.1,409.8L66.5,409.2L66.4,409.2L65.8,409.7L64.9,409.9L64.1,409.9L63.5,409.8L62.6,409.2L61.8,409.9L61.2,410.2L60.6,410.1L60.3,409.7L60.2,408.7L60.5,399.2L60.3,394.9L60.3,390.7L60.6,388.7L61.0,386.6L61.5,385.5Z"/>
<path fill="#0000d8" fill-rule="evenodd" d="M62.0,385.4L62.4,385.5L62.7,385.9L63.6,388.2L64.0,388.8L64.4,389.1L65.4,389.5L65.8,389.9L66.9,391.8L67.8,392.8L68.1,393.6L68.6,396.8L68.7,401.9L68.6,405.4L68.7,409.3L68.5,409.8L68.2,410.1L67.7,410.1L67.2,409.7L66.9,409.3L66.5,408.0L66.2,407.8L66.0,408.2L65.7,409.2L65.4,409.6L64.6,409.8L63.7,409.6L63.4,409.4L63.3,409.2L62.9,407.6L62.7,407.4L62.6,407.4L62.4,408.0L62.1,409.3L61.8,409.8L61.4,410.1L60.9,410.1L60.5,409.9L60.3,409.6L60.6,399.2L60.3,394.9L60.4,390.7L60.6,388.7L61.1,386.7L61.5,385.9L61.7,385.6Z"/>
<path fill="#0014ff" fill-rule="evenodd" d="M62.0,385.8L62.4,385.8L62.7,386.3L63.6,388.5L64.0,389.2L64.4,389.5L65.2,389.8L65.6,390.2L66.7,392.2L67.7,393.1L68.1,394.1L68.6,396.9L68.6,402.1L68.5,405.6L68.6,409.3L68.4,409.8L68.1,410.0L67.6,409.9L67.3,409.6L66.5,406.8L66.2,406.4L66.1,406.3L65.9,406.7L65.2,409.2L64.9,409.4L64.2,409.5L63.9,409.3L63.6,408.7L63.0,405.8L62.7,405.4L62.6,405.5L62.4,406.2L61.9,409.1L61.8,409.6L61.4,409.9L61.0,410.0L60.6,409.9L60.5,409.6L60.4,408.6L60.7,399.2L60.4,395.1L60.4,390.8L60.7,388.9L61.1,387.2L61.5,386.2L61.7,385.9Z"/>
<path fill="#0055ff" fill-rule="evenodd" d="M62.0,386.1L62.4,386.2L62.7,386.6L63.6,388.9L64.0,389.5L64.4,389.9L65.1,390.2L65.5,390.5L66.6,392.4L67.6,393.3L68.0,394.2L68.4,395.8L68.5,396.9L68.6,401.9L68.4,405.6L68.5,409.2L68.4,409.7L68.1,409.9L67.7,409.8L67.4,409.4L66.5,405.8L66.2,405.3L66.0,405.1L65.8,405.2L65.7,405.4L65.1,407.4L64.9,408.0L64.6,408.3L64.4,408.3L64.2,408.2L63.7,406.9L63.1,403.9L62.9,403.5L62.7,403.5L62.6,403.6L62.4,404.6L61.7,409.4L61.4,409.8L61.0,409.9L60.7,409.8L60.5,409.4L60.8,399.3L60.5,395.1L60.5,390.9L60.7,389.2L61.1,387.6L61.5,386.6L61.7,386.2Z"/>
<path fill="#0097ff" fill-rule="evenodd" d="M62.0,386.4L62.4,386.5L62.6,386.8L63.6,389.2L64.0,389.9L64.2,390.2L65.2,390.8L65.6,391.3L66.5,392.8L67.6,393.7L67.9,394.2L68.1,395.0L68.4,397.1L68.5,401.9L68.3,405.6L68.4,409.1L68.3,409.4L68.1,409.7L67.7,409.7L67.5,409.3L66.7,405.7L66.4,404.9L66.0,404.3L65.7,404.1L65.5,404.3L64.9,405.9L64.6,406.2L64.4,406.2L64.0,405.5L63.3,402.9L63.0,402.4L62.7,402.3L62.5,402.6L62.2,403.6L61.5,409.3L61.4,409.6L61.1,409.7L60.9,409.7L60.7,409.4L60.7,408.2L61.0,399.3L60.5,395.2L60.6,391.1L60.8,389.4L61.1,387.9L61.6,386.8Z"/>
<path fill="#00d9ff" fill-rule="evenodd" d="M62.0,386.7L62.4,386.8L62.6,387.1L63.7,389.9L64.1,390.5L65.0,391.1L65.3,391.4L66.5,393.3L67.5,393.9L67.7,394.3L68.1,395.4L68.4,397.2L68.5,402.1L68.2,405.6L68.2,408.9L68.2,409.3L68.0,409.5L67.7,409.4L67.6,409.1L66.8,405.4L65.9,403.5L65.6,403.2L65.4,403.2L64.6,404.1L64.4,404.0L63.1,401.7L62.7,401.3L62.5,401.5L62.4,401.8L62.1,402.8L61.4,409.1L61.1,409.5L61.0,409.5L60.9,409.3L60.8,406.7L61.1,399.3L60.7,397.0L60.6,395.3L60.6,391.2L60.8,389.7L61.1,388.3L61.6,387.1Z"/>
<path fill="#0bfff4" fill-rule="evenodd" d="M62.0,387.0L62.4,387.1L62.7,387.7L64.1,391.0L65.2,391.9L66.4,393.7L66.6,393.9L67.2,394.1L67.5,394.3L67.7,394.7L68.1,395.7L68.3,397.2L68.4,402.2L68.3,403.8L68.1,405.6L68.0,408.6L67.9,408.8L67.6,408.1L67.0,405.6L65.7,402.8L65.4,402.5L64.5,402.7L64.1,402.5L63.7,402.0L63.0,400.6L62.7,400.4L62.5,400.4L62.4,400.6L62.1,401.6L61.2,406.8L61.1,405.2L61.2,399.3L60.9,397.3L60.7,395.6L60.7,391.4L60.8,390.1L61.1,388.6L61.6,387.4Z"/>
<path fill="#24ffdb" fill-rule="evenodd" d="M62.0,387.4L62.4,387.4L62.7,388.0L64.1,391.6L65.2,392.4L66.4,394.2L67.1,394.4L67.5,394.6L68.0,395.7L68.3,397.3L68.3,402.2L68.2,403.9L67.7,406.9L67.6,406.8L67.2,405.4L65.9,402.6L65.5,402.0L65.2,401.8L64.5,401.9L64.1,401.7L63.7,401.3L62.9,399.5L62.6,399.3L62.3,399.6L61.7,400.8L61.6,400.8L61.5,399.2L61.0,397.6L60.8,396.2L60.7,394.7L60.7,392.3L60.8,390.6L61.1,389.1L61.5,387.9L61.7,387.5Z"/>
<path fill="#3effc1" fill-rule="evenodd" d="M62.0,387.6L62.4,387.7L62.9,388.5L63.9,391.6L64.1,392.1L64.9,392.6L65.2,392.9L66.2,394.7L66.5,394.8L67.1,394.7L67.4,394.8L67.7,395.3L68.0,395.9L68.2,397.3L68.3,402.3L68.1,404.3L67.9,405.0L67.6,405.5L67.4,405.3L66.9,404.5L65.7,402.0L65.4,401.3L65.1,401.2L64.5,401.2L64.1,401.0L63.6,400.3L62.9,398.6L62.6,398.5L62.0,398.9L61.7,398.8L61.5,398.5L61.2,397.8L60.9,396.6L60.8,394.9L60.8,390.9L61.2,388.8L61.6,388.0Z"/>
<path fill="#57ffa8" fill-rule="evenodd" d="M62.0,387.9L62.4,388.0L62.9,388.7L63.3,389.9L63.7,391.8L64.0,392.5L64.2,392.8L64.9,393.1L65.2,393.4L66.1,395.1L66.4,395.2L66.9,395.0L67.2,395.0L67.6,395.3L67.9,395.9L68.2,397.3L68.2,402.2L68.0,404.2L67.9,404.6L67.6,405.0L67.5,405.0L67.2,404.8L66.9,404.3L65.4,400.8L65.1,400.5L64.4,400.4L63.9,399.9L63.1,397.9L62.9,397.8L62.1,398.4L61.9,398.4L61.5,398.1L61.2,397.6L61.0,396.5L60.8,394.9L60.9,391.1L61.0,390.1L61.3,388.9L61.6,388.2Z"/>
<path fill="#71ff8e" fill-rule="evenodd" d="M62.0,388.1L62.2,388.1L62.5,388.3L62.9,389.1L63.3,390.4L63.7,392.5L64.0,393.1L64.7,393.4L65.1,393.7L66.0,395.5L66.2,395.5L66.9,395.2L67.2,395.2L67.6,395.5L67.9,396.1L68.1,397.4L68.2,402.1L68.0,403.7L67.9,404.2L67.6,404.6L67.5,404.7L67.2,404.5L66.8,403.9L65.4,400.2L65.0,399.9L64.4,399.7L64.1,399.5L63.9,399.0L63.6,397.9L63.3,397.4L63.1,397.3L62.9,397.3L62.2,397.9L61.9,398.1L61.5,397.8L61.3,397.3L61.0,396.2L60.9,394.8L60.9,391.1L61.1,390.1L61.4,389.0L61.6,388.5Z"/>
<path fill="#8aff75" fill-rule="evenodd" d="M62.0,388.4L62.2,388.4L62.5,388.6L63.0,389.6L63.3,390.7L63.7,393.2L63.9,393.6L64.6,393.8L65.0,394.1L65.4,394.6L65.9,395.9L66.1,395.9L66.9,395.5L67.2,395.4L67.6,395.8L67.9,396.3L68.1,397.4L68.1,402.1L67.9,403.8L67.7,404.1L67.5,404.4L67.1,404.1L66.7,403.5L65.5,400.0L65.0,399.0L64.4,398.7L63.5,397.2L63.1,396.9L62.9,396.9L62.2,397.6L61.9,397.8L61.6,397.6L61.3,397.1L61.1,396.2L60.9,394.8L61.0,391.1L61.4,389.3L61.6,388.7Z"/>
<path fill="#a4ff5b" fill-rule="evenodd" d="M62.0,388.6L62.2,388.6L62.5,388.8L63.0,389.9L63.3,390.9L63.6,393.7L63.7,394.1L63.9,394.2L64.6,394.2L65.0,394.4L65.4,395.2L65.7,396.6L66.6,395.8L67.0,395.6L67.2,395.6L67.5,395.8L67.8,396.3L68.0,397.4L68.0,401.9L67.9,403.4L67.7,403.8L67.5,404.1L67.2,404.0L66.9,403.5L66.1,401.7L65.5,399.2L65.5,397.3L65.4,397.3L64.9,397.6L64.5,397.8L64.0,397.5L63.1,396.5L62.9,396.6L62.2,397.3L62.0,397.4L61.6,397.3L61.4,396.8L61.1,395.8L61.0,394.7L61.0,391.2L61.4,389.5L61.6,389.0Z"/>
<path fill="#bdff42" fill-rule="evenodd" d="M62.0,388.8L62.2,388.8L62.5,389.1L62.8,389.6L63.1,390.4L63.3,392.3L63.5,394.6L63.6,394.7L64.2,394.5L64.6,394.5L65.0,394.8L65.2,395.3L65.4,395.9L65.3,396.6L65.0,397.1L64.6,397.3L64.4,397.3L64.0,397.1L63.2,396.0L63.0,396.0L62.3,396.9L62.0,397.1L61.7,397.1L61.6,397.0L61.4,396.5L61.1,394.6L61.1,391.2L61.2,390.3L61.5,389.6L61.7,389.0ZM67.1,395.8L67.4,395.9L67.7,396.3L67.9,396.9L67.9,397.6L68.0,402.2L67.7,403.4L67.6,403.7L67.4,403.8L67.0,403.5L66.4,402.3L65.8,399.9L65.6,399.1L65.8,397.6L65.9,396.9L66.5,396.1L66.9,395.9Z"/>
<path fill="#d7ff28" fill-rule="evenodd" d="M62.1,389.0L62.4,389.1L62.6,389.5L63.0,390.4L63.2,391.7L63.3,393.2L63.2,394.8L63.0,395.4L62.4,396.5L62.1,396.8L61.9,396.9L61.6,396.7L61.5,396.5L61.2,395.6L61.1,394.4L61.1,392.6L61.2,391.1L61.4,390.1L61.7,389.3ZM64.4,394.8L64.6,394.8L64.9,395.0L65.1,395.4L65.2,395.8L65.1,396.3L65.0,396.7L64.7,396.9L64.5,397.0L64.2,397.0L63.9,396.7L63.7,396.3L63.6,395.8L63.7,395.2L64.0,394.9ZM67.1,396.0L67.4,396.1L67.6,396.4L67.9,397.6L67.9,402.1L67.7,403.1L67.6,403.3L67.4,403.5L67.0,403.2L66.5,402.2L65.9,400.1L65.8,399.2L65.9,397.7L66.1,396.9L66.6,396.2Z"/>
<path fill="#f0ff0f" fill-rule="evenodd" d="M62.1,389.2L62.5,389.5L62.9,390.4L63.1,391.4L63.2,393.1L63.0,394.6L62.8,395.4L62.2,396.4L61.9,396.6L61.6,396.4L61.5,396.1L61.3,395.3L61.2,392.6L61.2,391.1L61.4,390.3L61.7,389.5ZM64.4,395.1L64.7,395.2L65.0,395.8L64.9,396.4L64.5,396.7L64.1,396.6L63.8,395.9L64.0,395.3ZM67.1,396.2L67.4,396.3L67.6,396.7L67.8,397.7L67.8,401.9L67.6,402.9L67.4,403.2L67.0,403.0L66.5,402.1L66.0,400.1L65.9,399.2L66.0,397.8L66.2,397.1L66.6,396.4L66.9,396.2Z"/>
<path fill="#fff500" fill-rule="evenodd" d="M62.1,389.5L62.5,389.7L62.8,390.6L63.0,391.7L63.1,393.1L62.9,394.4L62.7,395.3L62.2,396.1L61.9,396.3L61.6,395.9L61.3,395.1L61.2,392.4L61.3,391.1L61.5,390.3L61.7,389.7ZM64.4,395.4L64.6,395.5L64.7,395.8L64.7,396.2L64.5,396.4L64.2,396.3L64.1,395.9L64.1,395.6ZM67.1,396.4L67.4,396.5L67.6,396.8L67.7,397.7L67.8,401.8L67.6,402.6L67.4,402.9L67.2,402.9L67.0,402.7L66.6,402.0L66.1,400.1L66.0,399.2L66.1,398.1L66.3,397.2L66.7,396.6Z"/>
<path fill="#ffdd00" fill-rule="evenodd" d="M62.1,389.7L62.5,390.0L62.7,390.6L63.0,392.8L62.7,394.9L62.4,395.7L62.0,396.0L61.7,395.9L61.6,395.7L61.4,395.1L61.3,392.7L61.5,390.6L61.7,390.0ZM67.1,396.5L67.4,396.7L67.5,396.9L67.7,397.9L67.7,401.7L67.5,402.5L67.2,402.7L66.9,402.3L66.6,401.7L66.2,399.9L66.1,399.2L66.4,397.3L66.7,396.7Z"/>
<path fill="#ffc500" fill-rule="evenodd" d="M62.1,389.9L62.4,390.1L62.7,390.7L62.9,392.8L62.6,394.8L62.4,395.4L62.0,395.7L61.7,395.6L61.5,395.0L61.3,392.7L61.5,390.7L61.7,390.2ZM67.1,396.7L67.4,396.9L67.5,397.2L67.6,397.9L67.6,401.6L67.5,402.1L67.2,402.4L67.0,402.2L66.7,401.6L66.3,399.9L66.2,399.2L66.3,398.2L66.5,397.3L66.7,396.9Z"/>
<path fill="#ffae00" fill-rule="evenodd" d="M62.1,390.1L62.4,390.3L62.6,390.8L62.8,392.8L62.5,394.7L62.2,395.2L62.0,395.4L61.7,395.3L61.5,394.7L61.4,392.7L61.6,390.8L61.9,390.3ZM67.0,396.9L67.2,397.0L67.4,397.2L67.5,397.9L67.5,401.3L67.4,401.8L67.2,402.1L67.0,401.9L66.7,401.4L66.3,399.3L66.5,397.7L66.7,397.1Z"/>
<path fill="#ff9600" fill-rule="evenodd" d="M62.1,390.4L62.4,390.5L62.6,391.1L62.7,392.8L62.4,394.4L62.2,394.9L62.0,395.1L61.7,394.9L61.6,394.4L61.5,392.7L61.7,390.9L61.9,390.5ZM67.0,397.2L67.1,397.2L67.3,397.4L67.4,398.3L67.4,401.1L67.3,401.6L67.1,401.7L66.7,401.0L66.4,399.3L66.6,397.7L66.7,397.4Z"/>
<path fill="#ff7e00" fill-rule="evenodd" d="M62.1,390.6L62.4,390.9L62.5,391.2L62.6,392.8L62.4,394.2L62.2,394.6L62.0,394.7L61.9,394.7L61.7,394.3L61.6,392.7L61.7,391.2L61.9,390.8ZM67.0,397.5L67.1,397.5L67.2,397.7L67.3,398.7L67.2,400.9L67.1,401.1L67.0,401.0L66.7,400.5L66.5,399.3L66.6,398.2L66.7,397.8Z"/>
<path fill="#ff6600" fill-rule="evenodd" d="M62.1,391.0L62.2,391.1L62.4,391.4L62.5,392.8L62.4,393.7L62.1,394.2L62.0,394.3L61.7,393.6L61.7,392.7L61.9,391.3L62.0,391.1ZM67.0,398.0L67.1,398.3L67.2,399.3L67.1,400.2L67.0,400.4L66.7,400.0L66.6,399.2L66.7,398.4Z"/>
<path fill="#ff4e00" fill-rule="evenodd" d="M62.1,391.6L62.3,392.1L62.4,392.7L62.3,393.2L62.1,393.7L62.0,393.6L61.9,393.4L61.8,392.8L61.9,392.2L62.0,391.7ZM66.9,399.0L67.0,399.0L67.0,399.2L67.0,399.5L66.9,399.5Z"/>
</g>
<g filter="url(#bl2)">
<path fill="#000030" fill-rule="evenodd" d="M152.1,386.5L152.6,386.5L153.0,386.9L153.4,387.5L153.9,388.8L154.1,389.1L154.5,389.3L155.1,389.3L155.5,389.1L155.8,388.7L156.5,387.1L156.8,386.7L157.1,386.5L157.6,386.5L158.0,386.9L158.3,387.4L158.6,388.2L158.9,389.7L159.1,391.3L159.7,409.6L159.6,409.9L159.4,410.2L159.0,410.3L158.4,410.3L157.3,410.0L155.9,410.2L154.8,410.3L153.6,410.2L152.4,410.0L151.3,410.3L150.8,410.4L150.3,410.2L150.0,409.8L149.9,408.9L150.3,391.4L151.1,387.8L151.5,386.9L151.9,386.6Z"/>
<path fill="#000068" fill-rule="evenodd" d="M152.1,386.8L152.5,386.9L152.9,387.1L153.2,387.7L153.9,389.1L154.1,389.4L154.5,389.5L155.1,389.5L155.6,389.2L156.5,387.4L156.8,387.1L157.1,386.8L157.5,386.9L157.9,387.1L158.3,387.7L158.5,388.4L158.8,389.7L158.9,391.4L159.6,408.8L159.5,409.8L159.3,410.1L159.0,410.3L158.4,410.2L157.3,409.8L155.9,410.1L154.8,410.2L153.6,410.1L152.4,409.8L151.3,410.2L150.8,410.3L150.3,410.1L150.0,409.7L150.0,408.8L150.2,402.1L150.2,397.2L150.4,391.6L150.6,390.4L151.2,388.1L151.6,387.2Z"/>
<path fill="#0000a0" fill-rule="evenodd" d="M152.1,387.2L152.5,387.2L152.9,387.5L153.8,389.2L154.0,389.5L154.4,389.7L155.1,389.8L155.6,389.5L155.9,389.1L156.6,387.7L156.9,387.3L157.1,387.2L157.5,387.2L157.9,387.5L158.2,387.9L158.5,388.7L158.7,389.8L158.8,391.7L159.5,408.6L159.5,409.7L159.3,410.0L159.0,410.2L158.6,410.2L158.3,410.1L157.4,409.6L157.1,409.5L156.0,409.9L154.8,410.1L153.6,409.9L152.4,409.5L151.4,410.1L150.9,410.2L150.4,410.1L150.1,409.7L150.1,408.7L150.3,402.1L150.3,397.2L150.5,391.6L150.7,390.4L151.3,388.3L151.6,387.6Z"/>
<path fill="#0000d8" fill-rule="evenodd" d="M152.1,387.5L152.5,387.5L152.8,387.7L153.8,389.5L154.0,389.8L154.4,390.0L155.1,390.0L155.6,389.8L156.0,389.3L156.6,388.0L157.1,387.5L157.5,387.5L157.8,387.8L158.4,389.0L158.6,390.1L158.8,392.4L159.4,408.2L159.4,409.6L159.3,409.8L159.0,410.1L158.5,410.1L158.0,409.8L157.1,408.7L157.0,408.8L156.4,409.6L155.9,409.8L155.4,409.9L154.3,409.9L153.4,409.7L152.9,409.3L152.5,408.6L152.4,408.6L152.3,408.7L151.8,409.6L151.4,410.0L151.0,410.1L150.6,410.1L150.4,409.9L150.3,409.7L150.2,408.9L150.4,402.2L150.4,397.2L150.5,391.7L150.7,390.6L151.3,388.6L151.8,387.8Z"/>
<path fill="#0014ff" fill-rule="evenodd" d="M152.1,387.8L152.5,387.9L152.8,388.1L153.7,389.7L154.0,390.0L154.4,390.2L155.3,390.2L155.8,390.0L156.0,389.6L156.6,388.3L157.1,387.8L157.5,387.9L157.8,388.1L158.0,388.4L158.3,389.2L158.5,390.3L158.7,393.2L159.3,407.8L159.3,409.4L159.1,409.8L158.9,410.0L158.4,409.9L157.9,409.6L157.4,408.1L157.1,407.7L157.0,407.6L156.8,407.9L156.3,409.2L155.9,409.6L154.9,409.8L154.3,409.7L153.8,409.6L153.3,409.2L152.8,407.5L152.5,407.3L152.3,407.6L151.7,409.3L151.5,409.7L151.2,409.9L150.8,410.0L150.5,409.9L150.3,409.6L150.3,408.6L150.5,402.1L150.4,397.2L150.6,391.7L150.8,390.7L151.4,388.9L151.8,388.2Z"/>
<path fill="#0055ff" fill-rule="evenodd" d="M152.1,388.2L152.4,388.1L152.6,388.3L153.6,389.9L154.0,390.2L154.4,390.4L155.3,390.4L155.8,390.3L156.1,389.8L156.8,388.5L157.1,388.2L157.5,388.2L157.8,388.4L158.2,389.3L158.4,390.4L158.6,393.4L159.2,406.6L159.2,409.3L159.1,409.7L158.9,409.8L158.4,409.8L158.0,409.4L157.4,407.2L157.1,406.7L156.9,406.5L156.6,406.8L155.9,408.8L155.6,409.3L155.4,409.4L154.9,409.5L154.4,409.5L154.0,409.3L153.7,408.8L152.9,406.4L152.6,406.1L152.5,406.1L152.3,406.5L151.6,409.2L151.4,409.6L151.1,409.8L150.9,409.9L150.6,409.8L150.5,409.6L150.4,408.4L150.6,402.1L150.5,397.2L150.7,391.8L150.9,390.8L151.4,389.3L151.8,388.5Z"/>
<path fill="#0097ff" fill-rule="evenodd" d="M152.1,388.5L152.4,388.5L152.6,388.6L153.8,390.3L154.1,390.5L154.5,390.7L155.4,390.7L155.9,390.4L156.8,388.8L157.1,388.5L157.4,388.5L157.6,388.6L157.9,388.9L158.1,389.6L158.3,390.8L158.6,394.1L159.1,406.4L159.1,409.2L159.0,409.6L158.8,409.7L158.4,409.6L158.2,409.3L157.4,406.4L157.1,405.8L156.9,405.4L156.8,405.4L156.5,405.8L155.9,407.6L155.5,408.4L155.1,408.9L154.8,409.0L154.4,408.8L154.0,408.3L153.6,407.4L152.9,405.0L152.6,404.8L152.4,405.1L152.1,405.8L151.4,409.3L151.2,409.6L151.0,409.7L150.8,409.7L150.6,409.4L150.5,407.8L150.7,402.2L150.6,397.2L150.8,391.8L150.9,390.9L151.3,389.9L151.8,388.9Z"/>
<path fill="#00d9ff" fill-rule="evenodd" d="M152.1,388.8L152.4,388.8L152.6,388.9L153.8,390.5L154.1,390.8L154.6,391.0L155.5,391.0L155.9,390.8L156.2,390.4L156.8,389.2L157.1,388.8L157.4,388.8L157.6,388.9L158.0,389.6L158.2,390.8L158.4,393.7L158.8,402.3L159.0,408.3L158.9,409.2L158.8,409.5L158.5,409.4L158.3,409.1L157.4,405.6L157.0,404.6L156.8,404.3L156.6,404.2L156.5,404.4L155.8,406.4L155.4,407.3L155.0,407.7L154.6,407.7L154.3,407.4L153.9,406.7L153.5,405.4L153.0,403.4L152.9,403.2L152.8,403.2L152.5,403.5L152.3,404.3L151.2,409.1L151.0,409.4L150.9,409.4L150.8,409.3L150.7,407.6L150.8,402.2L150.7,397.4L150.8,391.9L151.0,391.1L151.2,390.3L151.8,389.2Z"/>
<path fill="#0bfff4" fill-rule="evenodd" d="M152.1,389.1L152.4,389.1L152.6,389.2L154.3,391.2L154.6,391.4L155.3,391.6L155.6,391.5L155.9,391.3L156.8,389.6L157.1,389.2L157.3,389.1L157.5,389.2L157.9,389.8L158.1,391.1L158.4,393.8L158.7,401.4L158.8,407.1L158.8,408.4L158.6,408.8L158.5,408.7L158.3,408.1L157.1,404.0L156.6,403.0L156.5,402.9L156.4,403.0L156.3,403.2L155.8,405.2L155.4,406.0L155.0,406.4L154.6,406.4L154.3,406.1L153.9,405.3L153.3,402.1L153.0,401.6L152.8,401.8L152.4,402.7L151.1,408.0L151.0,408.2L150.8,406.8L150.9,402.2L150.7,397.6L150.9,391.9L151.0,391.2L151.3,390.4L151.8,389.5Z"/>
<path fill="#24ffdb" fill-rule="evenodd" d="M152.1,389.4L152.5,389.4L153.0,389.9L153.8,391.1L154.5,392.4L154.9,392.6L155.4,392.8L155.6,392.7L155.9,392.3L156.7,390.1L157.0,389.6L157.4,389.5L157.6,389.7L157.8,390.0L158.0,391.3L158.2,393.6L158.5,399.3L158.7,404.2L158.6,406.3L158.5,407.2L158.4,407.2L158.1,406.6L156.9,402.5L156.5,401.7L156.3,401.4L156.1,401.4L155.3,404.7L154.9,405.1L154.6,405.1L154.5,404.9L154.3,404.6L154.0,403.6L153.6,400.6L153.4,400.1L153.3,400.1L153.0,400.4L152.4,401.8L151.4,405.6L151.3,405.9L151.1,405.8L151.1,402.2L150.9,400.2L150.8,397.8L151.0,392.1L151.1,391.3L151.3,390.6L151.8,389.7Z"/>
<path fill="#3effc1" fill-rule="evenodd" d="M152.1,389.7L152.4,389.6L152.8,389.8L153.6,390.9L153.9,391.6L154.3,393.2L154.5,393.7L154.8,393.9L155.4,394.1L155.6,394.0L155.9,393.5L156.5,391.2L157.0,390.1L157.1,389.9L157.4,389.9L157.6,390.3L157.9,391.4L158.1,393.7L158.4,398.7L158.5,403.7L158.4,405.3L158.3,405.6L158.0,405.2L156.4,400.1L155.9,399.2L155.7,399.2L155.6,399.6L155.3,401.8L155.1,402.5L154.9,402.9L154.6,402.8L154.5,402.6L154.3,401.7L154.0,398.7L153.9,398.2L153.8,398.1L153.5,398.4L151.6,403.1L151.5,403.4L151.4,403.4L151.0,400.6L150.9,398.6L151.0,392.2L151.1,391.3L151.3,390.7L151.8,390.0Z"/>
<path fill="#57ffa8" fill-rule="evenodd" d="M152.4,389.8L152.6,389.9L153.0,390.3L153.7,391.4L154.1,393.9L154.1,395.1L153.6,397.1L152.6,400.2L152.0,401.4L151.6,401.9L151.4,401.6L151.3,401.3L151.0,399.1L150.9,396.8L151.1,392.1L151.2,391.2L151.5,390.5L151.9,390.0L152.1,389.9ZM157.3,390.5L157.5,390.7L157.8,391.7L158.1,394.8L158.4,401.8L158.3,403.6L158.1,404.2L157.9,403.9L157.5,403.0L155.9,397.6L155.8,396.7L155.8,395.2L156.6,391.8L156.9,390.9L157.1,390.5Z"/>
<path fill="#71ff8e" fill-rule="evenodd" d="M152.4,390.0L152.6,390.1L153.0,390.5L153.5,391.4L153.8,393.4L153.8,394.6L153.3,397.1L152.7,399.3L152.1,400.7L151.9,401.1L151.6,401.3L151.4,401.0L151.3,400.5L151.1,398.4L151.0,396.6L151.2,392.1L151.3,391.3L151.6,390.6L152.0,390.1ZM157.3,391.3L157.5,391.6L157.6,392.1L158.0,394.9L158.2,400.7L158.2,402.3L158.0,402.9L157.9,402.9L157.8,402.8L157.4,401.8L156.3,397.9L156.1,396.8L156.2,395.1L156.5,393.3L156.9,391.8L157.1,391.3Z"/>
<path fill="#8aff75" fill-rule="evenodd" d="M152.4,390.2L152.9,390.6L153.4,391.4L153.6,392.6L153.7,394.3L153.2,396.8L152.7,398.8L152.1,400.2L151.9,400.6L151.6,400.7L151.4,400.4L151.3,399.8L151.1,397.9L151.3,392.1L151.4,391.3L151.6,390.7L152.0,390.3ZM157.3,392.2L157.5,392.6L157.8,393.8L158.0,396.8L158.0,400.7L157.9,401.6L157.8,401.7L157.5,401.3L157.1,400.2L156.5,397.7L156.3,396.8L156.4,395.2L156.6,393.8L157.0,392.5Z"/>
<path fill="#a4ff5b" fill-rule="evenodd" d="M152.4,390.4L152.9,390.7L153.3,391.4L153.4,392.3L153.5,394.2L153.2,396.3L152.8,398.1L152.3,399.5L152.0,400.0L151.8,400.2L151.5,400.0L151.4,399.6L151.2,397.8L151.3,392.2L151.4,391.4L151.6,390.9L152.0,390.5ZM157.3,393.2L157.5,393.6L157.6,394.2L157.9,396.7L157.9,399.5L157.8,400.3L157.6,400.5L157.4,400.1L157.0,399.0L156.6,397.6L156.5,396.8L156.8,394.3L157.0,393.4Z"/>
<path fill="#bdff42" fill-rule="evenodd" d="M152.4,390.5L152.9,390.9L153.2,391.6L153.4,394.2L153.1,396.3L152.7,397.9L152.1,399.3L151.9,399.7L151.8,399.7L151.6,399.6L151.5,399.1L151.3,397.4L151.4,392.2L151.5,391.4L151.7,390.9L152.0,390.6ZM157.3,394.2L157.5,394.8L157.8,396.9L157.7,398.6L157.6,399.1L157.5,399.2L157.3,398.9L157.0,398.3L156.7,396.8L156.9,395.0L157.1,394.3Z"/>
<path fill="#d7ff28" fill-rule="evenodd" d="M152.4,390.7L152.8,390.9L153.1,391.6L153.3,394.1L153.1,395.6L152.7,397.4L152.3,398.7L151.9,399.2L151.7,399.1L151.5,398.7L151.3,397.3L151.5,392.4L151.5,391.7L151.7,391.2L152.0,390.8ZM157.3,395.5L157.5,396.1L157.6,396.9L157.5,397.8L157.4,398.0L157.1,397.7L156.9,396.9L157.0,396.0L157.1,395.6Z"/>
<path fill="#f0ff0f" fill-rule="evenodd" d="M152.4,390.9L152.8,391.1L153.0,391.7L153.2,394.1L152.6,397.2L152.3,398.2L151.9,398.7L151.6,398.4L151.4,397.1L151.5,392.6L151.6,391.8L151.8,391.3L152.0,391.0Z"/>
<path fill="#fff500" fill-rule="evenodd" d="M152.4,391.0L152.8,391.3L153.0,391.8L153.1,394.1L152.5,397.1L152.1,398.0L151.9,398.1L151.6,397.7L151.5,396.7L151.6,392.4L151.7,391.7L151.9,391.3L152.1,391.1Z"/>
<path fill="#ffdd00" fill-rule="evenodd" d="M152.4,391.2L152.7,391.4L152.9,391.9L153.0,394.1L152.5,396.6L152.3,397.3L152.0,397.6L151.9,397.6L151.8,397.4L151.6,396.7L151.6,393.6L151.9,391.7L152.1,391.3Z"/>
<path fill="#ffc500" fill-rule="evenodd" d="M152.4,391.4L152.6,391.7L152.8,392.1L152.9,394.1L152.4,396.5L152.1,397.0L152.0,397.0L151.9,396.9L151.8,396.2L151.8,393.4L152.0,391.8L152.1,391.5Z"/>
<path fill="#ffae00" fill-rule="evenodd" d="M152.3,391.8L152.5,391.9L152.6,392.3L152.8,393.9L152.5,395.4L152.1,396.3L152.0,396.2L151.9,395.6L151.8,394.1L152.0,392.2Z"/>
<path fill="#ff9600" fill-rule="evenodd" d="M152.3,392.4L152.4,392.5L152.5,392.8L152.6,393.9L152.4,395.1L152.3,395.3L152.1,395.3L152.0,394.9L152.0,393.9L152.1,392.8Z"/>
</g>
<g filter="url(#bl2)">
<path fill="#000030" fill-rule="evenodd" d="M242.5,387.0L242.9,387.0L243.2,387.2L243.6,387.7L244.2,388.8L244.7,389.2L245.4,389.2L245.9,389.0L246.2,388.7L246.9,387.4L247.1,387.1L247.5,387.0L247.9,387.0L248.2,387.3L248.6,387.9L248.9,388.7L249.3,390.7L249.6,392.6L249.8,398.2L249.7,403.7L249.9,409.3L249.7,409.9L249.5,410.2L249.2,410.3L248.6,410.4L247.5,410.1L245.1,410.3L242.9,410.1L241.4,410.4L240.9,410.2L240.6,409.8L240.5,408.9L240.6,402.9L240.6,397.3L240.7,392.4L240.9,390.8L241.5,388.4L241.9,387.4Z"/>
<path fill="#000068" fill-rule="evenodd" d="M242.5,387.4L242.9,387.3L243.2,387.6L244.1,389.0L244.4,389.2L244.7,389.4L245.5,389.4L246.0,389.2L246.3,388.8L247.0,387.7L247.5,387.3L247.9,387.4L248.2,387.7L248.5,388.2L248.8,388.9L249.3,390.9L249.5,392.8L249.7,397.8L249.7,403.8L249.8,409.3L249.6,409.9L249.2,410.2L248.6,410.3L247.5,409.9L246.1,410.1L245.1,410.2L244.1,410.1L242.9,409.9L241.4,410.3L240.9,410.1L240.6,409.7L240.6,408.8L240.7,402.7L240.7,397.2L240.8,392.4L241.0,390.9L241.6,388.7L242.0,387.8Z"/>
<path fill="#0000a0" fill-rule="evenodd" d="M242.5,387.7L242.9,387.7L243.2,387.9L244.2,389.4L244.6,389.6L245.1,389.6L245.6,389.6L246.0,389.4L246.4,389.1L247.1,387.9L247.4,387.7L247.7,387.7L248.0,387.8L248.3,388.2L248.8,389.3L249.2,391.1L249.4,392.9L249.6,398.1L249.6,403.8L249.7,409.3L249.5,409.9L249.1,410.2L248.5,410.1L247.5,409.7L246.1,410.0L245.1,410.1L244.1,410.0L242.9,409.7L241.9,410.1L241.4,410.2L241.0,410.1L240.7,409.7L240.7,408.8L240.8,402.7L240.7,397.3L240.8,392.6L241.1,391.1L241.6,389.0L242.0,388.2Z"/>
<path fill="#0000d8" fill-rule="evenodd" d="M242.6,388.0L242.9,388.0L243.1,388.2L244.2,389.6L244.5,389.7L245.1,389.8L245.7,389.8L246.1,389.6L247.1,388.2L247.4,388.0L247.7,388.0L248.2,388.4L248.7,389.6L249.1,391.2L249.4,393.1L249.5,397.9L249.5,403.8L249.6,409.2L249.5,409.8L249.1,410.1L248.7,410.1L248.4,410.0L247.5,409.4L246.4,409.8L245.1,410.0L243.9,409.8L242.9,409.3L242.0,409.9L241.5,410.1L241.0,409.9L240.8,409.6L240.9,402.8L240.8,397.2L240.9,392.6L241.2,391.1L241.7,389.1L242.1,388.4Z"/>
<path fill="#0014ff" fill-rule="evenodd" d="M242.6,388.3L242.9,388.3L243.1,388.5L244.1,389.8L244.5,389.9L245.1,390.0L245.7,390.0L246.1,389.8L246.5,389.5L247.2,388.5L247.5,388.3L247.7,388.3L248.2,388.8L248.7,389.9L249.1,391.4L249.3,393.2L249.5,397.8L249.4,403.8L249.5,409.2L249.4,409.7L249.1,410.0L248.6,410.0L248.2,409.7L248.0,409.4L247.6,408.7L247.4,408.5L247.1,408.7L246.7,409.4L246.2,409.7L245.7,409.8L244.7,409.8L244.0,409.7L243.6,409.4L243.1,408.6L242.9,408.4L242.3,409.4L241.9,409.9L241.5,410.0L241.2,409.9L241.0,409.8L240.9,409.6L240.8,408.7L241.0,402.7L240.9,397.3L241.0,392.7L241.2,391.2L241.8,389.4L242.1,388.7Z"/>
<path fill="#0055ff" fill-rule="evenodd" d="M242.6,388.6L242.9,388.7L243.1,388.8L244.1,390.0L244.5,390.2L245.7,390.2L246.1,390.1L246.5,389.7L247.2,388.8L247.5,388.6L247.7,388.7L248.0,388.8L248.2,389.2L248.7,390.3L249.0,391.7L249.2,393.3L249.4,398.1L249.3,403.8L249.4,409.1L249.3,409.6L249.0,409.9L248.6,409.8L248.3,409.6L247.6,407.7L247.4,407.4L247.2,407.5L247.0,407.8L246.4,409.2L245.9,409.6L244.9,409.7L244.1,409.4L243.8,409.1L243.2,407.6L243.0,407.4L242.9,407.4L242.6,407.8L242.2,409.2L242.0,409.6L241.7,409.8L241.4,409.8L241.1,409.7L241.0,409.4L241.1,402.8L240.9,397.3L241.1,392.7L241.3,391.2L241.8,389.7L242.2,388.9Z"/>
<path fill="#0097ff" fill-rule="evenodd" d="M242.6,389.0L242.9,389.0L243.1,389.1L243.7,389.9L244.1,390.2L244.5,390.4L245.9,390.4L246.2,390.2L247.2,389.1L247.5,389.0L247.7,389.0L248.0,389.2L248.2,389.5L248.6,390.6L248.9,391.8L249.2,393.4L249.3,397.9L249.2,403.8L249.3,408.9L249.2,409.4L249.0,409.7L248.6,409.7L248.4,409.4L247.7,407.1L247.5,406.6L247.2,406.4L246.9,406.8L246.0,409.0L245.6,409.3L245.1,409.4L244.7,409.3L244.4,409.0L243.2,406.5L243.0,406.3L242.9,406.4L242.5,407.2L241.9,409.4L241.6,409.7L241.4,409.7L241.2,409.6L241.1,409.3L241.2,402.8L241.0,397.4L241.1,392.8L241.3,391.6L241.7,390.4L242.1,389.4L242.4,389.1Z"/>
<path fill="#00d9ff" fill-rule="evenodd" d="M242.6,389.3L243.0,389.4L243.8,390.2L244.2,390.5L245.5,390.6L246.2,390.4L247.2,389.4L247.5,389.3L247.7,389.3L248.2,389.8L248.6,390.8L248.9,391.9L249.1,393.4L249.3,398.1L249.1,403.8L249.1,408.8L249.1,409.3L248.9,409.5L248.6,409.4L248.5,409.1L247.7,406.2L247.5,405.7L247.2,405.5L246.9,405.9L245.9,408.1L245.5,408.5L245.1,408.6L244.7,408.4L244.4,408.0L243.4,405.7L243.1,405.3L243.0,405.3L242.7,405.6L242.5,406.2L241.7,409.2L241.5,409.4L241.3,409.2L241.2,407.3L241.3,402.8L241.1,397.7L241.2,392.9L241.3,391.8L241.6,390.8L242.1,389.8L242.4,389.4Z"/>
<path fill="#0bfff4" fill-rule="evenodd" d="M242.6,389.6L243.0,389.6L243.9,390.5L244.2,390.7L244.6,390.8L245.5,390.9L246.2,390.7L247.2,389.7L247.6,389.6L247.9,389.7L248.1,390.0L248.5,390.9L248.8,392.2L249.0,393.6L249.2,398.1L249.2,401.1L249.0,403.9L249.0,407.4L248.9,408.6L248.7,408.7L247.7,405.3L247.5,404.7L247.2,404.4L247.1,404.5L246.9,404.8L246.2,406.4L245.9,407.1L245.5,407.5L245.1,407.6L244.7,407.4L244.4,407.0L243.4,404.5L243.1,404.2L243.0,404.2L242.7,404.6L242.5,405.2L241.7,408.0L241.6,408.3L241.5,408.2L241.4,406.7L241.4,402.8L241.1,398.3L241.2,393.1L241.4,392.0L241.7,390.9L242.2,389.9Z"/>
<path fill="#24ffdb" fill-rule="evenodd" d="M242.6,389.9L242.9,389.9L243.1,390.0L243.9,390.7L244.4,391.1L245.6,391.2L246.2,391.0L247.2,390.0L247.6,389.9L248.0,390.2L248.5,391.1L248.8,392.2L249.0,393.6L249.1,398.1L249.0,401.6L248.8,403.8L248.8,406.3L248.6,406.8L248.4,406.4L247.6,404.0L247.4,403.6L247.1,403.5L246.9,403.6L246.7,403.9L246.0,405.9L245.7,406.3L245.4,406.6L245.1,406.7L244.9,406.6L244.5,406.2L244.1,405.3L243.5,403.6L243.3,403.2L243.1,403.1L242.9,403.3L242.7,403.7L241.9,406.1L241.7,406.3L241.6,406.1L241.5,402.8L241.2,398.6L241.3,393.1L241.4,392.1L241.7,391.0L242.2,390.2Z"/>
<path fill="#3effc1" fill-rule="evenodd" d="M242.6,390.1L242.9,390.1L243.1,390.2L244.4,391.4L244.9,391.6L245.5,391.7L245.9,391.6L247.1,390.4L247.5,390.1L247.7,390.2L248.0,390.4L248.4,391.1L248.7,392.2L248.9,393.6L249.1,398.1L248.9,401.8L248.5,404.8L248.4,404.9L247.8,403.7L247.4,403.0L247.1,402.7L246.9,402.7L246.6,403.0L246.0,404.7L245.7,405.3L245.4,405.7L245.0,405.7L244.6,405.4L244.4,404.9L243.6,402.6L243.4,402.3L243.2,402.2L243.0,402.3L242.7,402.6L242.0,404.3L241.9,404.2L241.4,401.3L241.3,399.4L241.2,396.9L241.3,393.2L241.5,392.2L241.7,391.3L242.1,390.6Z"/>
<path fill="#57ffa8" fill-rule="evenodd" d="M242.6,390.3L243.0,390.4L243.4,390.7L244.7,392.2L245.4,392.4L245.9,392.2L247.1,390.6L247.5,390.4L247.7,390.5L248.0,390.7L248.3,391.2L248.7,392.9L248.9,394.3L249.0,398.6L248.9,401.4L248.6,403.1L248.4,403.6L248.1,403.5L247.1,402.1L246.7,401.9L246.4,402.3L245.7,404.1L245.5,404.5L245.2,404.6L244.9,404.5L244.6,404.2L243.7,401.8L243.5,401.4L243.4,401.4L243.1,401.6L242.1,402.7L241.9,402.5L241.6,401.6L241.4,400.1L241.3,397.7L241.4,392.9L241.6,392.1L241.9,391.2L242.2,390.6Z"/>
<path fill="#71ff8e" fill-rule="evenodd" d="M242.5,390.6L242.9,390.5L243.4,390.8L243.9,391.6L244.6,392.9L244.9,393.1L245.1,393.2L245.5,393.2L245.9,392.9L246.7,391.4L247.2,390.8L247.5,390.7L247.7,390.7L248.0,390.9L248.2,391.4L248.6,392.4L248.8,393.7L248.9,398.2L248.7,401.8L248.5,402.8L248.2,403.0L247.9,402.7L247.0,401.3L246.6,401.1L246.4,401.3L245.6,403.0L245.4,403.3L245.0,403.4L244.7,403.1L244.5,402.7L243.8,400.7L243.6,400.4L243.4,400.6L242.4,402.0L242.1,402.1L241.9,401.8L241.6,400.8L241.4,398.7L241.4,396.7L241.5,393.3L241.6,392.4L241.8,391.7L242.1,391.0Z"/>
<path fill="#8aff75" fill-rule="evenodd" d="M242.5,390.8L242.7,390.7L243.0,390.8L243.5,391.2L244.0,392.1L244.6,393.7L244.9,394.0L245.1,394.0L245.5,394.0L245.7,393.8L246.6,391.8L247.1,391.1L247.4,391.0L247.6,390.9L247.9,391.1L248.1,391.4L248.5,392.4L248.7,393.6L248.9,397.8L248.7,401.2L248.5,402.2L248.2,402.5L248.0,402.4L247.7,402.1L246.6,400.0L246.4,399.6L246.2,399.6L246.1,399.9L245.9,401.1L245.6,401.8L245.2,402.1L244.9,402.0L244.5,401.2L244.2,399.2L244.1,398.9L244.0,398.8L243.7,399.1L242.9,400.8L242.5,401.4L242.1,401.6L241.9,401.3L241.6,400.1L241.5,398.1L241.5,393.3L241.6,392.4L241.8,391.7L242.1,391.2Z"/>
<path fill="#a4ff5b" fill-rule="evenodd" d="M242.5,391.0L242.7,390.9L243.1,391.0L243.7,391.7L244.0,392.6L244.6,394.8L244.9,395.3L245.0,395.4L245.4,395.2L245.7,394.7L246.5,392.4L247.1,391.4L247.4,391.2L247.6,391.2L247.9,391.3L248.1,391.7L248.5,392.7L248.7,393.7L248.8,397.6L248.6,400.8L248.5,401.6L248.2,402.0L248.0,402.0L247.6,401.4L245.9,397.1L245.6,396.7L245.2,396.5L244.9,395.8L244.6,395.9L244.4,396.4L242.7,400.6L242.4,401.1L242.1,401.1L242.0,401.0L241.7,400.2L241.5,398.2L241.6,393.6L241.7,392.7L241.8,391.9L242.1,391.4Z"/>
<path fill="#bdff42" fill-rule="evenodd" d="M242.7,391.1L243.2,391.3L243.8,392.2L244.0,393.2L244.3,394.9L243.9,396.7L243.3,398.8L242.7,400.1L242.5,400.5L242.2,400.7L242.0,400.5L241.9,400.1L241.6,398.6L241.6,396.7L241.6,393.7L241.7,392.6L242.0,391.8L242.4,391.2ZM247.5,391.4L247.9,391.6L248.2,392.3L248.5,393.2L248.6,394.3L248.7,397.6L248.7,399.4L248.5,400.9L248.4,401.3L248.1,401.6L247.9,401.4L247.6,401.1L247.1,399.8L246.4,397.7L246.0,395.7L246.0,394.8L246.5,392.8L247.0,391.9L247.2,391.6Z"/>
<path fill="#d7ff28" fill-rule="evenodd" d="M242.7,391.2L243.0,391.3L243.2,391.5L243.7,392.3L243.9,393.4L244.1,394.9L243.7,396.9L243.1,398.7L242.6,399.9L242.2,400.2L242.0,399.9L241.9,399.6L241.7,398.2L241.6,396.6L241.7,393.7L241.8,392.7L242.0,392.0L242.4,391.4ZM247.5,391.7L247.9,391.8L248.2,392.4L248.4,393.3L248.6,394.3L248.7,397.1L248.6,398.9L248.4,400.4L248.3,400.9L248.1,401.1L248.0,401.1L247.7,400.8L247.2,399.6L246.6,397.8L246.2,395.6L246.3,394.4L246.6,393.1L247.0,392.1Z"/>
<path fill="#f0ff0f" fill-rule="evenodd" d="M242.7,391.4L243.0,391.5L243.2,391.7L243.6,392.4L243.8,393.4L243.9,394.8L243.6,396.8L243.1,398.3L242.6,399.5L242.4,399.7L242.2,399.7L242.0,399.2L241.7,397.7L241.8,393.7L241.8,392.8L242.0,392.2L242.4,391.6ZM247.5,391.9L247.9,392.1L248.2,392.8L248.4,393.7L248.5,394.8L248.6,397.6L248.5,399.1L248.3,400.3L248.1,400.6L248.0,400.6L247.6,400.2L247.1,398.8L246.6,396.8L246.4,395.6L246.4,394.4L246.7,393.2L247.1,392.3Z"/>
<path fill="#fff500" fill-rule="evenodd" d="M242.7,391.6L243.1,391.8L243.5,392.4L243.7,393.3L243.8,394.7L243.6,395.8L243.2,397.7L242.7,398.8L242.4,399.3L242.1,399.1L241.9,397.9L241.8,396.6L241.8,394.3L242.0,392.4L242.4,391.8ZM247.5,392.2L247.9,392.4L248.2,392.9L248.4,393.7L248.5,394.8L248.5,398.6L248.3,399.8L248.1,400.1L248.0,400.2L247.6,399.8L247.2,398.7L246.7,396.8L246.5,395.6L246.6,394.4L246.8,393.3L247.1,392.5Z"/>
<path fill="#ffdd00" fill-rule="evenodd" d="M242.7,391.8L243.1,392.0L243.4,392.6L243.6,393.4L243.7,394.7L243.1,397.5L242.7,398.4L242.4,398.8L242.1,398.5L241.9,397.4L241.9,394.3L242.0,393.1L242.1,392.4L242.4,392.0ZM247.5,392.5L247.9,392.6L248.1,393.1L248.4,394.7L248.4,398.2L248.2,399.3L248.0,399.7L247.9,399.7L247.6,399.4L247.2,398.5L246.8,396.7L246.6,395.6L246.7,394.6L246.9,393.4L247.1,392.8Z"/>
<path fill="#ffc500" fill-rule="evenodd" d="M242.7,392.0L243.1,392.2L243.4,392.7L243.6,394.7L243.4,395.9L243.0,397.4L242.6,398.2L242.4,398.3L242.1,397.9L242.0,397.2L242.0,394.2L242.2,392.6L242.4,392.2ZM247.5,392.7L247.7,392.8L247.9,392.9L248.1,393.4L248.3,395.3L248.3,398.3L248.1,399.0L248.0,399.2L247.9,399.2L247.6,399.0L247.2,398.0L246.7,395.6L246.8,394.6L246.9,393.6L247.2,392.9Z"/>
<path fill="#ffae00" fill-rule="evenodd" d="M242.7,392.2L243.0,392.3L243.3,392.8L243.5,394.7L243.0,397.0L242.7,397.6L242.5,397.9L242.4,397.9L242.2,397.7L242.1,397.2L242.0,394.4L242.2,392.7L242.5,392.3ZM247.6,393.0L247.9,393.2L248.1,393.7L248.3,395.4L248.2,397.9L248.1,398.4L247.9,398.7L247.6,398.5L247.4,398.0L246.8,395.6L247.0,393.7L247.3,393.2Z"/>
<path fill="#ff9600" fill-rule="evenodd" d="M242.7,392.4L243.0,392.5L243.2,392.9L243.4,394.7L243.0,396.5L242.7,397.2L242.5,397.4L242.3,397.2L242.2,396.7L242.1,394.4L242.3,392.8L242.5,392.5ZM247.6,393.3L247.9,393.5L248.0,393.9L248.2,395.4L248.1,397.4L248.0,398.1L247.9,398.2L247.6,398.1L247.4,397.5L246.9,395.6L247.1,393.9L247.4,393.4Z"/>
<path fill="#ff7e00" fill-rule="evenodd" d="M242.7,392.6L243.0,392.8L243.1,393.2L243.3,394.7L242.9,396.4L242.6,396.8L242.5,396.8L242.4,396.6L242.2,395.9L242.2,394.4L242.4,393.1L242.5,392.8ZM247.6,393.6L247.9,394.1L248.1,395.6L248.0,397.1L247.9,397.6L247.7,397.6L247.4,396.9L247.1,395.4L247.2,394.1L247.4,393.8Z"/>
<path fill="#ff6600" fill-rule="evenodd" d="M242.7,393.0L243.0,393.4L243.1,394.6L243.0,395.4L242.6,396.2L242.5,396.1L242.4,395.6L242.3,394.6L242.5,393.3L242.6,393.1ZM247.6,394.1L247.9,394.8L248.0,395.6L247.9,396.4L247.7,396.9L247.6,396.9L247.5,396.7L247.2,395.6L247.4,394.4L247.5,394.2Z"/>
<path fill="#ff4e00" fill-rule="evenodd" d="M242.7,393.7L242.9,393.9L243.0,394.6L242.9,395.1L242.7,395.4L242.6,395.4L242.5,395.1L242.5,394.4L242.6,393.8ZM247.6,395.0L247.8,395.6L247.7,395.9L247.6,396.1L247.5,395.9L247.4,395.4L247.5,395.0Z"/>
</g>
<g filter="url(#bl2)">
<path fill="#000030" fill-rule="evenodd" d="M332.0,388.2L332.4,388.2L332.7,388.4L333.1,388.9L333.7,390.2L334.0,390.5L334.4,390.6L335.4,390.6L335.9,390.4L336.1,390.1L336.9,388.6L337.1,388.3L337.5,388.2L337.9,388.2L338.2,388.5L338.6,389.1L338.9,389.7L339.3,391.8L339.6,393.6L339.7,398.3L339.6,403.6L339.8,409.3L339.6,409.9L339.4,410.2L339.1,410.3L338.5,410.4L337.2,410.0L334.9,410.3L332.6,410.0L331.5,410.3L331.0,410.4L330.5,410.2L330.2,409.8L330.1,409.1L330.2,403.6L330.1,398.8L330.2,393.9L330.4,392.1L331.0,389.7L331.4,388.7Z"/>
<path fill="#000068" fill-rule="evenodd" d="M332.0,388.6L332.4,388.5L332.7,388.8L333.0,389.2L333.7,390.4L333.9,390.7L334.2,390.8L335.4,390.8L335.9,390.7L336.2,390.3L336.9,389.0L337.1,388.7L337.5,388.5L337.9,388.6L338.2,388.9L338.8,389.9L339.2,391.7L339.5,393.3L339.6,396.9L339.7,399.6L339.5,403.7L339.7,409.3L339.5,409.9L339.1,410.2L338.4,410.3L337.2,409.9L335.9,410.1L334.9,410.2L333.9,410.1L332.6,409.9L331.5,410.3L331.0,410.3L330.5,410.1L330.2,409.7L330.2,408.9L330.3,403.6L330.2,398.7L330.3,394.1L330.5,392.2L331.0,390.1L331.4,389.1Z"/>
<path fill="#0000a0" fill-rule="evenodd" d="M332.0,388.9L332.4,388.9L332.7,389.1L333.0,389.5L333.6,390.7L333.9,390.9L334.2,391.0L335.5,391.0L336.0,390.8L336.3,390.4L337.0,389.2L337.5,388.9L337.9,388.9L338.2,389.2L338.5,389.7L338.7,390.3L339.2,392.2L339.4,393.8L339.6,398.2L339.4,403.7L339.6,409.3L339.4,409.9L339.0,410.2L338.2,410.1L337.2,409.6L336.0,410.0L334.9,410.1L333.7,409.9L332.6,409.6L331.6,410.1L331.1,410.2L330.6,410.1L330.3,409.7L330.3,408.9L330.4,403.6L330.2,398.8L330.3,394.2L330.6,392.4L331.1,390.3L331.5,389.4Z"/>
<path fill="#0000d8" fill-rule="evenodd" d="M332.0,389.2L332.4,389.2L332.6,389.4L333.5,390.8L333.8,391.1L334.1,391.2L335.5,391.2L336.0,391.1L336.4,390.7L337.0,389.6L337.5,389.2L337.9,389.3L338.1,389.5L338.6,390.4L339.1,392.1L339.3,393.4L339.5,396.8L339.5,399.7L339.3,403.7L339.5,409.2L339.4,409.8L339.0,410.1L338.5,410.1L338.1,409.9L337.1,409.1L336.3,409.7L335.4,409.9L334.6,409.9L333.8,409.8L333.3,409.6L332.7,409.1L332.5,409.2L331.9,409.8L331.4,410.1L330.8,410.1L330.6,409.9L330.4,409.7L330.4,408.9L330.5,403.6L330.3,398.9L330.4,394.3L330.6,392.6L331.1,390.7L331.5,389.8Z"/>
<path fill="#0014ff" fill-rule="evenodd" d="M332.1,389.5L332.4,389.5L332.6,389.7L333.5,391.0L334.0,391.4L335.5,391.4L336.0,391.3L336.4,390.9L337.1,389.8L337.4,389.6L337.6,389.5L337.9,389.6L338.1,389.8L338.6,390.9L339.0,392.3L339.3,393.7L339.4,396.7L339.4,399.7L339.2,403.7L339.4,409.2L339.3,409.7L339.0,410.0L338.5,410.0L337.9,409.7L337.7,409.3L337.4,408.3L337.1,407.9L336.9,408.1L336.3,409.3L336.0,409.6L335.7,409.7L334.6,409.8L333.8,409.6L333.4,409.2L333.0,408.1L332.7,407.9L332.5,408.1L332.1,409.3L331.7,409.8L331.4,410.0L331.0,410.0L330.6,409.8L330.5,409.6L330.5,408.8L330.6,403.6L330.4,398.8L330.5,394.3L330.8,392.4L331.2,390.7L331.6,389.9L331.9,389.6Z"/>
<path fill="#0055ff" fill-rule="evenodd" d="M332.1,389.8L332.4,389.9L332.6,390.0L333.4,391.2L333.7,391.4L334.0,391.6L335.5,391.6L336.0,391.5L336.4,391.2L337.2,390.0L337.6,389.8L337.9,389.9L338.1,390.2L338.6,391.3L339.0,392.6L339.2,394.1L339.4,398.2L339.2,403.7L339.3,409.2L339.1,409.7L338.9,409.9L338.4,409.8L338.1,409.6L337.4,407.2L337.1,406.9L337.0,406.8L336.6,407.4L335.9,409.1L335.5,409.4L334.7,409.5L334.1,409.3L333.8,408.9L333.1,407.2L332.9,406.9L332.7,406.8L332.4,407.4L331.9,409.2L331.7,409.6L331.5,409.8L331.1,409.9L330.8,409.8L330.6,409.6L330.6,408.8L330.7,403.6L330.4,398.9L330.5,394.4L330.8,392.7L331.2,391.1L331.6,390.3L331.9,390.0Z"/>
<path fill="#0097ff" fill-rule="evenodd" d="M332.1,390.2L332.4,390.2L332.6,390.4L333.5,391.6L333.9,391.8L335.6,391.8L336.1,391.7L336.5,391.4L337.2,390.3L337.5,390.2L337.7,390.2L338.1,390.6L338.6,391.6L339.0,392.8L339.2,394.2L339.3,398.1L339.3,400.7L339.0,403.7L339.1,409.1L339.1,409.4L338.9,409.7L338.4,409.7L338.1,409.3L337.5,406.6L337.2,406.0L337.0,405.8L336.6,406.3L335.6,408.4L335.2,408.9L334.9,409.0L334.5,408.8L334.2,408.5L333.1,406.1L332.9,405.8L332.7,405.8L332.4,406.5L331.6,409.4L331.4,409.7L331.1,409.7L330.9,409.6L330.8,409.4L330.7,408.6L330.8,403.7L330.5,398.9L330.6,394.6L330.8,393.1L331.2,391.7L331.6,390.6L331.9,390.3Z"/>
<path fill="#00d9ff" fill-rule="evenodd" d="M332.1,390.5L332.4,390.5L332.6,390.7L333.6,391.8L333.9,392.0L335.7,392.0L336.1,391.9L336.5,391.6L337.2,390.6L337.5,390.5L337.7,390.5L338.1,390.9L338.6,392.0L338.9,393.1L339.1,394.3L339.3,398.4L339.2,400.9L338.9,403.7L339.0,408.9L338.9,409.3L338.7,409.5L338.5,409.5L338.3,409.2L337.5,405.7L337.2,405.1L337.0,404.8L336.9,404.8L336.6,405.2L336.0,406.7L335.6,407.3L335.2,407.7L334.9,407.8L334.5,407.7L334.1,407.2L333.1,405.0L332.9,404.8L332.7,404.8L332.5,405.2L332.2,406.0L331.5,409.2L331.2,409.5L331.0,409.5L330.9,409.3L330.8,408.2L330.9,403.7L330.6,399.1L330.7,394.7L330.9,393.2L331.2,391.9L331.6,391.0L331.9,390.6Z"/>
<path fill="#0bfff4" fill-rule="evenodd" d="M332.1,390.8L332.5,390.9L333.4,391.9L333.7,392.1L335.6,392.2L336.2,392.0L337.2,390.9L337.6,390.8L337.9,390.9L338.1,391.2L338.6,392.2L338.9,393.3L339.1,394.4L339.2,398.6L339.1,401.2L338.8,403.7L338.7,408.6L338.6,408.9L338.4,408.3L337.4,404.3L337.1,403.8L336.9,403.7L336.6,404.0L336.0,405.6L335.6,406.3L335.2,406.7L334.9,406.9L334.5,406.7L334.1,406.2L333.1,403.8L333.0,403.7L332.7,403.8L332.5,404.2L332.2,405.0L331.4,408.5L331.2,408.8L331.1,408.6L331.0,407.1L331.0,403.7L330.6,399.3L330.7,394.8L330.9,393.4L331.2,392.2L331.7,391.1Z"/>
<path fill="#24ffdb" fill-rule="evenodd" d="M332.1,391.1L332.5,391.2L333.5,392.2L334.0,392.4L336.0,392.4L336.5,392.1L337.2,391.2L337.6,391.1L338.0,391.3L338.5,392.2L338.8,393.3L339.0,394.4L339.1,398.6L339.0,401.1L338.7,403.6L338.6,405.9L338.5,406.7L338.4,406.7L337.4,403.6L337.0,403.0L336.7,402.8L336.4,403.2L335.6,405.3L335.2,405.8L334.9,405.9L334.5,405.7L334.1,405.2L333.2,402.9L333.1,402.9L332.9,402.9L332.3,403.7L331.5,406.6L331.3,406.7L331.2,406.3L331.1,403.7L330.9,401.8L330.7,399.9L330.8,394.9L330.9,393.7L331.2,392.4L331.6,391.6L331.9,391.3Z"/>
<path fill="#3effc1" fill-rule="evenodd" d="M332.1,391.4L332.5,391.4L333.5,392.5L334.0,392.7L336.0,392.7L336.4,392.4L337.1,391.6L337.5,391.4L337.9,391.5L338.4,392.2L338.7,393.2L338.9,394.4L339.1,398.8L338.9,401.8L338.4,404.4L338.2,404.7L337.2,402.8L336.9,402.3L336.6,402.1L336.3,402.4L335.6,404.2L335.4,404.6L335.1,404.8L334.7,404.9L334.4,404.5L333.6,402.6L333.2,402.1L333.0,402.2L332.7,402.5L332.2,403.4L331.6,404.6L331.5,404.6L331.0,402.1L330.8,400.4L330.7,398.6L330.8,395.1L330.9,393.9L331.2,392.7L331.6,391.8Z"/>
<path fill="#57ffa8" fill-rule="evenodd" d="M332.0,391.7L332.2,391.6L332.5,391.7L333.6,392.8L334.1,393.0L336.0,393.0L337.1,391.8L337.5,391.6L337.9,391.7L338.2,392.2L338.6,393.1L338.9,394.4L339.0,398.6L338.8,401.8L338.5,402.9L338.2,403.4L338.1,403.4L337.9,403.2L336.9,401.7L336.5,401.5L336.1,401.8L335.4,403.3L335.0,403.7L334.7,403.6L334.5,403.4L333.7,401.9L333.4,401.5L333.0,401.7L331.9,403.3L331.6,403.4L331.5,403.3L331.1,402.2L330.9,400.3L330.8,398.6L330.9,395.3L331.0,394.1L331.2,393.0L331.6,392.1Z"/>
<path fill="#71ff8e" fill-rule="evenodd" d="M332.0,391.9L332.2,391.8L332.6,392.0L333.6,393.1L334.1,393.4L334.9,393.3L335.9,393.4L336.2,393.1L337.1,392.0L337.5,391.8L337.9,391.9L338.2,392.4L338.6,393.3L338.8,394.4L338.9,398.4L338.7,401.3L338.5,402.4L338.2,402.9L338.0,402.9L337.7,402.7L336.7,401.1L336.4,400.9L336.1,401.1L335.2,402.3L334.9,402.4L334.5,402.2L333.7,401.1L333.4,400.9L333.0,401.2L332.0,402.8L331.7,402.9L331.5,402.8L331.1,401.7L330.9,399.9L330.9,398.3L330.9,395.3L331.0,394.2L331.3,393.2L331.6,392.3Z"/>
<path fill="#8aff75" fill-rule="evenodd" d="M332.0,392.1L332.2,392.0L332.6,392.2L333.7,393.6L334.1,393.8L334.9,393.7L335.9,393.7L336.2,393.4L337.0,392.4L337.4,392.1L337.7,392.1L338.1,392.4L338.5,393.3L338.7,394.4L338.9,398.3L338.8,399.9L338.6,401.4L338.4,402.3L338.1,402.5L337.7,402.3L336.7,400.7L336.4,400.3L336.1,400.4L335.2,401.4L334.9,401.5L334.5,401.3L333.7,400.4L333.5,400.3L333.4,400.4L333.0,400.8L332.0,402.4L331.7,402.5L331.5,402.3L331.2,401.4L331.0,399.7L331.0,395.3L331.1,394.2L331.3,393.3L331.6,392.6Z"/>
<path fill="#a4ff5b" fill-rule="evenodd" d="M332.0,392.3L332.2,392.3L332.6,392.4L333.7,394.0L334.1,394.2L335.9,394.1L336.2,393.8L337.0,392.6L337.4,392.3L337.7,392.3L338.1,392.7L338.5,393.6L338.7,394.4L338.8,398.3L338.6,400.9L338.4,401.8L338.1,402.1L337.9,402.1L337.6,401.8L336.6,400.0L336.2,399.8L336.0,399.9L335.2,400.7L334.9,400.8L334.5,400.6L333.7,399.8L333.5,399.8L333.1,400.2L332.1,401.9L331.7,402.2L331.5,401.9L331.2,401.1L331.0,399.3L331.1,395.3L331.2,394.3L331.4,393.4L331.6,392.8Z"/>
<path fill="#bdff42" fill-rule="evenodd" d="M332.0,392.6L332.2,392.5L332.6,392.6L333.0,393.1L333.7,394.4L334.1,394.6L334.9,394.5L335.6,394.6L335.9,394.5L336.1,394.3L336.9,392.9L337.4,392.5L337.7,392.5L338.1,392.9L338.4,393.7L338.6,394.6L338.7,398.2L338.6,400.6L338.4,401.4L338.1,401.8L337.9,401.8L337.6,401.5L336.6,399.6L336.4,399.3L336.1,399.2L335.9,399.3L335.2,399.9L334.9,400.1L334.5,399.9L333.9,399.2L333.6,399.2L333.5,399.2L333.1,399.7L332.1,401.6L331.9,401.8L331.6,401.7L331.3,401.1L331.1,399.5L331.1,395.9L331.2,394.6L331.3,393.8L331.6,393.0Z"/>
<path fill="#d7ff28" fill-rule="evenodd" d="M332.0,392.8L332.4,392.7L332.7,392.9L333.7,394.8L334.1,395.0L334.9,394.9L335.6,395.0L335.9,395.0L336.1,394.7L336.7,393.5L337.1,392.9L337.4,392.7L337.6,392.7L338.0,392.9L338.3,393.6L338.5,394.3L338.7,396.8L338.6,399.7L338.4,400.9L338.1,401.4L337.9,401.4L337.6,401.2L336.5,399.0L336.1,398.6L335.9,398.6L335.2,399.2L334.9,399.3L334.5,399.2L333.9,398.6L333.6,398.6L333.2,399.1L332.2,401.1L331.9,401.4L331.6,401.3L331.4,400.6L331.2,399.3L331.2,395.9L331.4,394.0L331.6,393.3Z"/>
<path fill="#f0ff0f" fill-rule="evenodd" d="M332.0,393.0L332.4,392.9L332.7,393.2L333.1,393.8L333.7,395.3L334.1,395.5L334.9,395.3L335.6,395.5L335.9,395.5L336.1,395.2L336.7,393.8L337.1,393.1L337.4,392.9L337.6,392.9L338.0,393.2L338.3,393.7L338.5,394.4L338.6,396.7L338.5,399.4L338.4,400.4L338.1,401.0L337.9,401.1L337.5,400.6L336.4,398.2L336.0,397.8L335.7,397.9L335.2,398.5L334.9,398.6L334.5,398.4L334.0,397.8L333.7,397.8L333.4,398.3L332.2,400.8L331.9,401.1L331.6,400.9L331.4,400.1L331.2,399.2L331.2,395.9L331.4,394.1L331.7,393.4Z"/>
<path fill="#fff500" fill-rule="evenodd" d="M332.2,393.1L332.6,393.3L333.0,393.9L333.8,396.1L333.8,396.4L332.6,399.7L332.2,400.4L331.9,400.7L331.6,400.3L331.3,399.3L331.3,395.9L331.4,394.7L331.5,393.9L331.9,393.3ZM337.5,393.1L337.9,393.2L338.2,393.9L338.4,394.7L338.5,395.9L338.5,399.3L338.2,400.4L338.1,400.6L337.9,400.7L337.5,400.3L337.2,399.7L335.9,396.4L336.8,393.9L337.1,393.4ZM334.9,395.9L335.3,396.1L335.5,396.4L335.2,397.2L335.1,397.4L334.9,397.5L334.5,397.2L334.3,396.4L334.5,396.1Z"/>
<path fill="#ffdd00" fill-rule="evenodd" d="M332.2,393.3L332.6,393.5L333.0,394.2L333.4,395.7L333.5,396.3L333.3,397.3L332.7,399.2L332.2,400.1L332.0,400.3L331.9,400.4L331.6,400.0L331.4,399.1L331.4,395.9L331.5,394.7L331.6,394.1L331.9,393.5ZM337.5,393.3L337.9,393.5L338.2,394.1L338.4,394.8L338.4,395.9L338.4,399.2L338.2,400.1L338.0,400.3L337.9,400.4L337.5,400.0L337.1,399.2L336.3,396.4L336.4,395.7L336.8,394.2L337.1,393.6Z"/>
<path fill="#ffc500" fill-rule="evenodd" d="M332.2,393.5L332.6,393.7L332.9,394.3L333.2,395.4L333.3,396.3L333.2,397.2L332.7,398.9L332.4,399.6L332.0,400.0L331.7,399.9L331.5,399.0L331.4,396.3L331.6,394.3L331.9,393.8ZM337.5,393.5L337.9,393.7L338.1,394.1L338.3,394.7L338.4,395.9L338.3,398.9L338.1,399.8L337.9,400.0L337.5,399.7L337.1,398.9L336.5,396.4L336.5,395.7L336.8,394.4L337.1,393.8Z"/>
<path fill="#ffae00" fill-rule="evenodd" d="M332.2,393.7L332.6,393.9L332.8,394.4L333.1,395.6L333.2,396.3L333.0,397.2L332.6,398.7L332.2,399.5L332.0,399.6L331.7,399.4L331.6,398.8L331.5,396.2L331.7,394.3L332.0,393.9ZM337.5,393.7L337.9,393.9L338.1,394.3L338.3,395.9L338.2,398.8L338.1,399.3L337.9,399.6L337.6,399.5L337.2,398.8L336.6,396.4L336.7,395.7L336.9,394.6L337.1,394.1Z"/>
<path fill="#ff9600" fill-rule="evenodd" d="M332.2,394.0L332.5,394.1L332.7,394.6L333.0,396.3L332.9,397.2L332.5,398.6L332.2,399.1L332.0,399.3L331.7,398.9L331.6,398.4L331.6,396.2L331.8,394.6L332.0,394.1ZM337.5,394.0L337.7,394.0L338.0,394.4L338.2,395.9L338.2,398.4L338.1,398.9L337.9,399.2L337.6,399.2L337.4,398.7L337.0,397.5L336.8,396.4L336.8,395.7L337.0,394.7L337.2,394.2Z"/>
<path fill="#ff7e00" fill-rule="evenodd" d="M332.2,394.2L332.5,394.4L332.7,394.8L332.9,395.7L332.9,396.4L332.5,398.1L332.2,398.7L332.0,398.8L331.9,398.7L331.7,398.1L331.7,396.2L331.9,394.7L332.0,394.4ZM337.6,394.2L337.9,394.5L338.0,394.9L338.1,396.4L338.0,398.3L337.9,398.8L337.7,398.8L337.5,398.6L337.2,397.9L336.9,396.3L337.1,394.8L337.4,394.3Z"/>
<path fill="#ff6600" fill-rule="evenodd" d="M332.2,394.6L332.5,394.8L332.6,395.2L332.8,396.3L332.5,397.6L332.1,398.3L332.0,398.2L331.9,397.8L331.8,396.3L332.0,394.9L332.1,394.6ZM337.6,394.6L337.9,395.0L338.0,396.3L338.0,397.5L337.9,398.1L337.7,398.3L337.6,398.2L337.4,397.7L337.0,396.3L337.2,395.0L337.4,394.7Z"/>
<path fill="#ff4e00" fill-rule="evenodd" d="M332.2,395.1L332.5,395.4L332.6,396.3L332.4,397.3L332.1,397.6L332.0,397.2L331.9,396.3L332.0,395.5ZM337.6,395.1L337.8,395.7L337.9,396.4L337.9,397.2L337.7,397.5L337.6,397.6L337.4,397.2L337.2,396.3L337.4,395.3L337.5,395.1Z"/>
<path fill="#ff3700" fill-rule="evenodd" d="M332.2,395.9L332.4,396.1L332.4,396.3L332.2,396.8L332.1,396.4ZM337.6,395.9L337.7,396.4L337.6,396.8L337.5,396.7L337.4,396.3L337.5,395.9Z"/>
</g>
<g filter="url(#bl2)">
<path fill="#000030" fill-rule="evenodd" d="M427.6,388.2L428.2,388.7L428.7,389.7L429.2,392.1L429.5,393.7L429.6,398.2L429.5,402.7L429.7,408.9L429.6,409.8L429.4,410.2L428.7,410.4L427.1,410.0L424.9,410.3L422.5,410.1L421.4,410.4L420.7,410.3L420.3,410.1L420.1,409.4L420.2,404.9L420.1,400.7L420.3,395.9L420.5,394.2L420.9,392.4L421.5,391.2L421.7,390.9L422.1,390.7L422.6,390.7L423.5,391.4L423.9,391.6L424.7,391.6L425.4,391.4L425.7,391.0L426.2,389.4L426.6,388.7L427.1,388.2Z"/>
<path fill="#000068" fill-rule="evenodd" d="M427.6,388.6L428.1,389.0L428.6,389.9L429.2,392.3L429.4,393.9L429.5,398.2L429.4,402.7L429.6,408.9L429.6,409.7L429.2,410.2L428.7,410.3L428.2,410.2L427.1,409.9L425.9,410.1L424.9,410.2L423.9,410.1L422.6,409.9L421.4,410.3L420.7,410.2L420.3,409.9L420.2,409.3L420.3,404.9L420.2,400.6L420.3,396.1L420.6,394.6L421.0,392.7L421.5,391.6L421.7,391.3L422.1,391.0L422.6,391.1L423.4,391.6L423.9,391.8L424.9,391.8L425.5,391.6L425.9,391.1L426.3,389.7L426.6,389.1L427.1,388.6Z"/>
<path fill="#0000a0" fill-rule="evenodd" d="M427.6,388.9L428.1,389.4L428.5,390.2L429.1,392.3L429.3,393.9L429.5,398.3L429.3,402.7L429.5,408.9L429.5,409.7L429.2,410.1L428.7,410.2L428.1,410.1L427.1,409.6L426.0,410.0L424.9,410.1L423.7,410.0L422.6,409.6L421.5,410.1L421.1,410.2L420.7,410.1L420.4,409.8L420.3,409.3L420.4,404.9L420.3,400.4L420.4,396.1L420.6,394.7L421.1,392.9L421.6,391.8L421.9,391.5L422.2,391.3L422.6,391.4L423.4,391.8L423.9,392.0L425.0,391.9L425.5,391.8L425.9,391.3L426.4,389.9L426.7,389.3L427.1,388.9Z"/>
<path fill="#0000d8" fill-rule="evenodd" d="M427.6,389.2L428.1,389.7L428.4,390.4L429.0,392.6L429.2,394.1L429.4,398.3L429.2,402.7L429.4,408.9L429.4,409.7L429.2,409.9L429.0,410.1L428.4,410.1L427.8,409.8L427.1,409.1L427.0,409.1L426.5,409.6L426.0,409.8L425.2,409.9L424.5,409.9L423.5,409.7L422.6,409.2L421.7,409.9L421.2,410.1L420.9,410.1L420.5,409.8L420.4,409.3L420.5,404.9L420.3,400.6L420.5,396.1L420.7,394.8L421.2,393.2L421.6,392.2L421.9,391.9L422.2,391.7L422.6,391.7L423.7,392.2L425.0,392.1L425.5,392.0L426.0,391.5L426.5,390.1L426.9,389.5L427.2,389.2Z"/>
<path fill="#0014ff" fill-rule="evenodd" d="M427.5,389.5L427.7,389.6L428.0,389.9L428.3,390.7L428.9,392.6L429.2,394.1L429.3,398.7L429.1,402.8L429.3,408.8L429.3,409.6L429.1,409.8L428.9,410.0L428.5,410.0L428.0,409.8L427.7,409.3L427.2,408.2L427.0,408.0L426.7,408.2L426.3,409.2L425.9,409.6L425.1,409.8L424.1,409.7L423.8,409.6L423.5,409.3L423.0,408.3L422.7,408.1L422.5,408.4L422.1,409.3L421.8,409.7L421.4,410.0L420.9,410.0L420.5,409.7L420.5,409.2L420.6,405.1L420.4,400.4L420.6,396.1L420.8,394.8L421.2,393.4L421.7,392.3L422.2,391.9L422.6,392.0L423.7,392.4L425.1,392.3L425.6,392.1L426.1,391.6L426.9,389.9L427.1,389.6Z"/>
<path fill="#0055ff" fill-rule="evenodd" d="M427.5,389.8L427.9,390.1L428.3,390.9L428.8,392.6L429.1,394.1L429.2,398.4L429.0,402.8L429.2,408.8L429.1,409.6L429.0,409.8L428.6,409.9L428.3,409.8L428.0,409.6L427.4,407.5L427.1,407.0L427.0,407.0L426.6,407.3L425.8,409.2L425.4,409.4L425.0,409.5L424.4,409.5L424.0,409.3L423.8,408.9L423.1,407.5L422.9,407.2L422.7,407.2L422.4,407.8L421.7,409.6L421.4,409.9L421.0,409.9L420.7,409.7L420.6,409.2L420.7,405.1L420.5,400.8L420.6,396.3L421.1,394.3L421.5,393.1L422.0,392.4L422.5,392.2L423.7,392.6L425.5,392.4L425.8,392.2L426.1,391.8L426.9,390.2L427.2,389.9Z"/>
<path fill="#0097ff" fill-rule="evenodd" d="M427.5,390.2L427.9,390.5L428.4,391.5L428.8,392.8L429.0,394.2L429.2,398.4L428.9,402.8L429.1,408.7L429.0,409.4L428.9,409.7L428.6,409.8L428.4,409.7L428.1,409.4L427.5,406.9L427.2,406.3L427.0,406.0L426.9,406.0L426.6,406.4L425.5,408.6L425.2,408.8L424.9,409.0L424.5,408.9L424.2,408.6L423.1,406.5L422.9,406.3L422.7,406.4L422.4,407.0L421.6,409.4L421.4,409.7L421.0,409.7L420.7,409.5L420.7,409.1L420.8,405.1L420.5,400.8L420.7,396.4L421.1,394.6L421.6,393.2L422.1,392.6L422.5,392.5L423.7,392.8L425.5,392.6L425.9,392.3L426.1,392.0L427.0,390.4L427.2,390.2Z"/>
<path fill="#00d9ff" fill-rule="evenodd" d="M427.5,390.5L427.9,390.8L428.4,391.9L428.8,393.2L429.0,394.3L429.1,398.6L428.8,402.8L428.9,407.9L428.9,409.3L428.6,409.5L428.4,409.4L428.2,409.2L427.4,405.6L427.1,405.0L426.9,404.9L426.6,405.2L425.7,407.2L425.4,407.6L425.0,407.9L424.6,407.8L424.2,407.5L423.8,406.9L423.1,405.5L423.0,405.4L422.7,405.5L422.2,406.6L421.5,409.2L421.4,409.4L421.1,409.5L420.9,409.3L420.8,408.9L420.9,405.1L420.6,400.9L420.7,396.4L421.1,394.7L421.6,393.5L422.1,392.9L422.5,392.8L423.6,393.0L425.5,392.8L425.9,392.5L426.1,392.2L427.0,390.7L427.2,390.5Z"/>
<path fill="#0bfff4" fill-rule="evenodd" d="M427.5,390.8L427.9,391.1L428.4,392.2L428.8,393.3L428.9,394.4L429.0,398.7L428.9,400.7L428.7,402.8L428.7,407.1L428.6,408.7L428.5,408.7L428.4,408.4L427.4,404.6L427.1,404.0L426.9,403.7L426.7,403.8L426.5,404.2L425.7,406.2L425.4,406.7L425.0,407.0L424.6,406.9L424.2,406.6L423.9,406.1L423.3,404.7L423.1,404.5L422.9,404.6L422.6,404.9L422.4,405.4L421.4,408.8L421.2,409.0L421.1,409.0L421.0,408.1L421.0,405.1L420.7,402.8L420.7,400.7L420.8,396.6L421.2,394.8L421.7,393.6L422.1,393.2L422.5,393.0L423.6,393.2L425.6,392.9L426.1,392.4L427.0,391.0L427.2,390.8Z"/>
<path fill="#24ffdb" fill-rule="evenodd" d="M427.5,391.1L427.9,391.4L428.4,392.3L428.7,393.4L428.9,394.6L429.0,399.1L428.8,400.9L428.5,402.8L428.5,405.6L428.4,406.5L428.2,406.4L427.2,403.2L427.0,402.9L426.7,402.8L426.4,403.3L425.5,405.6L425.2,405.9L425.0,406.1L424.6,406.0L424.3,405.7L423.4,403.9L423.2,403.8L423.0,403.9L422.3,404.9L421.6,406.9L421.4,407.4L421.2,406.9L421.1,405.1L420.8,402.8L420.7,400.9L420.9,396.6L421.2,394.9L421.7,393.9L422.2,393.4L422.6,393.3L423.6,393.4L425.6,393.1L426.1,392.6L427.0,391.3L427.2,391.1Z"/>
<path fill="#3effc1" fill-rule="evenodd" d="M427.6,391.4L428.1,392.0L428.5,393.1L428.7,394.1L428.9,398.3L428.8,399.9L428.7,401.3L428.1,404.2L428.0,404.1L427.2,402.6L426.9,402.2L426.6,402.2L426.2,402.7L425.5,404.3L425.1,404.8L424.7,404.9L424.5,404.7L423.7,403.4L423.6,403.2L423.4,403.1L423.0,403.4L421.6,405.7L421.5,405.7L421.0,403.6L420.8,400.9L420.9,396.6L421.1,395.7L421.4,394.8L421.9,394.0L422.4,393.6L423.6,393.7L425.6,393.3L426.0,393.0L427.0,391.6L427.4,391.4Z"/>
<path fill="#57ffa8" fill-rule="evenodd" d="M427.6,391.6L428.0,392.0L428.4,392.8L428.6,393.7L428.7,394.6L428.8,399.2L428.6,401.1L428.2,402.3L428.0,402.7L427.9,402.7L426.9,401.8L426.5,401.7L426.2,402.1L425.2,403.5L424.9,403.7L424.5,403.5L423.7,402.6L423.4,402.6L423.0,403.0L422.1,404.4L421.9,404.7L421.6,404.8L421.4,404.5L421.1,403.7L420.9,400.9L421.0,396.6L421.2,395.7L421.5,394.8L421.9,394.2L422.4,393.8L423.6,394.0L425.6,393.5L426.0,393.2L427.0,391.8L427.4,391.6Z"/>
<path fill="#71ff8e" fill-rule="evenodd" d="M427.6,391.9L428.0,392.2L428.3,392.8L428.5,393.7L428.7,394.6L428.7,398.9L428.6,400.7L428.2,401.8L428.0,402.2L427.7,402.2L426.9,401.4L426.5,401.2L426.2,401.4L425.4,402.5L424.9,402.7L424.5,402.6L423.8,402.1L423.5,402.1L423.1,402.4L422.1,404.1L421.9,404.3L421.6,404.3L421.4,404.0L421.1,403.2L420.9,400.8L421.1,396.6L421.2,395.8L421.5,395.0L421.9,394.4L422.4,394.1L422.7,394.1L423.7,394.3L425.5,393.9L426.0,393.4L427.0,392.0L427.4,391.8Z"/>
<path fill="#8aff75" fill-rule="evenodd" d="M427.6,392.1L428.0,392.4L428.2,392.9L428.5,393.7L428.6,394.6L428.7,398.8L428.5,400.4L428.2,401.4L428.0,401.8L427.7,401.8L427.5,401.7L426.7,400.9L426.5,400.7L426.1,400.9L425.5,401.7L425.0,402.1L424.6,402.0L423.9,401.5L423.6,401.5L423.1,402.0L422.1,403.7L421.9,404.0L421.6,404.0L421.4,403.6L421.2,402.9L421.0,400.7L421.1,396.6L421.3,395.8L421.6,395.1L422.0,394.5L422.4,394.3L422.7,394.3L423.7,394.7L425.5,394.3L425.9,393.9L427.0,392.2L427.4,392.0Z"/>
<path fill="#a4ff5b" fill-rule="evenodd" d="M427.6,392.2L428.0,392.6L428.2,393.2L428.4,393.8L428.5,394.7L428.6,398.8L428.4,400.3L428.2,401.2L427.9,401.5L427.6,401.4L426.7,400.5L426.4,400.2L426.1,400.3L425.4,401.2L425.0,401.4L424.6,401.4L424.0,401.0L423.7,401.0L423.2,401.5L422.1,403.4L421.9,403.6L421.6,403.6L421.4,403.2L421.2,402.7L421.0,400.6L421.2,396.6L421.3,395.8L421.6,395.2L422.0,394.7L422.4,394.5L422.7,394.5L423.5,394.9L423.9,395.0L425.5,394.7L425.7,394.4L426.9,392.5L427.2,392.2Z"/>
<path fill="#bdff42" fill-rule="evenodd" d="M427.6,392.4L428.0,392.8L428.2,393.4L428.5,394.9L428.6,398.7L428.4,400.1L428.1,400.9L427.9,401.1L427.6,401.1L426.6,400.0L426.2,399.8L426.0,399.9L425.4,400.6L425.0,400.8L424.6,400.8L424.0,400.5L423.7,400.5L423.4,400.9L422.2,403.0L422.0,403.3L421.7,403.3L421.5,403.1L421.4,402.7L421.1,400.7L421.3,396.7L421.4,396.0L421.6,395.4L422.0,394.8L422.4,394.6L422.7,394.7L423.9,395.4L425.5,395.1L425.9,394.7L426.3,393.6L426.9,392.7L427.2,392.4Z"/>
<path fill="#d7ff28" fill-rule="evenodd" d="M427.6,392.6L427.9,392.9L428.2,393.4L428.4,394.8L428.5,398.6L428.4,399.6L428.1,400.5L427.9,400.8L427.6,400.8L427.2,400.4L426.5,399.4L426.2,399.3L426.0,399.3L425.4,399.9L425.0,400.2L424.7,400.2L424.1,399.9L423.9,399.9L423.5,400.3L422.2,402.7L422.0,403.0L421.7,403.0L421.5,402.7L421.4,402.2L421.2,400.4L421.3,396.7L421.5,395.9L421.7,395.3L422.1,394.9L422.5,394.8L422.9,395.0L423.9,395.7L425.5,395.6L425.9,395.2L426.3,393.8L426.7,393.0L427.2,392.6Z"/>
<path fill="#f0ff0f" fill-rule="evenodd" d="M427.6,392.8L428.0,393.3L428.2,393.8L428.4,395.6L428.4,398.7L428.2,399.7L428.0,400.4L427.7,400.5L427.5,400.4L426.4,398.8L426.1,398.6L425.9,398.7L425.3,399.3L425.0,399.5L424.7,399.5L424.0,399.3L423.7,399.5L423.5,399.8L422.4,402.2L422.0,402.7L421.7,402.7L421.5,402.3L421.4,401.8L421.3,400.3L421.4,396.8L421.5,396.1L421.7,395.5L422.1,395.1L422.5,395.0L422.9,395.2L423.6,395.9L424.0,396.1L425.6,396.0L426.0,395.4L426.4,393.9L426.7,393.2L427.2,392.8Z"/>
<path fill="#fff500" fill-rule="evenodd" d="M427.6,393.0L427.9,393.2L428.1,393.8L428.3,395.6L428.3,398.4L428.2,399.3L428.0,400.0L427.7,400.2L427.4,400.0L426.2,398.1L425.9,397.8L425.0,398.7L424.7,398.8L424.1,398.6L423.9,398.8L423.5,399.4L422.4,402.0L422.0,402.4L421.7,402.3L421.5,401.9L421.4,401.3L421.3,399.6L421.5,396.7L421.6,396.1L421.8,395.6L422.1,395.3L422.5,395.2L422.9,395.4L423.7,396.4L424.0,396.5L424.9,396.4L425.5,396.5L425.7,396.5L426.0,396.0L426.4,394.2L426.7,393.6L427.1,393.0L427.4,392.9Z"/>
<path fill="#ffdd00" fill-rule="evenodd" d="M427.4,393.1L427.7,393.3L428.0,393.7L428.1,394.3L428.2,395.6L428.2,398.6L428.0,399.6L427.7,399.9L427.4,399.7L426.9,399.1L426.3,397.6L426.1,396.9L426.2,396.1L426.6,394.1L427.0,393.3ZM422.5,395.4L422.9,395.6L423.3,396.1L423.8,397.1L423.9,397.6L423.7,398.4L422.7,401.1L422.2,401.9L421.9,402.1L421.6,401.7L421.4,400.7L421.5,396.9L421.6,396.3L421.9,395.7L422.1,395.4ZM424.7,397.3L424.9,397.2L424.9,397.3L424.9,397.4Z"/>
<path fill="#ffc500" fill-rule="evenodd" d="M427.4,393.3L427.7,393.5L428.0,394.0L428.2,395.9L428.1,398.7L427.9,399.4L427.6,399.6L427.2,399.2L426.9,398.6L426.4,397.3L426.3,396.6L426.4,395.6L426.7,394.1L427.0,393.5ZM422.4,395.5L422.8,395.7L423.2,396.3L423.5,397.1L423.5,397.8L423.4,398.7L422.7,400.7L422.4,401.4L422.0,401.7L421.7,401.6L421.5,400.8L421.5,397.8L421.7,396.2L422.0,395.7Z"/>
<path fill="#ffae00" fill-rule="evenodd" d="M427.4,393.5L427.6,393.6L427.9,394.1L428.1,395.9L428.1,398.4L427.9,399.1L427.6,399.2L427.3,399.1L427.0,398.4L426.6,397.2L426.5,396.4L426.5,395.6L426.8,394.2L427.0,393.7ZM422.4,395.7L422.7,395.9L423.1,396.4L423.3,397.2L423.3,398.1L423.2,398.8L422.6,400.6L422.2,401.3L422.0,401.4L421.7,401.2L421.6,400.6L421.6,397.7L421.8,396.2L422.1,395.8Z"/>
<path fill="#ff9600" fill-rule="evenodd" d="M427.4,393.7L427.6,393.8L427.9,394.3L428.0,395.9L428.0,398.2L427.9,398.6L427.6,398.9L427.4,398.8L427.0,398.2L426.7,397.2L426.6,396.3L426.6,395.6L426.9,394.3L427.1,393.8ZM422.4,395.9L422.7,396.1L423.0,396.6L423.2,397.2L423.2,398.1L423.0,398.9L422.5,400.5L422.2,401.0L422.0,401.1L421.8,400.8L421.7,400.3L421.7,397.7L421.9,396.4L422.1,396.0Z"/>
<path fill="#ff7e00" fill-rule="evenodd" d="M427.4,393.9L427.6,394.1L427.7,394.3L427.9,395.9L427.9,397.9L427.7,398.4L427.6,398.5L427.4,398.4L427.1,397.9L426.8,396.9L426.7,396.2L427.0,394.4L427.1,394.1ZM422.4,396.1L422.6,396.2L422.9,396.7L423.1,398.1L423.0,398.7L422.4,400.4L422.1,400.7L421.9,400.6L421.8,400.2L421.7,398.2L422.0,396.6L422.1,396.3Z"/>
<path fill="#ff6600" fill-rule="evenodd" d="M427.4,394.2L427.5,394.3L427.7,394.7L427.9,396.1L427.7,397.6L427.6,397.9L427.5,398.0L427.1,397.4L426.8,396.1L427.1,394.7L427.2,394.3ZM422.4,396.4L422.6,396.5L422.8,396.8L422.9,398.2L422.5,399.7L422.2,400.1L422.1,400.1L422.0,399.9L421.9,399.3L421.9,397.9L422.0,396.8L422.1,396.6Z"/>
<path fill="#ff4e00" fill-rule="evenodd" d="M427.4,394.7L427.5,394.8L427.6,395.2L427.7,395.9L427.7,396.8L427.5,397.3L427.2,397.1L427.0,396.1L427.1,395.2ZM422.4,396.8L422.6,397.1L422.8,398.2L422.6,398.8L422.2,399.5L422.1,399.4L422.0,399.1L422.0,398.2L422.1,397.2Z"/>
<path fill="#ff3700" fill-rule="evenodd" d="M427.4,395.6L427.5,396.1L427.5,396.3L427.4,396.4L427.2,395.9ZM422.4,397.6L422.5,397.7L422.5,398.1L422.5,398.5L422.4,398.7L422.2,398.7L422.2,398.3L422.2,397.8Z"/>
</g>
<g filter="url(#bl2)">
<path fill="#000030" fill-rule="evenodd" d="M512.5,388.2L512.9,388.2L513.3,388.4L513.6,388.9L514.2,390.2L514.5,390.5L514.9,390.7L515.5,390.7L515.9,390.5L516.1,390.1L516.9,388.6L517.1,388.3L517.5,388.2L517.9,388.2L518.2,388.5L518.6,389.1L518.9,389.8L519.4,392.1L519.6,393.3L519.8,400.9L519.9,409.3L519.7,410.0L519.5,410.2L519.2,410.3L518.6,410.4L517.5,410.1L515.1,410.3L512.9,410.1L511.2,410.4L510.6,410.2L510.3,409.8L510.2,409.1L510.4,401.4L510.6,393.7L510.8,392.3L511.4,389.7L511.9,388.7Z"/>
<path fill="#000068" fill-rule="evenodd" d="M512.5,388.6L512.9,388.5L513.2,388.8L513.6,389.3L514.2,390.4L514.4,390.7L514.7,390.9L515.4,390.9L515.9,390.7L516.2,390.3L516.9,389.0L517.1,388.7L517.5,388.5L517.9,388.6L518.2,388.9L518.8,390.1L519.3,392.2L519.5,393.4L519.7,400.3L519.8,409.3L519.6,409.9L519.2,410.2L518.6,410.3L517.5,409.9L515.1,410.2L512.9,409.9L511.7,410.3L511.2,410.3L510.7,410.2L510.5,409.9L510.4,409.7L510.3,409.1L510.4,401.1L510.7,393.7L510.9,392.3L511.5,389.9L512.0,389.0Z"/>
<path fill="#0000a0" fill-rule="evenodd" d="M512.5,388.9L512.9,388.9L513.2,389.1L514.1,390.7L514.4,390.9L514.7,391.1L515.5,391.1L516.0,390.9L516.3,390.4L517.0,389.2L517.5,388.9L517.9,388.9L518.2,389.2L518.5,389.7L518.7,390.3L519.2,392.2L519.4,393.4L519.6,400.7L519.7,409.3L519.5,409.9L519.1,410.2L518.5,410.2L517.5,409.7L516.1,410.0L515.1,410.1L514.1,410.0L512.9,409.7L511.9,410.1L511.2,410.2L510.8,410.1L510.5,409.7L510.4,409.1L510.5,401.1L510.8,393.8L511.0,392.3L511.6,390.2L512.0,389.4Z"/>
<path fill="#0000d8" fill-rule="evenodd" d="M512.5,389.2L512.9,389.2L513.1,389.4L514.0,390.8L514.2,391.1L514.6,391.2L515.5,391.3L516.0,391.1L516.4,390.7L517.0,389.6L517.5,389.2L517.9,389.3L518.1,389.5L518.4,389.9L518.7,390.7L519.1,392.3L519.3,393.4L519.5,400.3L519.6,409.2L519.5,409.8L519.1,410.1L518.5,410.0L517.4,409.4L516.5,409.8L515.4,410.0L514.1,409.9L513.0,409.4L512.7,409.5L512.0,410.0L511.5,410.1L511.0,410.1L510.6,409.7L510.5,409.1L510.6,401.3L510.8,393.8L511.1,392.4L511.7,390.4L512.0,389.7Z"/>
<path fill="#0014ff" fill-rule="evenodd" d="M512.6,389.5L512.9,389.5L513.1,389.7L513.9,390.9L514.2,391.3L514.6,391.4L515.1,391.5L515.7,391.4L516.1,391.3L516.4,390.9L517.1,389.8L517.4,389.6L517.7,389.5L518.2,390.0L518.7,391.3L519.1,392.6L519.3,393.6L519.5,400.3L519.5,409.1L519.4,409.7L519.1,410.0L518.7,410.0L518.3,409.8L517.4,408.7L517.1,408.8L516.8,409.3L516.5,409.6L515.7,409.8L514.9,409.8L514.1,409.7L513.6,409.4L513.2,408.8L513.0,408.7L512.7,408.9L512.2,409.7L511.7,410.0L511.4,410.0L511.0,410.0L510.7,409.6L510.7,401.1L510.9,393.8L511.2,392.4L511.8,390.6L512.2,389.8Z"/>
<path fill="#0055ff" fill-rule="evenodd" d="M512.6,389.8L512.9,389.9L513.1,390.0L514.1,391.4L514.5,391.6L515.1,391.7L515.7,391.6L516.1,391.5L516.5,391.1L517.2,390.0L517.5,389.9L517.7,389.9L518.0,390.0L518.2,390.4L518.9,392.0L519.2,393.8L519.4,402.2L519.4,409.2L519.3,409.7L519.0,409.9L518.6,409.9L518.2,409.6L517.6,408.1L517.4,407.8L517.2,407.8L516.9,408.1L516.4,409.2L515.9,409.6L515.0,409.7L514.2,409.4L513.8,409.1L513.4,408.1L513.1,407.8L512.9,407.9L512.7,408.1L512.3,409.3L511.9,409.8L511.2,409.9L511.0,409.8L510.8,409.6L510.7,408.9L510.8,401.2L511.0,393.9L511.3,392.4L511.9,390.8L512.2,390.1Z"/>
<path fill="#0097ff" fill-rule="evenodd" d="M512.6,390.2L512.9,390.2L513.1,390.4L514.1,391.6L514.5,391.8L515.1,391.9L515.7,391.8L516.1,391.7L516.5,391.4L517.2,390.3L517.5,390.2L517.7,390.2L518.0,390.4L518.2,390.7L518.8,392.1L519.0,392.9L519.1,393.8L519.3,401.1L519.3,408.9L519.2,409.5L519.0,409.8L518.6,409.7L518.3,409.4L517.6,407.4L517.2,407.1L516.9,407.4L516.0,409.0L515.5,409.3L515.0,409.4L514.5,409.2L514.2,408.8L513.5,407.4L513.1,407.1L512.7,407.4L512.1,409.2L511.9,409.6L511.6,409.8L511.3,409.8L511.0,409.7L510.9,409.4L510.8,401.2L511.1,393.9L511.3,392.7L511.7,391.4L512.2,390.4Z"/>
<path fill="#00d9ff" fill-rule="evenodd" d="M512.6,390.5L512.9,390.5L513.1,390.7L514.1,391.9L514.5,392.0L515.1,392.1L515.7,392.1L516.1,391.9L516.5,391.6L517.2,390.6L517.5,390.5L517.7,390.5L518.0,390.7L518.2,391.1L518.7,392.2L519.1,393.8L519.3,400.8L519.2,408.4L519.1,409.3L518.9,409.6L518.7,409.6L518.5,409.3L517.7,407.1L517.5,406.6L517.2,406.4L516.9,406.6L515.7,408.3L515.4,408.6L515.1,408.6L514.9,408.6L514.5,408.2L513.4,406.6L513.1,406.4L513.0,406.5L512.6,407.1L511.8,409.4L511.4,409.6L511.2,409.6L511.0,409.3L510.9,401.3L511.1,394.1L511.3,393.1L511.7,391.9L512.2,390.8Z"/>
<path fill="#0bfff4" fill-rule="evenodd" d="M512.6,390.8L513.0,390.9L514.2,392.2L514.6,392.3L515.7,392.3L516.1,392.1L517.2,390.9L517.5,390.8L517.7,390.8L518.2,391.4L518.7,392.4L519.0,393.9L519.2,400.9L519.1,407.9L519.0,408.9L518.9,409.2L518.6,409.1L517.6,406.2L517.4,405.7L517.1,405.6L516.9,405.8L516.0,407.3L515.5,407.7L515.1,407.8L514.7,407.6L514.4,407.3L513.4,405.8L513.1,405.7L512.9,406.0L512.6,406.5L511.7,409.1L511.5,409.4L511.4,409.4L511.2,409.2L511.1,408.2L511.0,401.8L511.2,394.2L511.4,393.1L511.7,392.1L512.2,391.1Z"/>
<path fill="#24ffdb" fill-rule="evenodd" d="M512.6,391.1L512.9,391.1L513.1,391.2L514.4,392.5L514.7,392.6L515.2,392.6L516.0,392.5L517.2,391.2L517.6,391.1L517.9,391.2L518.1,391.4L518.6,392.4L518.9,393.9L519.1,400.8L519.0,407.2L518.9,408.1L518.7,408.3L518.5,407.9L517.5,405.2L517.2,404.8L517.0,404.7L516.7,405.0L516.4,405.9L516.0,406.6L515.6,407.0L515.2,407.1L514.9,407.0L514.4,406.7L514.1,406.2L513.6,405.1L513.4,404.9L513.2,404.9L512.7,405.6L511.7,408.3L511.5,408.6L511.4,408.4L511.2,407.4L511.0,401.9L511.3,394.2L511.4,393.2L511.7,392.2L512.2,391.4Z"/>
<path fill="#3effc1" fill-rule="evenodd" d="M512.6,391.3L512.9,391.3L513.1,391.5L514.2,392.7L514.9,393.0L515.5,393.0L515.9,392.9L517.1,391.6L517.5,391.3L517.7,391.4L518.0,391.5L518.6,392.6L518.9,393.9L519.1,400.8L518.9,406.3L518.7,407.1L518.6,407.2L518.4,406.8L517.4,404.3L517.1,404.0L516.9,403.8L516.6,404.2L515.9,405.9L515.6,406.3L515.2,406.4L514.9,406.4L514.5,406.1L513.7,404.3L513.6,404.2L513.4,404.1L513.1,404.4L512.7,405.0L511.9,407.2L511.6,407.5L511.5,407.3L511.2,404.2L511.1,401.9L511.3,394.2L511.5,393.3L511.8,392.3L512.2,391.6Z"/>
<path fill="#57ffa8" fill-rule="evenodd" d="M512.5,391.6L512.7,391.5L513.1,391.7L514.6,393.5L515.1,393.7L515.5,393.7L515.7,393.5L516.7,392.2L517.4,391.6L517.7,391.6L518.0,391.8L518.5,392.6L518.8,393.9L519.0,400.8L518.9,404.3L518.6,406.0L518.5,406.1L518.2,405.7L517.2,403.5L517.0,403.1L516.7,402.9L516.5,403.2L515.7,405.1L515.4,405.6L515.0,405.6L514.7,405.4L513.9,403.5L513.6,403.3L513.4,403.5L513.1,403.8L511.9,406.3L511.7,406.4L511.6,406.2L511.3,404.2L511.2,401.9L511.4,394.3L511.5,393.6L511.7,392.7L512.1,392.0Z"/>
<path fill="#71ff8e" fill-rule="evenodd" d="M512.5,391.8L512.9,391.8L513.4,392.1L513.9,392.8L514.6,394.1L514.9,394.3L515.1,394.4L515.5,394.4L515.7,394.2L516.5,392.7L517.2,391.9L517.6,391.8L517.9,391.9L518.4,392.5L518.6,393.2L518.7,393.9L518.9,400.2L518.8,403.4L518.7,404.4L518.5,405.0L518.4,405.1L518.1,404.8L516.9,402.1L516.5,401.6L516.4,401.6L516.2,401.9L515.9,403.5L515.4,404.3L515.1,404.4L514.7,404.1L514.4,403.4L514.0,402.3L513.9,402.2L513.5,402.6L512.1,405.3L511.9,405.5L511.6,405.2L511.4,403.8L511.2,401.3L511.5,394.3L511.6,393.4L511.8,392.7L512.1,392.2Z"/>
<path fill="#8aff75" fill-rule="evenodd" d="M512.5,392.0L512.7,391.9L513.0,392.0L513.5,392.4L513.9,393.2L514.6,394.9L514.9,395.1L515.1,395.2L515.6,395.1L515.9,394.8L516.5,393.1L517.1,392.2L517.5,392.0L517.7,392.0L518.0,392.2L518.3,392.7L518.5,393.3L518.6,393.9L518.8,400.3L518.7,403.2L518.6,403.9L518.4,404.4L518.1,404.2L517.9,403.8L516.4,400.1L516.1,399.8L515.9,399.9L515.8,400.3L515.5,402.4L515.4,402.8L515.1,403.0L514.9,402.7L514.5,400.8L514.4,400.5L514.2,400.5L513.9,401.1L512.4,404.5L512.0,404.9L511.7,404.8L511.5,403.7L511.3,401.3L511.5,394.4L511.6,393.7L511.9,392.9L512.1,392.4Z"/>
<path fill="#a4ff5b" fill-rule="evenodd" d="M512.7,392.1L513.2,392.4L513.7,393.1L514.0,393.8L514.5,395.5L515.1,396.4L515.2,396.7L514.4,398.7L512.9,402.9L512.4,404.1L512.0,404.4L511.7,404.2L511.6,403.8L511.4,401.7L511.6,394.4L511.7,393.6L512.0,392.8L512.4,392.3ZM517.5,392.2L517.9,392.3L518.2,392.7L518.5,393.3L518.6,394.1L518.7,401.2L518.6,403.1L518.5,403.6L518.2,403.8L517.9,403.3L517.5,402.6L516.2,398.6L515.5,396.7L515.5,396.4L516.1,395.1L516.6,393.2L517.0,392.5Z"/>
<path fill="#bdff42" fill-rule="evenodd" d="M512.7,392.3L513.0,392.4L513.4,392.7L513.9,393.7L514.3,396.1L514.3,397.2L513.7,400.2L513.1,402.1L512.5,403.5L512.2,403.9L512.0,404.0L511.8,403.7L511.6,403.2L511.5,401.2L511.7,394.4L511.8,393.7L512.0,393.0L512.4,392.5ZM517.5,392.3L517.9,392.4L518.2,392.8L518.4,393.3L518.5,394.1L518.7,400.6L518.5,402.6L518.4,403.1L518.2,403.2L518.1,403.2L517.9,402.9L517.3,401.4L516.3,397.8L516.1,396.8L516.2,395.9L516.6,393.4L517.0,392.7Z"/>
<path fill="#d7ff28" fill-rule="evenodd" d="M512.7,392.5L513.0,392.5L513.3,392.8L513.8,393.8L514.1,395.8L514.1,397.2L513.9,398.4L513.2,401.3L512.6,402.9L512.4,403.3L512.1,403.5L511.9,403.4L511.7,403.0L511.5,401.1L511.7,394.6L511.8,393.8L512.0,393.2L512.4,392.6ZM517.5,392.5L517.9,392.6L518.1,392.9L518.3,393.4L518.4,394.2L518.6,400.4L518.4,402.1L518.2,402.6L518.1,402.6L517.7,402.1L517.2,400.7L516.5,398.1L516.3,396.8L516.4,395.8L516.7,393.6L517.0,392.9L517.2,392.6Z"/>
<path fill="#f0ff0f" fill-rule="evenodd" d="M512.7,392.6L513.0,392.7L513.2,392.9L513.7,393.8L513.9,395.8L514.0,397.3L513.5,399.6L513.1,401.2L512.5,402.7L512.1,403.1L511.9,402.9L511.8,402.4L511.6,400.8L511.8,394.6L511.9,393.8L512.1,393.2L512.4,392.8ZM517.5,392.7L517.9,392.8L518.1,393.2L518.3,394.2L518.5,400.1L518.4,401.5L518.1,402.0L518.0,402.0L517.7,401.6L517.3,400.6L516.5,396.9L516.5,395.8L516.8,393.7L517.1,393.0Z"/>
<path fill="#fff500" fill-rule="evenodd" d="M512.7,392.8L513.0,392.9L513.2,393.1L513.6,393.9L513.8,395.9L513.9,397.3L513.5,399.1L513.0,401.1L512.5,402.3L512.2,402.6L512.1,402.6L511.9,402.1L511.7,400.6L511.9,394.6L512.1,393.4L512.4,393.0ZM517.5,392.9L517.7,392.9L518.1,393.3L518.3,394.4L518.4,399.9L518.2,401.1L518.1,401.4L518.0,401.4L517.7,401.1L517.3,400.1L516.8,397.8L516.6,396.8L516.9,393.8L517.1,393.2Z"/>
<path fill="#ffdd00" fill-rule="evenodd" d="M512.7,393.0L513.1,393.2L513.5,393.9L513.7,395.7L513.7,397.2L513.6,398.3L513.0,400.7L512.6,401.7L512.2,402.2L512.1,402.1L512.0,401.8L511.8,400.4L511.9,394.7L512.1,393.6L512.4,393.2ZM517.5,393.1L517.7,393.2L518.0,393.4L518.2,394.4L518.3,399.3L518.2,400.3L518.0,400.8L517.7,400.6L517.4,399.7L516.8,396.9L517.0,393.9L517.2,393.4Z"/>
<path fill="#ffc500" fill-rule="evenodd" d="M512.7,393.2L513.1,393.4L513.4,394.1L513.6,395.9L513.6,397.3L513.0,400.4L512.6,401.4L512.4,401.7L512.2,401.7L512.0,401.3L511.9,400.2L512.0,394.8L512.1,394.1L512.2,393.6L512.5,393.3ZM517.6,393.4L517.9,393.6L518.0,393.9L518.2,396.8L518.1,399.6L518.0,400.1L517.9,400.2L517.6,399.8L517.4,399.1L516.9,396.8L517.1,394.0L517.3,393.6Z"/>
<path fill="#ffae00" fill-rule="evenodd" d="M512.7,393.4L513.1,393.6L513.3,394.2L513.5,397.2L513.4,398.1L513.0,400.1L512.6,401.0L512.4,401.3L512.2,401.2L512.1,401.1L512.0,400.2L512.0,396.1L512.2,394.1L512.4,393.6ZM517.6,393.7L517.7,393.8L517.9,394.2L518.1,396.7L518.0,398.6L517.9,399.4L517.7,399.3L517.5,398.9L517.1,397.6L517.0,396.8L517.2,394.3L517.4,393.9Z"/>
<path fill="#ff9600" fill-rule="evenodd" d="M512.7,393.6L513.0,393.8L513.2,394.3L513.4,397.2L513.3,398.1L512.9,399.9L512.6,400.5L512.4,400.8L512.2,400.7L512.1,400.4L512.1,399.8L512.1,396.0L512.3,394.2L512.5,393.7ZM517.6,394.5L517.9,395.7L518.0,396.8L517.9,397.9L517.7,398.5L517.6,398.4L517.4,397.8L517.2,396.8L517.4,395.0L517.5,394.6Z"/>
<path fill="#ff7e00" fill-rule="evenodd" d="M512.7,393.8L513.0,394.0L513.1,394.4L513.3,397.3L512.9,399.4L512.6,400.0L512.5,400.2L512.4,400.2L512.2,399.9L512.2,398.9L512.2,396.2L512.4,394.4L512.5,394.0ZM517.6,396.0L517.8,396.9L517.6,397.5L517.5,397.3L517.4,396.7L517.5,396.1Z"/>
<path fill="#ff6600" fill-rule="evenodd" d="M512.7,394.2L512.9,394.3L513.0,394.7L513.2,397.2L512.9,398.8L512.6,399.4L512.5,399.5L512.4,399.3L512.3,398.7L512.3,397.1L512.5,394.6L512.6,394.3Z"/>
<path fill="#ff4e00" fill-rule="evenodd" d="M512.7,395.2L513.0,396.1L513.1,397.2L512.9,398.2L512.6,398.6L512.4,398.3L512.4,397.3L512.5,396.0L512.6,395.4Z"/>
<path fill="#ff3700" fill-rule="evenodd" d="M512.7,396.7L512.8,397.2L512.7,397.6L512.6,397.5L512.6,397.3Z"/>
</g>
<rect x="33.0" y="185.75" width="1.3" height="0.5" fill="#333"/><text x="31.3" y="188.4" class="tk" font-size="6.70" text-anchor="end" textLength="3.4" lengthAdjust="spacingAndGlyphs">0</text>
<rect x="33.0" y="164.35" width="1.3" height="0.5" fill="#333"/><text x="31.3" y="167.0" class="tk" font-size="6.70" text-anchor="end" textLength="6.7" lengthAdjust="spacingAndGlyphs">25</text>
<rect x="33.0" y="142.95" width="1.3" height="0.5" fill="#333"/><text x="31.3" y="145.6" class="tk" font-size="6.70" text-anchor="end" textLength="6.7" lengthAdjust="spacingAndGlyphs">50</text>
<rect x="33.0" y="121.55" width="1.3" height="0.5" fill="#333"/><text x="31.3" y="124.2" class="tk" font-size="6.70" text-anchor="end" textLength="6.7" lengthAdjust="spacingAndGlyphs">75</text>
<rect x="33.0" y="100.15" width="1.3" height="0.5" fill="#333"/><text x="31.3" y="102.8" class="tk" font-size="6.70" text-anchor="end" textLength="10.1" lengthAdjust="spacingAndGlyphs">100</text>
<rect x="33.0" y="78.75" width="1.3" height="0.5" fill="#333"/><text x="31.3" y="81.4" class="tk" font-size="6.70" text-anchor="end" textLength="10.1" lengthAdjust="spacingAndGlyphs">125</text>
<rect x="33.0" y="453.78" width="1.3" height="0.5" fill="#333"/><text x="31.3" y="456.4" class="tk" font-size="6.70" text-anchor="end" textLength="8.7" lengthAdjust="spacingAndGlyphs">-50</text>
<rect x="33.0" y="432.12" width="1.3" height="0.5" fill="#333"/><text x="31.3" y="434.8" class="tk" font-size="6.70" text-anchor="end" textLength="8.7" lengthAdjust="spacingAndGlyphs">-25</text>
<rect x="33.0" y="410.45" width="1.3" height="0.5" fill="#333"/><text x="31.3" y="413.1" class="tk" font-size="6.70" text-anchor="end" textLength="3.4" lengthAdjust="spacingAndGlyphs">0</text>
<rect x="33.0" y="388.78" width="1.3" height="0.5" fill="#333"/><text x="31.3" y="391.4" class="tk" font-size="6.70" text-anchor="end" textLength="6.7" lengthAdjust="spacingAndGlyphs">25</text>
<rect x="33.0" y="367.12" width="1.3" height="0.5" fill="#333"/><text x="31.3" y="369.8" class="tk" font-size="6.70" text-anchor="end" textLength="6.7" lengthAdjust="spacingAndGlyphs">50</text>
<rect x="33.0" y="345.45" width="1.3" height="0.5" fill="#333"/><text x="31.3" y="348.1" class="tk" font-size="6.70" text-anchor="end" textLength="6.7" lengthAdjust="spacingAndGlyphs">75</text>
<rect x="33.0" y="323.78" width="1.3" height="0.5" fill="#333"/><text x="31.3" y="326.4" class="tk" font-size="6.70" text-anchor="end" textLength="10.1" lengthAdjust="spacingAndGlyphs">100</text>
<rect x="44.95" y="203.8" width="0.5" height="1.2" fill="#333"/><rect x="44.95" y="460.5" width="0.5" height="1.2" fill="#333"/><text x="44.6" y="210.6" class="tk" font-size="6.70" text-anchor="middle" textLength="8.7" lengthAdjust="spacingAndGlyphs">-25</text>
<text x="44.6" y="467.6" class="tk" font-size="6.70" text-anchor="middle" textLength="8.7" lengthAdjust="spacingAndGlyphs">-25</text>
<rect x="64.75" y="203.8" width="0.5" height="1.2" fill="#333"/><rect x="64.75" y="460.5" width="0.5" height="1.2" fill="#333"/><text x="65.1" y="210.6" class="tk" font-size="6.70" text-anchor="middle" textLength="3.4" lengthAdjust="spacingAndGlyphs">0</text>
<text x="65.1" y="467.6" class="tk" font-size="6.70" text-anchor="middle" textLength="3.4" lengthAdjust="spacingAndGlyphs">0</text>
<rect x="86.45" y="203.8" width="0.5" height="1.2" fill="#333"/><rect x="86.45" y="460.5" width="0.5" height="1.2" fill="#333"/><text x="86.9" y="210.6" class="tk" font-size="6.70" text-anchor="middle" textLength="6.7" lengthAdjust="spacingAndGlyphs">25</text>
<text x="86.9" y="467.6" class="tk" font-size="6.70" text-anchor="middle" textLength="6.7" lengthAdjust="spacingAndGlyphs">25</text>
<rect x="123.2" y="185.75" width="1.3" height="0.5" fill="#333"/><text x="121.5" y="188.4" class="tk" font-size="6.70" text-anchor="end" textLength="3.4" lengthAdjust="spacingAndGlyphs">0</text>
<rect x="123.2" y="164.35" width="1.3" height="0.5" fill="#333"/><text x="121.5" y="167.0" class="tk" font-size="6.70" text-anchor="end" textLength="6.7" lengthAdjust="spacingAndGlyphs">25</text>
<rect x="123.2" y="142.95" width="1.3" height="0.5" fill="#333"/><text x="121.5" y="145.6" class="tk" font-size="6.70" text-anchor="end" textLength="6.7" lengthAdjust="spacingAndGlyphs">50</text>
<rect x="123.2" y="121.55" width="1.3" height="0.5" fill="#333"/><text x="121.5" y="124.2" class="tk" font-size="6.70" text-anchor="end" textLength="6.7" lengthAdjust="spacingAndGlyphs">75</text>
<rect x="123.2" y="100.15" width="1.3" height="0.5" fill="#333"/><text x="121.5" y="102.8" class="tk" font-size="6.70" text-anchor="end" textLength="10.1" lengthAdjust="spacingAndGlyphs">100</text>
<rect x="123.2" y="78.75" width="1.3" height="0.5" fill="#333"/><text x="121.5" y="81.4" class="tk" font-size="6.70" text-anchor="end" textLength="10.1" lengthAdjust="spacingAndGlyphs">125</text>
<rect x="123.2" y="453.78" width="1.3" height="0.5" fill="#333"/><text x="121.5" y="456.4" class="tk" font-size="6.70" text-anchor="end" textLength="8.7" lengthAdjust="spacingAndGlyphs">-50</text>
<rect x="123.2" y="432.12" width="1.3" height="0.5" fill="#333"/><text x="121.5" y="434.8" class="tk" font-size="6.70" text-anchor="end" textLength="8.7" lengthAdjust="spacingAndGlyphs">-25</text>
<rect x="123.2" y="410.45" width="1.3" height="0.5" fill="#333"/><text x="121.5" y="413.1" class="tk" font-size="6.70" text-anchor="end" textLength="3.4" lengthAdjust="spacingAndGlyphs">0</text>
<rect x="123.2" y="388.78" width="1.3" height="0.5" fill="#333"/><text x="121.5" y="391.4" class="tk" font-size="6.70" text-anchor="end" textLength="6.7" lengthAdjust="spacingAndGlyphs">25</text>
<rect x="123.2" y="367.12" width="1.3" height="0.5" fill="#333"/><text x="121.5" y="369.8" class="tk" font-size="6.70" text-anchor="end" textLength="6.7" lengthAdjust="spacingAndGlyphs">50</text>
<rect x="123.2" y="345.45" width="1.3" height="0.5" fill="#333"/><text x="121.5" y="348.1" class="tk" font-size="6.70" text-anchor="end" textLength="6.7" lengthAdjust="spacingAndGlyphs">75</text>
<rect x="123.2" y="323.78" width="1.3" height="0.5" fill="#333"/><text x="121.5" y="326.4" class="tk" font-size="6.70" text-anchor="end" textLength="10.1" lengthAdjust="spacingAndGlyphs">100</text>
<rect x="135.15" y="203.8" width="0.5" height="1.2" fill="#333"/><rect x="135.15" y="460.5" width="0.5" height="1.2" fill="#333"/><text x="134.8" y="210.6" class="tk" font-size="6.70" text-anchor="middle" textLength="8.7" lengthAdjust="spacingAndGlyphs">-25</text>
<text x="134.8" y="467.6" class="tk" font-size="6.70" text-anchor="middle" textLength="8.7" lengthAdjust="spacingAndGlyphs">-25</text>
<rect x="154.95" y="203.8" width="0.5" height="1.2" fill="#333"/><rect x="154.95" y="460.5" width="0.5" height="1.2" fill="#333"/><text x="155.3" y="210.6" class="tk" font-size="6.70" text-anchor="middle" textLength="3.4" lengthAdjust="spacingAndGlyphs">0</text>
<text x="155.3" y="467.6" class="tk" font-size="6.70" text-anchor="middle" textLength="3.4" lengthAdjust="spacingAndGlyphs">0</text>
<rect x="176.65" y="203.8" width="0.5" height="1.2" fill="#333"/><rect x="176.65" y="460.5" width="0.5" height="1.2" fill="#333"/><text x="177.1" y="210.6" class="tk" font-size="6.70" text-anchor="middle" textLength="6.7" lengthAdjust="spacingAndGlyphs">25</text>
<text x="177.1" y="467.6" class="tk" font-size="6.70" text-anchor="middle" textLength="6.7" lengthAdjust="spacingAndGlyphs">25</text>
<rect x="213.4" y="185.75" width="1.3" height="0.5" fill="#333"/><text x="211.7" y="188.4" class="tk" font-size="6.70" text-anchor="end" textLength="3.4" lengthAdjust="spacingAndGlyphs">0</text>
<rect x="213.4" y="164.35" width="1.3" height="0.5" fill="#333"/><text x="211.7" y="167.0" class="tk" font-size="6.70" text-anchor="end" textLength="6.7" lengthAdjust="spacingAndGlyphs">25</text>
<rect x="213.4" y="142.95" width="1.3" height="0.5" fill="#333"/><text x="211.7" y="145.6" class="tk" font-size="6.70" text-anchor="end" textLength="6.7" lengthAdjust="spacingAndGlyphs">50</text>
<rect x="213.4" y="121.55" width="1.3" height="0.5" fill="#333"/><text x="211.7" y="124.2" class="tk" font-size="6.70" text-anchor="end" textLength="6.7" lengthAdjust="spacingAndGlyphs">75</text>
<rect x="213.4" y="100.15" width="1.3" height="0.5" fill="#333"/><text x="211.7" y="102.8" class="tk" font-size="6.70" text-anchor="end" textLength="10.1" lengthAdjust="spacingAndGlyphs">100</text>
<rect x="213.4" y="78.75" width="1.3" height="0.5" fill="#333"/><text x="211.7" y="81.4" class="tk" font-size="6.70" text-anchor="end" textLength="10.1" lengthAdjust="spacingAndGlyphs">125</text>
<rect x="213.4" y="453.78" width="1.3" height="0.5" fill="#333"/><text x="211.7" y="456.4" class="tk" font-size="6.70" text-anchor="end" textLength="8.7" lengthAdjust="spacingAndGlyphs">-50</text>
<rect x="213.4" y="432.12" width="1.3" height="0.5" fill="#333"/><text x="211.7" y="434.8" class="tk" font-size="6.70" text-anchor="end" textLength="8.7" lengthAdjust="spacingAndGlyphs">-25</text>
<rect x="213.4" y="410.45" width="1.3" height="0.5" fill="#333"/><text x="211.7" y="413.1" class="tk" font-size="6.70" text-anchor="end" textLength="3.4" lengthAdjust="spacingAndGlyphs">0</text>
<rect x="213.4" y="388.78" width="1.3" height="0.5" fill="#333"/><text x="211.7" y="391.4" class="tk" font-size="6.70" text-anchor="end" textLength="6.7" lengthAdjust="spacingAndGlyphs">25</text>
<rect x="213.4" y="367.12" width="1.3" height="0.5" fill="#333"/><text x="211.7" y="369.8" class="tk" font-size="6.70" text-anchor="end" textLength="6.7" lengthAdjust="spacingAndGlyphs">50</text>
<rect x="213.4" y="345.45" width="1.3" height="0.5" fill="#333"/><text x="211.7" y="348.1" class="tk" font-size="6.70" text-anchor="end" textLength="6.7" lengthAdjust="spacingAndGlyphs">75</text>
<rect x="213.4" y="323.78" width="1.3" height="0.5" fill="#333"/><text x="211.7" y="326.4" class="tk" font-size="6.70" text-anchor="end" textLength="10.1" lengthAdjust="spacingAndGlyphs">100</text>
<rect x="225.35" y="203.8" width="0.5" height="1.2" fill="#333"/><rect x="225.35" y="460.5" width="0.5" height="1.2" fill="#333"/><text x="225.0" y="210.6" class="tk" font-size="6.70" text-anchor="middle" textLength="8.7" lengthAdjust="spacingAndGlyphs">-25</text>
<text x="225.0" y="467.6" class="tk" font-size="6.70" text-anchor="middle" textLength="8.7" lengthAdjust="spacingAndGlyphs">-25</text>
<rect x="245.15" y="203.8" width="0.5" height="1.2" fill="#333"/><rect x="245.15" y="460.5" width="0.5" height="1.2" fill="#333"/><text x="245.5" y="210.6" class="tk" font-size="6.70" text-anchor="middle" textLength="3.4" lengthAdjust="spacingAndGlyphs">0</text>
<text x="245.5" y="467.6" class="tk" font-size="6.70" text-anchor="middle" textLength="3.4" lengthAdjust="spacingAndGlyphs">0</text>
<rect x="266.85" y="203.8" width="0.5" height="1.2" fill="#333"/><rect x="266.85" y="460.5" width="0.5" height="1.2" fill="#333"/><text x="267.3" y="210.6" class="tk" font-size="6.70" text-anchor="middle" textLength="6.7" lengthAdjust="spacingAndGlyphs">25</text>
<text x="267.3" y="467.6" class="tk" font-size="6.70" text-anchor="middle" textLength="6.7" lengthAdjust="spacingAndGlyphs">25</text>
<rect x="303.6" y="185.75" width="1.3" height="0.5" fill="#333"/><text x="301.9" y="188.4" class="tk" font-size="6.70" text-anchor="end" textLength="3.4" lengthAdjust="spacingAndGlyphs">0</text>
<rect x="303.6" y="164.35" width="1.3" height="0.5" fill="#333"/><text x="301.9" y="167.0" class="tk" font-size="6.70" text-anchor="end" textLength="6.7" lengthAdjust="spacingAndGlyphs">25</text>
<rect x="303.6" y="142.95" width="1.3" height="0.5" fill="#333"/><text x="301.9" y="145.6" class="tk" font-size="6.70" text-anchor="end" textLength="6.7" lengthAdjust="spacingAndGlyphs">50</text>
<rect x="303.6" y="121.55" width="1.3" height="0.5" fill="#333"/><text x="301.9" y="124.2" class="tk" font-size="6.70" text-anchor="end" textLength="6.7" lengthAdjust="spacingAndGlyphs">75</text>
<rect x="303.6" y="100.15" width="1.3" height="0.5" fill="#333"/><text x="301.9" y="102.8" class="tk" font-size="6.70" text-anchor="end" textLength="10.1" lengthAdjust="spacingAndGlyphs">100</text>
<rect x="303.6" y="78.75" width="1.3" height="0.5" fill="#333"/><text x="301.9" y="81.4" class="tk" font-size="6.70" text-anchor="end" textLength="10.1" lengthAdjust="spacingAndGlyphs">125</text>
<rect x="303.6" y="453.78" width="1.3" height="0.5" fill="#333"/><text x="301.9" y="456.4" class="tk" font-size="6.70" text-anchor="end" textLength="8.7" lengthAdjust="spacingAndGlyphs">-50</text>
<rect x="303.6" y="432.12" width="1.3" height="0.5" fill="#333"/><text x="301.9" y="434.8" class="tk" font-size="6.70" text-anchor="end" textLength="8.7" lengthAdjust="spacingAndGlyphs">-25</text>
<rect x="303.6" y="410.45" width="1.3" height="0.5" fill="#333"/><text x="301.9" y="413.1" class="tk" font-size="6.70" text-anchor="end" textLength="3.4" lengthAdjust="spacingAndGlyphs">0</text>
<rect x="303.6" y="388.78" width="1.3" height="0.5" fill="#333"/><text x="301.9" y="391.4" class="tk" font-size="6.70" text-anchor="end" textLength="6.7" lengthAdjust="spacingAndGlyphs">25</text>
<rect x="303.6" y="367.12" width="1.3" height="0.5" fill="#333"/><text x="301.9" y="369.8" class="tk" font-size="6.70" text-anchor="end" textLength="6.7" lengthAdjust="spacingAndGlyphs">50</text>
<rect x="303.6" y="345.45" width="1.3" height="0.5" fill="#333"/><text x="301.9" y="348.1" class="tk" font-size="6.70" text-anchor="end" textLength="6.7" lengthAdjust="spacingAndGlyphs">75</text>
<rect x="303.6" y="323.78" width="1.3" height="0.5" fill="#333"/><text x="301.9" y="326.4" class="tk" font-size="6.70" text-anchor="end" textLength="10.1" lengthAdjust="spacingAndGlyphs">100</text>
<rect x="315.55" y="203.8" width="0.5" height="1.2" fill="#333"/><rect x="315.55" y="460.5" width="0.5" height="1.2" fill="#333"/><text x="315.2" y="210.6" class="tk" font-size="6.70" text-anchor="middle" textLength="8.7" lengthAdjust="spacingAndGlyphs">-25</text>
<text x="315.2" y="467.6" class="tk" font-size="6.70" text-anchor="middle" textLength="8.7" lengthAdjust="spacingAndGlyphs">-25</text>
<rect x="335.35" y="203.8" width="0.5" height="1.2" fill="#333"/><rect x="335.35" y="460.5" width="0.5" height="1.2" fill="#333"/><text x="335.7" y="210.6" class="tk" font-size="6.70" text-anchor="middle" textLength="3.4" lengthAdjust="spacingAndGlyphs">0</text>
<text x="335.7" y="467.6" class="tk" font-size="6.70" text-anchor="middle" textLength="3.4" lengthAdjust="spacingAndGlyphs">0</text>
<rect x="357.05" y="203.8" width="0.5" height="1.2" fill="#333"/><rect x="357.05" y="460.5" width="0.5" height="1.2" fill="#333"/><text x="357.5" y="210.6" class="tk" font-size="6.70" text-anchor="middle" textLength="6.7" lengthAdjust="spacingAndGlyphs">25</text>
<text x="357.5" y="467.6" class="tk" font-size="6.70" text-anchor="middle" textLength="6.7" lengthAdjust="spacingAndGlyphs">25</text>
<rect x="393.8" y="185.75" width="1.3" height="0.5" fill="#333"/><text x="392.1" y="188.4" class="tk" font-size="6.70" text-anchor="end" textLength="3.4" lengthAdjust="spacingAndGlyphs">0</text>
<rect x="393.8" y="164.35" width="1.3" height="0.5" fill="#333"/><text x="392.1" y="167.0" class="tk" font-size="6.70" text-anchor="end" textLength="6.7" lengthAdjust="spacingAndGlyphs">25</text>
<rect x="393.8" y="142.95" width="1.3" height="0.5" fill="#333"/><text x="392.1" y="145.6" class="tk" font-size="6.70" text-anchor="end" textLength="6.7" lengthAdjust="spacingAndGlyphs">50</text>
<rect x="393.8" y="121.55" width="1.3" height="0.5" fill="#333"/><text x="392.1" y="124.2" class="tk" font-size="6.70" text-anchor="end" textLength="6.7" lengthAdjust="spacingAndGlyphs">75</text>
<rect x="393.8" y="100.15" width="1.3" height="0.5" fill="#333"/><text x="392.1" y="102.8" class="tk" font-size="6.70" text-anchor="end" textLength="10.1" lengthAdjust="spacingAndGlyphs">100</text>
<rect x="393.8" y="78.75" width="1.3" height="0.5" fill="#333"/><text x="392.1" y="81.4" class="tk" font-size="6.70" text-anchor="end" textLength="10.1" lengthAdjust="spacingAndGlyphs">125</text>
<rect x="393.8" y="453.78" width="1.3" height="0.5" fill="#333"/><text x="392.1" y="456.4" class="tk" font-size="6.70" text-anchor="end" textLength="8.7" lengthAdjust="spacingAndGlyphs">-50</text>
<rect x="393.8" y="432.12" width="1.3" height="0.5" fill="#333"/><text x="392.1" y="434.8" class="tk" font-size="6.70" text-anchor="end" textLength="8.7" lengthAdjust="spacingAndGlyphs">-25</text>
<rect x="393.8" y="410.45" width="1.3" height="0.5" fill="#333"/><text x="392.1" y="413.1" class="tk" font-size="6.70" text-anchor="end" textLength="3.4" lengthAdjust="spacingAndGlyphs">0</text>
<rect x="393.8" y="388.78" width="1.3" height="0.5" fill="#333"/><text x="392.1" y="391.4" class="tk" font-size="6.70" text-anchor="end" textLength="6.7" lengthAdjust="spacingAndGlyphs">25</text>
<rect x="393.8" y="367.12" width="1.3" height="0.5" fill="#333"/><text x="392.1" y="369.8" class="tk" font-size="6.70" text-anchor="end" textLength="6.7" lengthAdjust="spacingAndGlyphs">50</text>
<rect x="393.8" y="345.45" width="1.3" height="0.5" fill="#333"/><text x="392.1" y="348.1" class="tk" font-size="6.70" text-anchor="end" textLength="6.7" lengthAdjust="spacingAndGlyphs">75</text>
<rect x="393.8" y="323.78" width="1.3" height="0.5" fill="#333"/><text x="392.1" y="326.4" class="tk" font-size="6.70" text-anchor="end" textLength="10.1" lengthAdjust="spacingAndGlyphs">100</text>
<rect x="405.75" y="203.8" width="0.5" height="1.2" fill="#333"/><rect x="405.75" y="460.5" width="0.5" height="1.2" fill="#333"/><text x="405.4" y="210.6" class="tk" font-size="6.70" text-anchor="middle" textLength="8.7" lengthAdjust="spacingAndGlyphs">-25</text>
<text x="405.4" y="467.6" class="tk" font-size="6.70" text-anchor="middle" textLength="8.7" lengthAdjust="spacingAndGlyphs">-25</text>
<rect x="425.55" y="203.8" width="0.5" height="1.2" fill="#333"/><rect x="425.55" y="460.5" width="0.5" height="1.2" fill="#333"/><text x="425.9" y="210.6" class="tk" font-size="6.70" text-anchor="middle" textLength="3.4" lengthAdjust="spacingAndGlyphs">0</text>
<text x="425.9" y="467.6" class="tk" font-size="6.70" text-anchor="middle" textLength="3.4" lengthAdjust="spacingAndGlyphs">0</text>
<rect x="447.25" y="203.8" width="0.5" height="1.2" fill="#333"/><rect x="447.25" y="460.5" width="0.5" height="1.2" fill="#333"/><text x="447.7" y="210.6" class="tk" font-size="6.70" text-anchor="middle" textLength="6.7" lengthAdjust="spacingAndGlyphs">25</text>
<text x="447.7" y="467.6" class="tk" font-size="6.70" text-anchor="middle" textLength="6.7" lengthAdjust="spacingAndGlyphs">25</text>
<rect x="484.0" y="185.75" width="1.3" height="0.5" fill="#333"/><text x="482.3" y="188.4" class="tk" font-size="6.70" text-anchor="end" textLength="3.4" lengthAdjust="spacingAndGlyphs">0</text>
<rect x="484.0" y="164.35" width="1.3" height="0.5" fill="#333"/><text x="482.3" y="167.0" class="tk" font-size="6.70" text-anchor="end" textLength="6.7" lengthAdjust="spacingAndGlyphs">25</text>
<rect x="484.0" y="142.95" width="1.3" height="0.5" fill="#333"/><text x="482.3" y="145.6" class="tk" font-size="6.70" text-anchor="end" textLength="6.7" lengthAdjust="spacingAndGlyphs">50</text>
<rect x="484.0" y="121.55" width="1.3" height="0.5" fill="#333"/><text x="482.3" y="124.2" class="tk" font-size="6.70" text-anchor="end" textLength="6.7" lengthAdjust="spacingAndGlyphs">75</text>
<rect x="484.0" y="100.15" width="1.3" height="0.5" fill="#333"/><text x="482.3" y="102.8" class="tk" font-size="6.70" text-anchor="end" textLength="10.1" lengthAdjust="spacingAndGlyphs">100</text>
<rect x="484.0" y="78.75" width="1.3" height="0.5" fill="#333"/><text x="482.3" y="81.4" class="tk" font-size="6.70" text-anchor="end" textLength="10.1" lengthAdjust="spacingAndGlyphs">125</text>
<rect x="484.0" y="453.78" width="1.3" height="0.5" fill="#333"/><text x="482.3" y="456.4" class="tk" font-size="6.70" text-anchor="end" textLength="8.7" lengthAdjust="spacingAndGlyphs">-50</text>
<rect x="484.0" y="432.12" width="1.3" height="0.5" fill="#333"/><text x="482.3" y="434.8" class="tk" font-size="6.70" text-anchor="end" textLength="8.7" lengthAdjust="spacingAndGlyphs">-25</text>
<rect x="484.0" y="410.45" width="1.3" height="0.5" fill="#333"/><text x="482.3" y="413.1" class="tk" font-size="6.70" text-anchor="end" textLength="3.4" lengthAdjust="spacingAndGlyphs">0</text>
<rect x="484.0" y="388.78" width="1.3" height="0.5" fill="#333"/><text x="482.3" y="391.4" class="tk" font-size="6.70" text-anchor="end" textLength="6.7" lengthAdjust="spacingAndGlyphs">25</text>
<rect x="484.0" y="367.12" width="1.3" height="0.5" fill="#333"/><text x="482.3" y="369.8" class="tk" font-size="6.70" text-anchor="end" textLength="6.7" lengthAdjust="spacingAndGlyphs">50</text>
<rect x="484.0" y="345.45" width="1.3" height="0.5" fill="#333"/><text x="482.3" y="348.1" class="tk" font-size="6.70" text-anchor="end" textLength="6.7" lengthAdjust="spacingAndGlyphs">75</text>
<rect x="484.0" y="323.78" width="1.3" height="0.5" fill="#333"/><text x="482.3" y="326.4" class="tk" font-size="6.70" text-anchor="end" textLength="10.1" lengthAdjust="spacingAndGlyphs">100</text>
<rect x="495.95" y="203.8" width="0.5" height="1.2" fill="#333"/><rect x="495.95" y="460.5" width="0.5" height="1.2" fill="#333"/><text x="495.6" y="210.6" class="tk" font-size="6.70" text-anchor="middle" textLength="8.7" lengthAdjust="spacingAndGlyphs">-25</text>
<text x="495.6" y="467.6" class="tk" font-size="6.70" text-anchor="middle" textLength="8.7" lengthAdjust="spacingAndGlyphs">-25</text>
<rect x="515.75" y="203.8" width="0.5" height="1.2" fill="#333"/><rect x="515.75" y="460.5" width="0.5" height="1.2" fill="#333"/><text x="516.1" y="210.6" class="tk" font-size="6.70" text-anchor="middle" textLength="3.4" lengthAdjust="spacingAndGlyphs">0</text>
<text x="516.1" y="467.6" class="tk" font-size="6.70" text-anchor="middle" textLength="3.4" lengthAdjust="spacingAndGlyphs">0</text>
<rect x="537.45" y="203.8" width="0.5" height="1.2" fill="#333"/><rect x="537.45" y="460.5" width="0.5" height="1.2" fill="#333"/><text x="537.9" y="210.6" class="tk" font-size="6.70" text-anchor="middle" textLength="6.7" lengthAdjust="spacingAndGlyphs">25</text>
<text x="537.9" y="467.6" class="tk" font-size="6.70" text-anchor="middle" textLength="6.7" lengthAdjust="spacingAndGlyphs">25</text>
</svg>
</body></html>
